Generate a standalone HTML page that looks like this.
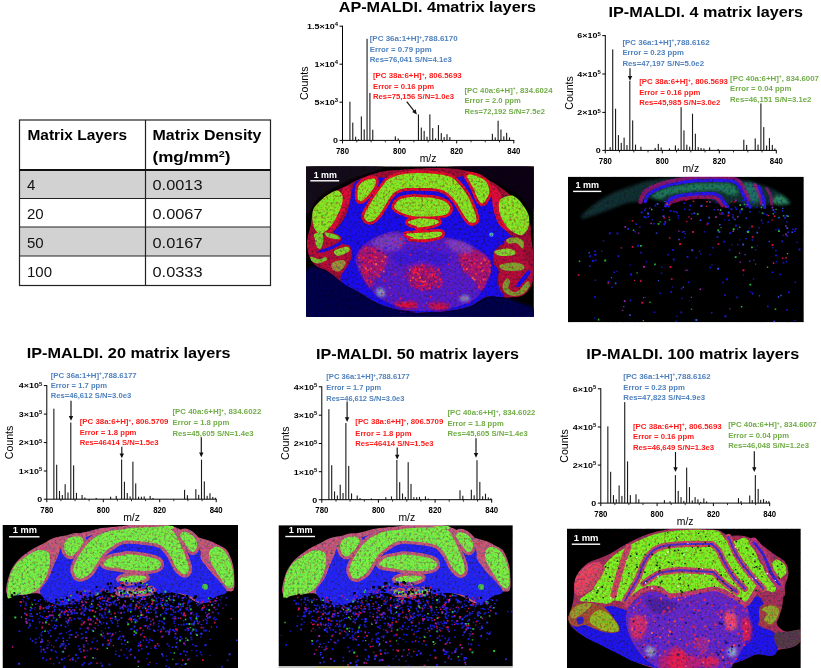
<!DOCTYPE html>
<html><head><meta charset="utf-8"><title>MALDI matrix layers</title>
<style>html,body{margin:0;padding:0;background:#fff}svg{display:block}</style></head>
<body>
<svg width="821" height="668" viewBox="0 0 821 668" font-family='"Liberation Sans", sans-serif'>
<defs>
<filter id="bl1" x="-5%" y="-5%" width="110%" height="110%"><feGaussianBlur stdDeviation="0.7"/></filter>
<filter id="bl2" x="-10%" y="-10%" width="120%" height="120%"><feGaussianBlur stdDeviation="1.6"/></filter>
<filter id="grain" x="0" y="0" width="100%" height="100%"><feTurbulence type="fractalNoise" baseFrequency="0.55" numOctaves="2" seed="3" result="n"/><feColorMatrix in="n" type="matrix" values="0 0 0 0 0  0 0 0 0 0  0 0 0 0 0  1.6 0 0 0 -0.55"/></filter>
<filter id="cn" x="0" y="0" width="100%" height="100%" color-interpolation-filters="sRGB"><feTurbulence type="fractalNoise" baseFrequency="0.42" numOctaves="2" seed="7" result="n"/><feColorMatrix in="n" type="matrix" values="1.3 0 0 0 0.3  0 1.3 0 0 0.3  0 0 1.3 0 0.3  0 0 0 0 1"/></filter>
</defs>
<rect width="821" height="668" fill="#fff"/>
<rect x="19.5" y="170" width="251.0" height="28.5" fill="#d2d2d2"/>
<rect x="19.5" y="227" width="251.0" height="29" fill="#d2d2d2"/>
<rect x="19.5" y="120" width="251.0" height="165.5" fill="none" stroke="#222" stroke-width="1.2"/>
<line x1="145.5" y1="120" x2="145.5" y2="285.5" stroke="#222" stroke-width="1.2"/>
<line x1="19.5" y1="170" x2="270.5" y2="170" stroke="#111" stroke-width="1.8"/>
<line x1="19.5" y1="198.5" x2="270.5" y2="198.5" stroke="#222" stroke-width="1.1"/>
<line x1="19.5" y1="227" x2="270.5" y2="227" stroke="#222" stroke-width="1.1"/>
<line x1="19.5" y1="256" x2="270.5" y2="256" stroke="#222" stroke-width="1.1"/>
<text x="27.5" y="140.2" font-size="14.6" font-weight="bold" fill="#000" text-anchor="start" textLength="99.5" lengthAdjust="spacingAndGlyphs" >Matrix Layers</text>
<text x="152.5" y="140.2" font-size="14.6" font-weight="bold" fill="#000" text-anchor="start" textLength="109.0" lengthAdjust="spacingAndGlyphs" >Matrix Density</text>
<text x="152.5" y="162.0" font-size="15" font-weight="bold" fill="#000" text-anchor="start" textLength="78.0" lengthAdjust="spacingAndGlyphs" >(mg/mm<tspan font-size="9.5" dy="-5">2</tspan><tspan dy="5">)</tspan></text>
<text x="27.0" y="190.0" font-size="15" font-weight="normal" fill="#111" text-anchor="start" >4</text>
<text x="152.5" y="190.0" font-size="15" font-weight="normal" fill="#111" text-anchor="start" textLength="50.0" lengthAdjust="spacingAndGlyphs" >0.0013</text>
<text x="27.0" y="218.5" font-size="15" font-weight="normal" fill="#111" text-anchor="start" >20</text>
<text x="152.5" y="218.5" font-size="15" font-weight="normal" fill="#111" text-anchor="start" textLength="50.0" lengthAdjust="spacingAndGlyphs" >0.0067</text>
<text x="27.0" y="247.5" font-size="15" font-weight="normal" fill="#111" text-anchor="start" >50</text>
<text x="152.5" y="247.5" font-size="15" font-weight="normal" fill="#111" text-anchor="start" textLength="50.0" lengthAdjust="spacingAndGlyphs" >0.0167</text>
<text x="27.0" y="276.5" font-size="15" font-weight="normal" fill="#111" text-anchor="start" >100</text>
<text x="152.5" y="276.5" font-size="15" font-weight="normal" fill="#111" text-anchor="start" textLength="50.0" lengthAdjust="spacingAndGlyphs" >0.0333</text>
<rect x="349.37" y="101.70" width="1.1" height="38.70" fill="#1a1a1a"/>
<rect x="352.23" y="122.60" width="1.1" height="17.80" fill="#1a1a1a"/>
<rect x="355.08" y="136.70" width="1.1" height="3.70" fill="#1a1a1a"/>
<rect x="357.94" y="139.20" width="1.1" height="1.20" fill="#1a1a1a"/>
<rect x="360.79" y="116.40" width="1.1" height="24.00" fill="#1a1a1a"/>
<rect x="363.65" y="129.40" width="1.1" height="11.00" fill="#1a1a1a"/>
<rect x="366.50" y="38.80" width="1.1" height="101.60" fill="#1a1a1a"/>
<rect x="369.36" y="92.90" width="1.1" height="47.50" fill="#1a1a1a"/>
<rect x="372.21" y="129.70" width="1.1" height="10.70" fill="#1a1a1a"/>
<rect x="394.77" y="136.40" width="1.1" height="4.00" fill="#1a1a1a"/>
<rect x="397.62" y="138.40" width="1.1" height="2.00" fill="#1a1a1a"/>
<rect x="417.89" y="114.40" width="1.1" height="26.00" fill="#1a1a1a"/>
<rect x="420.75" y="127.60" width="1.1" height="12.80" fill="#1a1a1a"/>
<rect x="423.60" y="130.90" width="1.1" height="9.50" fill="#1a1a1a"/>
<rect x="426.46" y="136.70" width="1.1" height="3.70" fill="#1a1a1a"/>
<rect x="429.31" y="114.40" width="1.1" height="26.00" fill="#1a1a1a"/>
<rect x="432.17" y="128.10" width="1.1" height="12.30" fill="#1a1a1a"/>
<rect x="435.02" y="138.40" width="1.1" height="2.00" fill="#1a1a1a"/>
<rect x="437.88" y="125.10" width="1.1" height="15.30" fill="#1a1a1a"/>
<rect x="440.73" y="133.10" width="1.1" height="7.30" fill="#1a1a1a"/>
<rect x="443.59" y="137.10" width="1.1" height="3.30" fill="#1a1a1a"/>
<rect x="446.44" y="134.20" width="1.1" height="6.20" fill="#1a1a1a"/>
<rect x="449.30" y="137.10" width="1.1" height="3.30" fill="#1a1a1a"/>
<rect x="491.84" y="133.80" width="1.1" height="6.60" fill="#1a1a1a"/>
<rect x="494.69" y="137.40" width="1.1" height="3.00" fill="#1a1a1a"/>
<rect x="497.55" y="120.70" width="1.1" height="19.70" fill="#1a1a1a"/>
<rect x="500.40" y="129.50" width="1.1" height="10.90" fill="#1a1a1a"/>
<rect x="503.26" y="136.40" width="1.1" height="4.00" fill="#1a1a1a"/>
<rect x="506.11" y="132.80" width="1.1" height="7.60" fill="#1a1a1a"/>
<rect x="508.97" y="137.40" width="1.1" height="3.00" fill="#1a1a1a"/>
<path d="M342.5 25.7V140.4H514.3" fill="none" stroke="#000" stroke-width="1"/>
<line x1="339.5" y1="26.2" x2="342.5" y2="26.2" stroke="#000" stroke-width="1"/>
<text x="338.0" y="29.0" font-size="7.6" font-weight="bold" fill="#000" text-anchor="end" textLength="31.0" lengthAdjust="spacingAndGlyphs" >1.5×10<tspan font-size="5" dy="-2.6">4</tspan></text>
<line x1="339.5" y1="64.2" x2="342.5" y2="64.2" stroke="#000" stroke-width="1"/>
<text x="338.0" y="67.0" font-size="7.6" font-weight="bold" fill="#000" text-anchor="end" textLength="23.5" lengthAdjust="spacingAndGlyphs" >1×10<tspan font-size="5" dy="-2.6">4</tspan></text>
<line x1="339.5" y1="102.2" x2="342.5" y2="102.2" stroke="#000" stroke-width="1"/>
<text x="338.0" y="105.0" font-size="7.6" font-weight="bold" fill="#000" text-anchor="end" textLength="23.5" lengthAdjust="spacingAndGlyphs" >5×10<tspan font-size="5" dy="-2.6">3</tspan></text>
<line x1="339.5" y1="140.4" x2="342.5" y2="140.4" stroke="#000" stroke-width="1"/>
<text x="338.0" y="143.2" font-size="7.6" font-weight="bold" fill="#000" text-anchor="end" textLength="5.0" lengthAdjust="spacingAndGlyphs" >0</text>
<line x1="342.5" y1="140.4" x2="342.5" y2="143.4" stroke="#000" stroke-width="1"/>
<text x="342.5" y="154.0" font-size="8.5" font-weight="bold" fill="#000" text-anchor="middle" textLength="13.0" lengthAdjust="spacingAndGlyphs" >780</text>
<line x1="399.6" y1="140.4" x2="399.6" y2="143.4" stroke="#000" stroke-width="1"/>
<text x="399.6" y="154.0" font-size="8.5" font-weight="bold" fill="#000" text-anchor="middle" textLength="13.0" lengthAdjust="spacingAndGlyphs" >800</text>
<line x1="456.7" y1="140.4" x2="456.7" y2="143.4" stroke="#000" stroke-width="1"/>
<text x="456.7" y="154.0" font-size="8.5" font-weight="bold" fill="#000" text-anchor="middle" textLength="13.0" lengthAdjust="spacingAndGlyphs" >820</text>
<line x1="513.8" y1="140.4" x2="513.8" y2="143.4" stroke="#000" stroke-width="1"/>
<text x="513.8" y="154.0" font-size="8.5" font-weight="bold" fill="#000" text-anchor="middle" textLength="13.0" lengthAdjust="spacingAndGlyphs" >840</text>
<line x1="356.8" y1="140.4" x2="356.8" y2="142.4" stroke="#000" stroke-width="0.8"/>
<line x1="371.1" y1="140.4" x2="371.1" y2="142.4" stroke="#000" stroke-width="0.8"/>
<line x1="385.3" y1="140.4" x2="385.3" y2="142.4" stroke="#000" stroke-width="0.8"/>
<line x1="413.9" y1="140.4" x2="413.9" y2="142.4" stroke="#000" stroke-width="0.8"/>
<line x1="428.1" y1="140.4" x2="428.1" y2="142.4" stroke="#000" stroke-width="0.8"/>
<line x1="442.4" y1="140.4" x2="442.4" y2="142.4" stroke="#000" stroke-width="0.8"/>
<line x1="471.0" y1="140.4" x2="471.0" y2="142.4" stroke="#000" stroke-width="0.8"/>
<line x1="485.2" y1="140.4" x2="485.2" y2="142.4" stroke="#000" stroke-width="0.8"/>
<line x1="499.5" y1="140.4" x2="499.5" y2="142.4" stroke="#000" stroke-width="0.8"/>
<text x="428.1" y="161.9" font-size="10.4" font-weight="normal" fill="#000" text-anchor="middle" >m/z</text>
<text transform="translate(307.5,83.3) rotate(-90)" font-size="10.6" text-anchor="middle" textLength="33.5" lengthAdjust="spacingAndGlyphs">Counts</text>
<text x="338.7" y="11.9" font-size="15.4" font-weight="bold" fill="#000" text-anchor="start" textLength="197.3" lengthAdjust="spacingAndGlyphs" >AP-MALDI. 4matrix layers</text>
<text x="369.7" y="41.3" font-size="7.4" font-weight="bold" fill="#4f81bd" text-anchor="start" textLength="88.0" lengthAdjust="spacingAndGlyphs" >[PC 36a:1+H]<tspan font-size="4.6" dy="-2.6">+</tspan><tspan dy="2.6">,788.6170</tspan></text>
<text x="369.7" y="51.7" font-size="7.4" font-weight="bold" fill="#4f81bd" text-anchor="start" textLength="62.1" lengthAdjust="spacingAndGlyphs" >Error = 0.79 ppm</text>
<text x="369.7" y="61.9" font-size="7.4" font-weight="bold" fill="#4f81bd" text-anchor="start" textLength="82.3" lengthAdjust="spacingAndGlyphs" >Res=76,041 S/N=4.1e3</text>
<text x="373.0" y="78.3" font-size="7.4" font-weight="bold" fill="#ff1a1a" text-anchor="start" textLength="88.7" lengthAdjust="spacingAndGlyphs" >[PC 38a:6+H]<tspan font-size="4.6" dy="-2.6">+</tspan><tspan dy="2.6">, 806.5693</tspan></text>
<text x="373.0" y="88.7" font-size="7.4" font-weight="bold" fill="#ff1a1a" text-anchor="start" textLength="61.1" lengthAdjust="spacingAndGlyphs" >Error = 0.16 ppm</text>
<text x="373.0" y="99.2" font-size="7.4" font-weight="bold" fill="#ff1a1a" text-anchor="start" textLength="81.0" lengthAdjust="spacingAndGlyphs" >Res=75,156 S/N=1.0e3</text>
<text x="464.5" y="92.5" font-size="7.4" font-weight="bold" fill="#70ad47" text-anchor="start" textLength="88.0" lengthAdjust="spacingAndGlyphs" >[PC 40a:6+H]<tspan font-size="4.6" dy="-2.6">+</tspan><tspan dy="2.6">, 834.6024</tspan></text>
<text x="464.5" y="103.0" font-size="7.4" font-weight="bold" fill="#70ad47" text-anchor="start" textLength="56.3" lengthAdjust="spacingAndGlyphs" >Error = 2.0 ppm</text>
<text x="464.5" y="113.5" font-size="7.4" font-weight="bold" fill="#70ad47" text-anchor="start" textLength="80.4" lengthAdjust="spacingAndGlyphs" >Res=72,192 S/N=7.5e2</text>
<line x1="406.7" y1="101.7" x2="415.6" y2="112.8" stroke="#111" stroke-width="1.15"/>
<path d="M416.9 114.4L412.2 112.0L415.6 109.3Z" fill="#111"/>
<rect x="609.60" y="147.10" width="1.1" height="3.30" fill="#1a1a1a"/>
<rect x="612.16" y="49.40" width="1.1" height="101.00" fill="#1a1a1a"/>
<rect x="615.01" y="108.70" width="1.1" height="41.70" fill="#1a1a1a"/>
<rect x="617.86" y="135.10" width="1.1" height="15.30" fill="#1a1a1a"/>
<rect x="620.71" y="142.90" width="1.1" height="7.50" fill="#1a1a1a"/>
<rect x="623.56" y="137.60" width="1.1" height="12.80" fill="#1a1a1a"/>
<rect x="626.41" y="145.10" width="1.1" height="5.30" fill="#1a1a1a"/>
<rect x="629.26" y="80.90" width="1.1" height="69.50" fill="#1a1a1a"/>
<rect x="632.11" y="120.40" width="1.1" height="30.00" fill="#1a1a1a"/>
<rect x="634.96" y="144.60" width="1.1" height="5.80" fill="#1a1a1a"/>
<rect x="640.38" y="146.70" width="1.1" height="3.70" fill="#1a1a1a"/>
<rect x="654.62" y="147.90" width="1.1" height="2.50" fill="#1a1a1a"/>
<rect x="657.76" y="143.90" width="1.1" height="6.50" fill="#1a1a1a"/>
<rect x="660.61" y="147.40" width="1.1" height="3.00" fill="#1a1a1a"/>
<rect x="668.88" y="148.40" width="1.1" height="2.00" fill="#1a1a1a"/>
<rect x="674.86" y="145.40" width="1.1" height="5.00" fill="#1a1a1a"/>
<rect x="677.71" y="148.40" width="1.1" height="2.00" fill="#1a1a1a"/>
<rect x="680.56" y="107.20" width="1.1" height="43.20" fill="#1a1a1a"/>
<rect x="683.41" y="130.40" width="1.1" height="20.00" fill="#1a1a1a"/>
<rect x="686.26" y="144.70" width="1.1" height="5.70" fill="#1a1a1a"/>
<rect x="689.11" y="146.70" width="1.1" height="3.70" fill="#1a1a1a"/>
<rect x="691.96" y="113.70" width="1.1" height="36.70" fill="#1a1a1a"/>
<rect x="694.81" y="133.70" width="1.1" height="16.70" fill="#1a1a1a"/>
<rect x="697.66" y="147.10" width="1.1" height="3.30" fill="#1a1a1a"/>
<rect x="700.51" y="147.90" width="1.1" height="2.50" fill="#1a1a1a"/>
<rect x="703.36" y="148.40" width="1.1" height="2.00" fill="#1a1a1a"/>
<rect x="709.06" y="147.40" width="1.1" height="3.00" fill="#1a1a1a"/>
<rect x="717.61" y="148.90" width="1.1" height="1.50" fill="#1a1a1a"/>
<rect x="743.26" y="139.70" width="1.1" height="10.70" fill="#1a1a1a"/>
<rect x="746.11" y="144.90" width="1.1" height="5.50" fill="#1a1a1a"/>
<rect x="754.66" y="138.40" width="1.1" height="12.00" fill="#1a1a1a"/>
<rect x="757.51" y="144.60" width="1.1" height="5.80" fill="#1a1a1a"/>
<rect x="760.36" y="103.40" width="1.1" height="47.00" fill="#1a1a1a"/>
<rect x="763.21" y="127.10" width="1.1" height="23.30" fill="#1a1a1a"/>
<rect x="766.06" y="145.50" width="1.1" height="4.90" fill="#1a1a1a"/>
<rect x="768.91" y="138.10" width="1.1" height="12.30" fill="#1a1a1a"/>
<rect x="771.76" y="144.90" width="1.1" height="5.50" fill="#1a1a1a"/>
<rect x="774.33" y="148.40" width="1.1" height="2.00" fill="#1a1a1a"/>
<path d="M605.3 35.1V150.4H776.8" fill="none" stroke="#000" stroke-width="1"/>
<line x1="602.3" y1="35.6" x2="605.3" y2="35.6" stroke="#000" stroke-width="1"/>
<text x="600.8" y="38.4" font-size="7.6" font-weight="bold" fill="#000" text-anchor="end" textLength="23.5" lengthAdjust="spacingAndGlyphs" >6×10<tspan font-size="5" dy="-2.6">5</tspan></text>
<line x1="602.3" y1="74.0" x2="605.3" y2="74.0" stroke="#000" stroke-width="1"/>
<text x="600.8" y="76.8" font-size="7.6" font-weight="bold" fill="#000" text-anchor="end" textLength="23.5" lengthAdjust="spacingAndGlyphs" >4×10<tspan font-size="5" dy="-2.6">5</tspan></text>
<line x1="602.3" y1="112.4" x2="605.3" y2="112.4" stroke="#000" stroke-width="1"/>
<text x="600.8" y="115.2" font-size="7.6" font-weight="bold" fill="#000" text-anchor="end" textLength="23.5" lengthAdjust="spacingAndGlyphs" >2×10<tspan font-size="5" dy="-2.6">5</tspan></text>
<line x1="602.3" y1="150.4" x2="605.3" y2="150.4" stroke="#000" stroke-width="1"/>
<text x="600.8" y="153.2" font-size="7.6" font-weight="bold" fill="#000" text-anchor="end" textLength="5.0" lengthAdjust="spacingAndGlyphs" >0</text>
<line x1="605.3" y1="150.4" x2="605.3" y2="153.4" stroke="#000" stroke-width="1"/>
<text x="605.3" y="164.0" font-size="8.5" font-weight="bold" fill="#000" text-anchor="middle" textLength="13.0" lengthAdjust="spacingAndGlyphs" >780</text>
<line x1="662.3" y1="150.4" x2="662.3" y2="153.4" stroke="#000" stroke-width="1"/>
<text x="662.3" y="164.0" font-size="8.5" font-weight="bold" fill="#000" text-anchor="middle" textLength="13.0" lengthAdjust="spacingAndGlyphs" >800</text>
<line x1="719.3" y1="150.4" x2="719.3" y2="153.4" stroke="#000" stroke-width="1"/>
<text x="719.3" y="164.0" font-size="8.5" font-weight="bold" fill="#000" text-anchor="middle" textLength="13.0" lengthAdjust="spacingAndGlyphs" >820</text>
<line x1="776.3" y1="150.4" x2="776.3" y2="153.4" stroke="#000" stroke-width="1"/>
<text x="776.3" y="164.0" font-size="8.5" font-weight="bold" fill="#000" text-anchor="middle" textLength="13.0" lengthAdjust="spacingAndGlyphs" >840</text>
<line x1="619.5" y1="150.4" x2="619.5" y2="152.4" stroke="#000" stroke-width="0.8"/>
<line x1="633.8" y1="150.4" x2="633.8" y2="152.4" stroke="#000" stroke-width="0.8"/>
<line x1="648.0" y1="150.4" x2="648.0" y2="152.4" stroke="#000" stroke-width="0.8"/>
<line x1="676.5" y1="150.4" x2="676.5" y2="152.4" stroke="#000" stroke-width="0.8"/>
<line x1="690.8" y1="150.4" x2="690.8" y2="152.4" stroke="#000" stroke-width="0.8"/>
<line x1="705.0" y1="150.4" x2="705.0" y2="152.4" stroke="#000" stroke-width="0.8"/>
<line x1="733.5" y1="150.4" x2="733.5" y2="152.4" stroke="#000" stroke-width="0.8"/>
<line x1="747.8" y1="150.4" x2="747.8" y2="152.4" stroke="#000" stroke-width="0.8"/>
<line x1="762.0" y1="150.4" x2="762.0" y2="152.4" stroke="#000" stroke-width="0.8"/>
<text x="690.8" y="171.9" font-size="10.4" font-weight="normal" fill="#000" text-anchor="middle" >m/z</text>
<text transform="translate(572.8,93.0) rotate(-90)" font-size="10.6" text-anchor="middle" textLength="33.5" lengthAdjust="spacingAndGlyphs">Counts</text>
<text x="608.5" y="17.1" font-size="15.4" font-weight="bold" fill="#000" text-anchor="start" textLength="194.5" lengthAdjust="spacingAndGlyphs" >IP-MALDI. 4 matrix layers</text>
<text x="622.4" y="44.7" font-size="7.4" font-weight="bold" fill="#4f81bd" text-anchor="start" textLength="87.2" lengthAdjust="spacingAndGlyphs" >[PC 36a:1+H]<tspan font-size="4.6" dy="-2.6">+</tspan><tspan dy="2.6">,788.6162</tspan></text>
<text x="622.4" y="55.1" font-size="7.4" font-weight="bold" fill="#4f81bd" text-anchor="start" textLength="61.5" lengthAdjust="spacingAndGlyphs" >Error = 0.23 ppm</text>
<text x="622.4" y="65.8" font-size="7.4" font-weight="bold" fill="#4f81bd" text-anchor="start" textLength="81.6" lengthAdjust="spacingAndGlyphs" >Res=47,197 S/N=5.0e2</text>
<text x="639.2" y="84.2" font-size="7.4" font-weight="bold" fill="#ff1a1a" text-anchor="start" textLength="88.8" lengthAdjust="spacingAndGlyphs" >[PC 38a:6+H]<tspan font-size="4.6" dy="-2.6">+</tspan><tspan dy="2.6">, 806.5693</tspan></text>
<text x="639.2" y="95.0" font-size="7.4" font-weight="bold" fill="#ff1a1a" text-anchor="start" textLength="61.1" lengthAdjust="spacingAndGlyphs" >Error = 0.16 ppm</text>
<text x="639.2" y="105.3" font-size="7.4" font-weight="bold" fill="#ff1a1a" text-anchor="start" textLength="81.1" lengthAdjust="spacingAndGlyphs" >Res=45,985 S/N=3.0e2</text>
<text x="730.0" y="81.0" font-size="7.4" font-weight="bold" fill="#70ad47" text-anchor="start" textLength="89.0" lengthAdjust="spacingAndGlyphs" >[PC 40a:6+H]<tspan font-size="4.6" dy="-2.6">+</tspan><tspan dy="2.6">, 834.6007</tspan></text>
<text x="730.0" y="91.4" font-size="7.4" font-weight="bold" fill="#70ad47" text-anchor="start" textLength="61.3" lengthAdjust="spacingAndGlyphs" >Error = 0.04 ppm</text>
<text x="730.0" y="101.7" font-size="7.4" font-weight="bold" fill="#70ad47" text-anchor="start" textLength="81.3" lengthAdjust="spacingAndGlyphs" >Res=46,151 S/N=3.1e2</text>
<line x1="630.0" y1="68.3" x2="630.0" y2="78.8" stroke="#111" stroke-width="1.15"/>
<path d="M630.0 80.8L627.8 76.0L632.2 76.0Z" fill="#111"/>
<rect x="53.31" y="408.70" width="1.1" height="90.50" fill="#1a1a1a"/>
<rect x="56.13" y="464.70" width="1.1" height="34.50" fill="#1a1a1a"/>
<rect x="58.95" y="490.90" width="1.1" height="8.30" fill="#1a1a1a"/>
<rect x="61.78" y="495.00" width="1.1" height="4.20" fill="#1a1a1a"/>
<rect x="64.60" y="484.20" width="1.1" height="15.00" fill="#1a1a1a"/>
<rect x="67.42" y="492.50" width="1.1" height="6.70" fill="#1a1a1a"/>
<rect x="70.25" y="422.50" width="1.1" height="76.70" fill="#1a1a1a"/>
<rect x="73.07" y="465.40" width="1.1" height="33.80" fill="#1a1a1a"/>
<rect x="75.89" y="492.90" width="1.1" height="6.30" fill="#1a1a1a"/>
<rect x="81.54" y="495.00" width="1.1" height="4.20" fill="#1a1a1a"/>
<rect x="84.36" y="497.50" width="1.1" height="1.70" fill="#1a1a1a"/>
<rect x="95.65" y="497.90" width="1.1" height="1.30" fill="#1a1a1a"/>
<rect x="110.05" y="496.70" width="1.1" height="2.50" fill="#1a1a1a"/>
<rect x="115.70" y="495.90" width="1.1" height="3.30" fill="#1a1a1a"/>
<rect x="121.06" y="459.50" width="1.1" height="39.70" fill="#1a1a1a"/>
<rect x="123.88" y="481.70" width="1.1" height="17.50" fill="#1a1a1a"/>
<rect x="126.71" y="493.00" width="1.1" height="6.20" fill="#1a1a1a"/>
<rect x="129.53" y="496.40" width="1.1" height="2.80" fill="#1a1a1a"/>
<rect x="132.35" y="461.70" width="1.1" height="37.50" fill="#1a1a1a"/>
<rect x="135.17" y="483.40" width="1.1" height="15.80" fill="#1a1a1a"/>
<rect x="138.00" y="496.70" width="1.1" height="2.50" fill="#1a1a1a"/>
<rect x="140.82" y="496.70" width="1.1" height="2.50" fill="#1a1a1a"/>
<rect x="143.64" y="496.40" width="1.1" height="2.80" fill="#1a1a1a"/>
<rect x="149.57" y="495.90" width="1.1" height="3.30" fill="#1a1a1a"/>
<rect x="152.39" y="498.00" width="1.1" height="1.20" fill="#1a1a1a"/>
<rect x="184.01" y="489.80" width="1.1" height="9.40" fill="#1a1a1a"/>
<rect x="186.84" y="495.20" width="1.1" height="4.00" fill="#1a1a1a"/>
<rect x="195.30" y="489.20" width="1.1" height="10.00" fill="#1a1a1a"/>
<rect x="198.13" y="494.80" width="1.1" height="4.40" fill="#1a1a1a"/>
<rect x="200.95" y="459.70" width="1.1" height="39.50" fill="#1a1a1a"/>
<rect x="203.77" y="481.40" width="1.1" height="17.80" fill="#1a1a1a"/>
<rect x="206.60" y="495.80" width="1.1" height="3.40" fill="#1a1a1a"/>
<rect x="209.42" y="493.20" width="1.1" height="6.00" fill="#1a1a1a"/>
<rect x="212.24" y="496.90" width="1.1" height="2.30" fill="#1a1a1a"/>
<rect x="214.78" y="497.70" width="1.1" height="1.50" fill="#1a1a1a"/>
<path d="M46.8 385.1V499.2H216.7" fill="none" stroke="#000" stroke-width="1"/>
<line x1="43.8" y1="385.6" x2="46.8" y2="385.6" stroke="#000" stroke-width="1"/>
<text x="42.3" y="388.4" font-size="7.6" font-weight="bold" fill="#000" text-anchor="end" textLength="23.5" lengthAdjust="spacingAndGlyphs" >4×10<tspan font-size="5" dy="-2.6">5</tspan></text>
<line x1="43.8" y1="414.1" x2="46.8" y2="414.1" stroke="#000" stroke-width="1"/>
<text x="42.3" y="416.9" font-size="7.6" font-weight="bold" fill="#000" text-anchor="end" textLength="23.5" lengthAdjust="spacingAndGlyphs" >3×10<tspan font-size="5" dy="-2.6">5</tspan></text>
<line x1="43.8" y1="442.6" x2="46.8" y2="442.6" stroke="#000" stroke-width="1"/>
<text x="42.3" y="445.4" font-size="7.6" font-weight="bold" fill="#000" text-anchor="end" textLength="23.5" lengthAdjust="spacingAndGlyphs" >2×10<tspan font-size="5" dy="-2.6">5</tspan></text>
<line x1="43.8" y1="471.0" x2="46.8" y2="471.0" stroke="#000" stroke-width="1"/>
<text x="42.3" y="473.8" font-size="7.6" font-weight="bold" fill="#000" text-anchor="end" textLength="23.5" lengthAdjust="spacingAndGlyphs" >1×10<tspan font-size="5" dy="-2.6">5</tspan></text>
<line x1="43.8" y1="499.2" x2="46.8" y2="499.2" stroke="#000" stroke-width="1"/>
<text x="42.3" y="502.0" font-size="7.6" font-weight="bold" fill="#000" text-anchor="end" textLength="5.0" lengthAdjust="spacingAndGlyphs" >0</text>
<line x1="46.8" y1="499.2" x2="46.8" y2="502.2" stroke="#000" stroke-width="1"/>
<text x="46.8" y="512.8" font-size="8.5" font-weight="bold" fill="#000" text-anchor="middle" textLength="13.0" lengthAdjust="spacingAndGlyphs" >780</text>
<line x1="103.3" y1="499.2" x2="103.3" y2="502.2" stroke="#000" stroke-width="1"/>
<text x="103.3" y="512.8" font-size="8.5" font-weight="bold" fill="#000" text-anchor="middle" textLength="13.0" lengthAdjust="spacingAndGlyphs" >800</text>
<line x1="159.7" y1="499.2" x2="159.7" y2="502.2" stroke="#000" stroke-width="1"/>
<text x="159.7" y="512.8" font-size="8.5" font-weight="bold" fill="#000" text-anchor="middle" textLength="13.0" lengthAdjust="spacingAndGlyphs" >820</text>
<line x1="216.2" y1="499.2" x2="216.2" y2="502.2" stroke="#000" stroke-width="1"/>
<text x="216.2" y="512.8" font-size="8.5" font-weight="bold" fill="#000" text-anchor="middle" textLength="13.0" lengthAdjust="spacingAndGlyphs" >840</text>
<line x1="60.9" y1="499.2" x2="60.9" y2="501.2" stroke="#000" stroke-width="0.8"/>
<line x1="75.0" y1="499.2" x2="75.0" y2="501.2" stroke="#000" stroke-width="0.8"/>
<line x1="89.1" y1="499.2" x2="89.1" y2="501.2" stroke="#000" stroke-width="0.8"/>
<line x1="117.4" y1="499.2" x2="117.4" y2="501.2" stroke="#000" stroke-width="0.8"/>
<line x1="131.5" y1="499.2" x2="131.5" y2="501.2" stroke="#000" stroke-width="0.8"/>
<line x1="145.6" y1="499.2" x2="145.6" y2="501.2" stroke="#000" stroke-width="0.8"/>
<line x1="173.8" y1="499.2" x2="173.8" y2="501.2" stroke="#000" stroke-width="0.8"/>
<line x1="187.9" y1="499.2" x2="187.9" y2="501.2" stroke="#000" stroke-width="0.8"/>
<line x1="202.1" y1="499.2" x2="202.1" y2="501.2" stroke="#000" stroke-width="0.8"/>
<text x="131.5" y="520.7" font-size="10.4" font-weight="normal" fill="#000" text-anchor="middle" >m/z</text>
<text transform="translate(13.4,442.4) rotate(-90)" font-size="10.6" text-anchor="middle" textLength="33.5" lengthAdjust="spacingAndGlyphs">Counts</text>
<text x="26.8" y="358.1" font-size="15.4" font-weight="bold" fill="#000" text-anchor="start" textLength="203.7" lengthAdjust="spacingAndGlyphs" >IP-MALDI. 20 matrix layers</text>
<text x="50.7" y="377.5" font-size="7.4" font-weight="bold" fill="#4f81bd" text-anchor="start" textLength="86.0" lengthAdjust="spacingAndGlyphs" >[PC 36a:1+H]<tspan font-size="4.6" dy="-2.6">+</tspan><tspan dy="2.6">,788.6177</tspan></text>
<text x="50.7" y="388.0" font-size="7.4" font-weight="bold" fill="#4f81bd" text-anchor="start" textLength="56.4" lengthAdjust="spacingAndGlyphs" >Error = 1.7 ppm</text>
<text x="50.7" y="398.3" font-size="7.4" font-weight="bold" fill="#4f81bd" text-anchor="start" textLength="80.5" lengthAdjust="spacingAndGlyphs" >Res=46,612 S/N=3.0e3</text>
<text x="79.7" y="424.2" font-size="7.4" font-weight="bold" fill="#ff1a1a" text-anchor="start" textLength="88.8" lengthAdjust="spacingAndGlyphs" >[PC 38a:6+H]<tspan font-size="4.6" dy="-2.6">+</tspan><tspan dy="2.6">, 806.5709</tspan></text>
<text x="79.7" y="434.7" font-size="7.4" font-weight="bold" fill="#ff1a1a" text-anchor="start" textLength="56.8" lengthAdjust="spacingAndGlyphs" >Error = 1.8 ppm</text>
<text x="79.7" y="445.0" font-size="7.4" font-weight="bold" fill="#ff1a1a" text-anchor="start" textLength="78.9" lengthAdjust="spacingAndGlyphs" >Res=46414 S/N=1.5e3</text>
<text x="172.5" y="414.4" font-size="7.4" font-weight="bold" fill="#70ad47" text-anchor="start" textLength="88.8" lengthAdjust="spacingAndGlyphs" >[PC 40a:6+H]<tspan font-size="4.6" dy="-2.6">+</tspan><tspan dy="2.6">, 834.6022</tspan></text>
<text x="172.5" y="424.8" font-size="7.4" font-weight="bold" fill="#70ad47" text-anchor="start" textLength="56.8" lengthAdjust="spacingAndGlyphs" >Error = 1.8 ppm</text>
<text x="172.5" y="435.5" font-size="7.4" font-weight="bold" fill="#70ad47" text-anchor="start" textLength="81.1" lengthAdjust="spacingAndGlyphs" >Res=45,605 S/N=1.4e3</text>
<line x1="71.0" y1="400.8" x2="71.0" y2="418.8" stroke="#111" stroke-width="1.15"/>
<path d="M71.0 420.8L68.8 416.0L73.2 416.0Z" fill="#111"/>
<line x1="121.8" y1="446.7" x2="121.8" y2="456.3" stroke="#111" stroke-width="1.15"/>
<path d="M121.8 458.3L119.6 453.5L124.0 453.5Z" fill="#111"/>
<line x1="201.3" y1="437.2" x2="201.3" y2="455.3" stroke="#111" stroke-width="1.15"/>
<path d="M201.3 457.3L199.1 452.5L203.5 452.5Z" fill="#111"/>
<rect x="328.33" y="409.20" width="1.1" height="90.50" fill="#1a1a1a"/>
<rect x="331.16" y="465.20" width="1.1" height="34.50" fill="#1a1a1a"/>
<rect x="333.99" y="491.40" width="1.1" height="8.30" fill="#1a1a1a"/>
<rect x="336.83" y="495.50" width="1.1" height="4.20" fill="#1a1a1a"/>
<rect x="339.66" y="484.70" width="1.1" height="15.00" fill="#1a1a1a"/>
<rect x="342.49" y="493.00" width="1.1" height="6.70" fill="#1a1a1a"/>
<rect x="345.32" y="423.00" width="1.1" height="76.70" fill="#1a1a1a"/>
<rect x="348.15" y="465.90" width="1.1" height="33.80" fill="#1a1a1a"/>
<rect x="350.99" y="493.40" width="1.1" height="6.30" fill="#1a1a1a"/>
<rect x="356.65" y="495.50" width="1.1" height="4.20" fill="#1a1a1a"/>
<rect x="359.48" y="498.00" width="1.1" height="1.70" fill="#1a1a1a"/>
<rect x="370.81" y="498.40" width="1.1" height="1.30" fill="#1a1a1a"/>
<rect x="385.25" y="497.20" width="1.1" height="2.50" fill="#1a1a1a"/>
<rect x="390.92" y="496.40" width="1.1" height="3.30" fill="#1a1a1a"/>
<rect x="396.30" y="460.00" width="1.1" height="39.70" fill="#1a1a1a"/>
<rect x="399.13" y="482.20" width="1.1" height="17.50" fill="#1a1a1a"/>
<rect x="401.96" y="493.50" width="1.1" height="6.20" fill="#1a1a1a"/>
<rect x="404.79" y="496.90" width="1.1" height="2.80" fill="#1a1a1a"/>
<rect x="407.63" y="462.20" width="1.1" height="37.50" fill="#1a1a1a"/>
<rect x="410.46" y="483.90" width="1.1" height="15.80" fill="#1a1a1a"/>
<rect x="413.29" y="497.20" width="1.1" height="2.50" fill="#1a1a1a"/>
<rect x="416.12" y="497.20" width="1.1" height="2.50" fill="#1a1a1a"/>
<rect x="418.95" y="496.90" width="1.1" height="2.80" fill="#1a1a1a"/>
<rect x="424.90" y="496.40" width="1.1" height="3.30" fill="#1a1a1a"/>
<rect x="427.73" y="498.50" width="1.1" height="1.20" fill="#1a1a1a"/>
<rect x="459.45" y="490.30" width="1.1" height="9.40" fill="#1a1a1a"/>
<rect x="462.28" y="495.70" width="1.1" height="4.00" fill="#1a1a1a"/>
<rect x="470.78" y="489.70" width="1.1" height="10.00" fill="#1a1a1a"/>
<rect x="473.61" y="495.30" width="1.1" height="4.40" fill="#1a1a1a"/>
<rect x="476.44" y="460.20" width="1.1" height="39.50" fill="#1a1a1a"/>
<rect x="479.28" y="481.90" width="1.1" height="17.80" fill="#1a1a1a"/>
<rect x="482.11" y="496.30" width="1.1" height="3.40" fill="#1a1a1a"/>
<rect x="484.94" y="493.70" width="1.1" height="6.00" fill="#1a1a1a"/>
<rect x="487.77" y="497.40" width="1.1" height="2.30" fill="#1a1a1a"/>
<rect x="490.32" y="498.20" width="1.1" height="1.50" fill="#1a1a1a"/>
<path d="M321.8 386.3V499.7H492.2" fill="none" stroke="#000" stroke-width="1"/>
<line x1="318.8" y1="386.8" x2="321.8" y2="386.8" stroke="#000" stroke-width="1"/>
<text x="317.3" y="389.6" font-size="7.6" font-weight="bold" fill="#000" text-anchor="end" textLength="23.5" lengthAdjust="spacingAndGlyphs" >4×10<tspan font-size="5" dy="-2.6">5</tspan></text>
<line x1="318.8" y1="415.2" x2="321.8" y2="415.2" stroke="#000" stroke-width="1"/>
<text x="317.3" y="418.0" font-size="7.6" font-weight="bold" fill="#000" text-anchor="end" textLength="23.5" lengthAdjust="spacingAndGlyphs" >3×10<tspan font-size="5" dy="-2.6">5</tspan></text>
<line x1="318.8" y1="443.5" x2="321.8" y2="443.5" stroke="#000" stroke-width="1"/>
<text x="317.3" y="446.3" font-size="7.6" font-weight="bold" fill="#000" text-anchor="end" textLength="23.5" lengthAdjust="spacingAndGlyphs" >2×10<tspan font-size="5" dy="-2.6">5</tspan></text>
<line x1="318.8" y1="471.7" x2="321.8" y2="471.7" stroke="#000" stroke-width="1"/>
<text x="317.3" y="474.5" font-size="7.6" font-weight="bold" fill="#000" text-anchor="end" textLength="23.5" lengthAdjust="spacingAndGlyphs" >1×10<tspan font-size="5" dy="-2.6">5</tspan></text>
<line x1="318.8" y1="499.7" x2="321.8" y2="499.7" stroke="#000" stroke-width="1"/>
<text x="317.3" y="502.5" font-size="7.6" font-weight="bold" fill="#000" text-anchor="end" textLength="5.0" lengthAdjust="spacingAndGlyphs" >0</text>
<line x1="321.8" y1="499.7" x2="321.8" y2="502.7" stroke="#000" stroke-width="1"/>
<text x="321.8" y="513.3" font-size="8.5" font-weight="bold" fill="#000" text-anchor="middle" textLength="13.0" lengthAdjust="spacingAndGlyphs" >780</text>
<line x1="378.4" y1="499.7" x2="378.4" y2="502.7" stroke="#000" stroke-width="1"/>
<text x="378.4" y="513.3" font-size="8.5" font-weight="bold" fill="#000" text-anchor="middle" textLength="13.0" lengthAdjust="spacingAndGlyphs" >800</text>
<line x1="435.1" y1="499.7" x2="435.1" y2="502.7" stroke="#000" stroke-width="1"/>
<text x="435.1" y="513.3" font-size="8.5" font-weight="bold" fill="#000" text-anchor="middle" textLength="13.0" lengthAdjust="spacingAndGlyphs" >820</text>
<line x1="491.7" y1="499.7" x2="491.7" y2="502.7" stroke="#000" stroke-width="1"/>
<text x="491.7" y="513.3" font-size="8.5" font-weight="bold" fill="#000" text-anchor="middle" textLength="13.0" lengthAdjust="spacingAndGlyphs" >840</text>
<line x1="336.0" y1="499.7" x2="336.0" y2="501.7" stroke="#000" stroke-width="0.8"/>
<line x1="350.1" y1="499.7" x2="350.1" y2="501.7" stroke="#000" stroke-width="0.8"/>
<line x1="364.3" y1="499.7" x2="364.3" y2="501.7" stroke="#000" stroke-width="0.8"/>
<line x1="392.6" y1="499.7" x2="392.6" y2="501.7" stroke="#000" stroke-width="0.8"/>
<line x1="406.8" y1="499.7" x2="406.8" y2="501.7" stroke="#000" stroke-width="0.8"/>
<line x1="420.9" y1="499.7" x2="420.9" y2="501.7" stroke="#000" stroke-width="0.8"/>
<line x1="449.2" y1="499.7" x2="449.2" y2="501.7" stroke="#000" stroke-width="0.8"/>
<line x1="463.4" y1="499.7" x2="463.4" y2="501.7" stroke="#000" stroke-width="0.8"/>
<line x1="477.6" y1="499.7" x2="477.6" y2="501.7" stroke="#000" stroke-width="0.8"/>
<text x="406.8" y="521.2" font-size="10.4" font-weight="normal" fill="#000" text-anchor="middle" >m/z</text>
<text transform="translate(289.4,443.2) rotate(-90)" font-size="10.6" text-anchor="middle" textLength="33.5" lengthAdjust="spacingAndGlyphs">Counts</text>
<text x="316.0" y="358.5" font-size="15.4" font-weight="bold" fill="#000" text-anchor="start" textLength="203.0" lengthAdjust="spacingAndGlyphs" >IP-MALDI. 50 matrix layers</text>
<text x="326.3" y="379.3" font-size="7.4" font-weight="bold" fill="#4f81bd" text-anchor="start" textLength="83.5" lengthAdjust="spacingAndGlyphs" >[PC 36a:1+H]<tspan font-size="4.6" dy="-2.6">+</tspan><tspan dy="2.6">,788.6177</tspan></text>
<text x="326.3" y="389.9" font-size="7.4" font-weight="bold" fill="#4f81bd" text-anchor="start" textLength="54.8" lengthAdjust="spacingAndGlyphs" >Error = 1.7 ppm</text>
<text x="326.3" y="400.5" font-size="7.4" font-weight="bold" fill="#4f81bd" text-anchor="start" textLength="78.1" lengthAdjust="spacingAndGlyphs" >Res=46,612 S/N=3.0e3</text>
<text x="355.3" y="424.4" font-size="7.4" font-weight="bold" fill="#ff1a1a" text-anchor="start" textLength="88.0" lengthAdjust="spacingAndGlyphs" >[PC 38a:6+H]<tspan font-size="4.6" dy="-2.6">+</tspan><tspan dy="2.6">, 806.5709</tspan></text>
<text x="355.3" y="435.6" font-size="7.4" font-weight="bold" fill="#ff1a1a" text-anchor="start" textLength="56.3" lengthAdjust="spacingAndGlyphs" >Error = 1.8 ppm</text>
<text x="355.3" y="446.2" font-size="7.4" font-weight="bold" fill="#ff1a1a" text-anchor="start" textLength="78.2" lengthAdjust="spacingAndGlyphs" >Res=46414 S/N=1.5e3</text>
<text x="447.4" y="415.2" font-size="7.4" font-weight="bold" fill="#70ad47" text-anchor="start" textLength="88.0" lengthAdjust="spacingAndGlyphs" >[PC 40a:6+H]<tspan font-size="4.6" dy="-2.6">+</tspan><tspan dy="2.6">, 834.6022</tspan></text>
<text x="447.4" y="425.7" font-size="7.4" font-weight="bold" fill="#70ad47" text-anchor="start" textLength="56.3" lengthAdjust="spacingAndGlyphs" >Error = 1.8 ppm</text>
<text x="447.4" y="436.3" font-size="7.4" font-weight="bold" fill="#70ad47" text-anchor="start" textLength="80.4" lengthAdjust="spacingAndGlyphs" >Res=45,605 S/N=1.4e3</text>
<line x1="347.1" y1="401.5" x2="347.1" y2="420.0" stroke="#111" stroke-width="1.15"/>
<path d="M347.1 422.0L344.9 417.2L349.3 417.2Z" fill="#111"/>
<line x1="397.2" y1="447.5" x2="397.2" y2="457.5" stroke="#111" stroke-width="1.15"/>
<path d="M397.2 459.5L395.0 454.7L399.4 454.7Z" fill="#111"/>
<line x1="476.0" y1="438.3" x2="476.0" y2="455.8" stroke="#111" stroke-width="1.15"/>
<path d="M476.0 457.8L473.8 453.0L478.2 453.0Z" fill="#111"/>
<rect x="607.29" y="426.40" width="1.1" height="76.70" fill="#1a1a1a"/>
<rect x="610.10" y="471.80" width="1.1" height="31.30" fill="#1a1a1a"/>
<rect x="612.92" y="495.10" width="1.1" height="8.00" fill="#1a1a1a"/>
<rect x="615.73" y="499.30" width="1.1" height="3.80" fill="#1a1a1a"/>
<rect x="618.55" y="485.40" width="1.1" height="17.70" fill="#1a1a1a"/>
<rect x="621.36" y="495.90" width="1.1" height="7.20" fill="#1a1a1a"/>
<rect x="624.18" y="402.10" width="1.1" height="101.00" fill="#1a1a1a"/>
<rect x="626.99" y="461.40" width="1.1" height="41.70" fill="#1a1a1a"/>
<rect x="629.81" y="495.10" width="1.1" height="8.00" fill="#1a1a1a"/>
<rect x="635.44" y="494.30" width="1.1" height="8.80" fill="#1a1a1a"/>
<rect x="638.25" y="499.30" width="1.1" height="3.80" fill="#1a1a1a"/>
<rect x="663.87" y="500.10" width="1.1" height="3.00" fill="#1a1a1a"/>
<rect x="669.50" y="501.30" width="1.1" height="1.80" fill="#1a1a1a"/>
<rect x="674.85" y="475.10" width="1.1" height="28.00" fill="#1a1a1a"/>
<rect x="677.66" y="490.90" width="1.1" height="12.20" fill="#1a1a1a"/>
<rect x="680.48" y="497.10" width="1.1" height="6.00" fill="#1a1a1a"/>
<rect x="683.29" y="500.90" width="1.1" height="2.20" fill="#1a1a1a"/>
<rect x="686.11" y="467.60" width="1.1" height="35.50" fill="#1a1a1a"/>
<rect x="688.92" y="487.10" width="1.1" height="16.00" fill="#1a1a1a"/>
<rect x="691.74" y="500.40" width="1.1" height="2.70" fill="#1a1a1a"/>
<rect x="694.55" y="497.10" width="1.1" height="6.00" fill="#1a1a1a"/>
<rect x="697.37" y="499.30" width="1.1" height="3.80" fill="#1a1a1a"/>
<rect x="700.18" y="501.80" width="1.1" height="1.30" fill="#1a1a1a"/>
<rect x="703.28" y="498.40" width="1.1" height="4.70" fill="#1a1a1a"/>
<rect x="706.09" y="501.40" width="1.1" height="1.70" fill="#1a1a1a"/>
<rect x="737.90" y="498.10" width="1.1" height="5.00" fill="#1a1a1a"/>
<rect x="740.44" y="501.10" width="1.1" height="2.00" fill="#1a1a1a"/>
<rect x="749.16" y="495.50" width="1.1" height="7.60" fill="#1a1a1a"/>
<rect x="751.70" y="500.10" width="1.1" height="3.00" fill="#1a1a1a"/>
<rect x="754.79" y="475.10" width="1.1" height="28.00" fill="#1a1a1a"/>
<rect x="757.61" y="488.90" width="1.1" height="14.20" fill="#1a1a1a"/>
<rect x="760.14" y="499.80" width="1.1" height="3.30" fill="#1a1a1a"/>
<rect x="762.96" y="499.10" width="1.1" height="4.00" fill="#1a1a1a"/>
<rect x="765.77" y="500.80" width="1.1" height="2.30" fill="#1a1a1a"/>
<rect x="768.31" y="501.10" width="1.1" height="2.00" fill="#1a1a1a"/>
<path d="M600.8 388.3V503.1H770.2" fill="none" stroke="#000" stroke-width="1"/>
<line x1="597.8" y1="388.8" x2="600.8" y2="388.8" stroke="#000" stroke-width="1"/>
<text x="596.3" y="391.6" font-size="7.6" font-weight="bold" fill="#000" text-anchor="end" textLength="23.5" lengthAdjust="spacingAndGlyphs" >6×10<tspan font-size="5" dy="-2.6">5</tspan></text>
<line x1="597.8" y1="427.0" x2="600.8" y2="427.0" stroke="#000" stroke-width="1"/>
<text x="596.3" y="429.8" font-size="7.6" font-weight="bold" fill="#000" text-anchor="end" textLength="23.5" lengthAdjust="spacingAndGlyphs" >4×10<tspan font-size="5" dy="-2.6">5</tspan></text>
<line x1="597.8" y1="465.1" x2="600.8" y2="465.1" stroke="#000" stroke-width="1"/>
<text x="596.3" y="467.9" font-size="7.6" font-weight="bold" fill="#000" text-anchor="end" textLength="23.5" lengthAdjust="spacingAndGlyphs" >2×10<tspan font-size="5" dy="-2.6">5</tspan></text>
<line x1="597.8" y1="503.1" x2="600.8" y2="503.1" stroke="#000" stroke-width="1"/>
<text x="596.3" y="505.9" font-size="7.6" font-weight="bold" fill="#000" text-anchor="end" textLength="5.0" lengthAdjust="spacingAndGlyphs" >0</text>
<line x1="600.8" y1="503.1" x2="600.8" y2="506.1" stroke="#000" stroke-width="1"/>
<text x="600.8" y="516.7" font-size="8.5" font-weight="bold" fill="#000" text-anchor="middle" textLength="13.0" lengthAdjust="spacingAndGlyphs" >780</text>
<line x1="657.1" y1="503.1" x2="657.1" y2="506.1" stroke="#000" stroke-width="1"/>
<text x="657.1" y="516.7" font-size="8.5" font-weight="bold" fill="#000" text-anchor="middle" textLength="13.0" lengthAdjust="spacingAndGlyphs" >800</text>
<line x1="713.4" y1="503.1" x2="713.4" y2="506.1" stroke="#000" stroke-width="1"/>
<text x="713.4" y="516.7" font-size="8.5" font-weight="bold" fill="#000" text-anchor="middle" textLength="13.0" lengthAdjust="spacingAndGlyphs" >820</text>
<line x1="769.7" y1="503.1" x2="769.7" y2="506.1" stroke="#000" stroke-width="1"/>
<text x="769.7" y="516.7" font-size="8.5" font-weight="bold" fill="#000" text-anchor="middle" textLength="13.0" lengthAdjust="spacingAndGlyphs" >840</text>
<line x1="614.9" y1="503.1" x2="614.9" y2="505.1" stroke="#000" stroke-width="0.8"/>
<line x1="628.9" y1="503.1" x2="628.9" y2="505.1" stroke="#000" stroke-width="0.8"/>
<line x1="643.0" y1="503.1" x2="643.0" y2="505.1" stroke="#000" stroke-width="0.8"/>
<line x1="671.2" y1="503.1" x2="671.2" y2="505.1" stroke="#000" stroke-width="0.8"/>
<line x1="685.2" y1="503.1" x2="685.2" y2="505.1" stroke="#000" stroke-width="0.8"/>
<line x1="699.3" y1="503.1" x2="699.3" y2="505.1" stroke="#000" stroke-width="0.8"/>
<line x1="727.5" y1="503.1" x2="727.5" y2="505.1" stroke="#000" stroke-width="0.8"/>
<line x1="741.5" y1="503.1" x2="741.5" y2="505.1" stroke="#000" stroke-width="0.8"/>
<line x1="755.6" y1="503.1" x2="755.6" y2="505.1" stroke="#000" stroke-width="0.8"/>
<text x="685.2" y="524.6" font-size="10.4" font-weight="normal" fill="#000" text-anchor="middle" >m/z</text>
<text transform="translate(567.5,446.0) rotate(-90)" font-size="10.6" text-anchor="middle" textLength="33.5" lengthAdjust="spacingAndGlyphs">Counts</text>
<text x="586.3" y="359.1" font-size="15.4" font-weight="bold" fill="#000" text-anchor="start" textLength="212.9" lengthAdjust="spacingAndGlyphs" >IP-MALDI. 100 matrix layers</text>
<text x="623.3" y="378.9" font-size="7.4" font-weight="bold" fill="#4f81bd" text-anchor="start" textLength="87.4" lengthAdjust="spacingAndGlyphs" >[PC 36a:1+H]<tspan font-size="4.6" dy="-2.6">+</tspan><tspan dy="2.6">,788.6162</tspan></text>
<text x="623.3" y="389.5" font-size="7.4" font-weight="bold" fill="#4f81bd" text-anchor="start" textLength="61.6" lengthAdjust="spacingAndGlyphs" >Error = 0.23 ppm</text>
<text x="623.3" y="399.7" font-size="7.4" font-weight="bold" fill="#4f81bd" text-anchor="start" textLength="81.8" lengthAdjust="spacingAndGlyphs" >Res=47,823 S/N=4.9e3</text>
<text x="633.0" y="428.7" font-size="7.4" font-weight="bold" fill="#ff1a1a" text-anchor="start" textLength="88.7" lengthAdjust="spacingAndGlyphs" >[PC 38a:6+H]<tspan font-size="4.6" dy="-2.6">+</tspan><tspan dy="2.6">, 806.5693</tspan></text>
<text x="633.0" y="439.2" font-size="7.4" font-weight="bold" fill="#ff1a1a" text-anchor="start" textLength="61.1" lengthAdjust="spacingAndGlyphs" >Error = 0.16 ppm</text>
<text x="633.0" y="449.7" font-size="7.4" font-weight="bold" fill="#ff1a1a" text-anchor="start" textLength="81.0" lengthAdjust="spacingAndGlyphs" >Res=46,649 S/N=1.3e3</text>
<text x="728.2" y="427.4" font-size="7.4" font-weight="bold" fill="#70ad47" text-anchor="start" textLength="88.5" lengthAdjust="spacingAndGlyphs" >[PC 40a:6+H]<tspan font-size="4.6" dy="-2.6">+</tspan><tspan dy="2.6">, 834.6007</tspan></text>
<text x="728.2" y="437.6" font-size="7.4" font-weight="bold" fill="#70ad47" text-anchor="start" textLength="60.9" lengthAdjust="spacingAndGlyphs" >Error = 0.04 ppm</text>
<text x="728.2" y="448.2" font-size="7.4" font-weight="bold" fill="#70ad47" text-anchor="start" textLength="80.8" lengthAdjust="spacingAndGlyphs" >Res=46,048 S/N=1.2e3</text>
<line x1="675.5" y1="452.0" x2="675.5" y2="470.0" stroke="#111" stroke-width="1.15"/>
<path d="M675.5 472.0L673.3 467.2L677.7 467.2Z" fill="#111"/>
<line x1="754.3" y1="451.2" x2="754.3" y2="470.0" stroke="#111" stroke-width="1.15"/>
<path d="M754.3 472.0L752.1 467.2L756.5 467.2Z" fill="#111"/>
<clipPath id="cp1"><rect x="306" y="166.5" width="227.8" height="149.8"/></clipPath>
<g clip-path="url(#cp1)">
<rect x="306" y="166.5" width="227.8" height="149.8" fill="#000"/>
<g filter="url(#bl2)">
<path d="M306.7 270.1C310.3 262.1 321.1 268.4 328.4 270.9C335.6 273.4 342.3 279.9 350.1 285.1C357.8 290.2 364.0 297.2 375.1 301.8C386.2 306.4 408.5 310.8 416.8 312.6C425.1 314.4 416.2 313.7 425.0 312.6C433.9 311.5 459.8 308.6 470.1 305.9C480.4 303.3 481.2 298.3 486.8 296.8C492.3 295.2 498.5 295.9 503.5 296.8C508.5 297.6 511.8 299.8 516.8 301.8C521.8 303.7 530.7 305.7 533.5 308.4C536.3 311.2 555.8 316.8 533.5 318.5C511.3 320.1 437.8 318.5 400.0 318.5C362.2 318.5 322.2 326.5 306.7 318.5C291.1 310.4 303.1 278.0 306.7 270.1Z" fill="#06004e" />
<path d="M306.7 166.7C319.5 158.6 376.2 164.4 383.4 166.7C390.7 168.9 360.6 175.0 350.1 180.0C339.5 185.0 327.3 190.9 320.0 196.7C312.8 202.6 308.9 220.1 306.7 215.1C304.4 210.1 293.9 174.7 306.7 166.7Z" fill="#1a0a1e" opacity="0.8" />
<path d="M450.1 166.7C458.4 165.0 519.6 159.4 533.5 166.7C547.4 173.9 536.3 205.6 533.5 210.1C530.7 214.5 525.2 198.9 516.8 193.4C508.5 187.8 494.6 181.1 483.4 176.7C472.3 172.2 441.7 168.3 450.1 166.7Z" fill="#140818" opacity="0.8" />
</g>
<g filter="url(#bl1)">
<path d="M307.5 238.4C307.8 234.0 309.6 230.6 310.3 226.7C311.1 222.9 311.4 218.3 312.0 215.1C312.7 211.9 312.8 210.0 314.2 207.6C315.6 205.1 317.9 202.8 320.4 200.5C322.8 198.3 325.8 195.6 328.7 193.9C331.6 192.1 334.3 191.6 337.5 190.0C340.8 188.5 344.6 186.6 348.4 184.7C352.1 182.8 354.8 180.8 360.1 178.7C365.4 176.6 373.4 173.5 380.1 172.0C386.8 170.5 391.2 170.3 400.1 169.7C409.0 169.0 423.7 168.1 433.4 168.0C443.1 167.9 451.5 168.3 458.4 169.2C465.4 170.1 469.5 171.3 475.1 173.3C480.7 175.4 486.2 178.4 491.8 181.7C497.3 185.0 503.2 188.9 508.5 193.4C513.8 197.8 519.9 203.4 523.5 208.4C527.1 213.4 528.9 218.7 530.2 223.4C531.4 228.1 530.4 231.1 531.0 236.7C531.6 242.2 533.2 249.2 533.5 256.7C533.8 264.2 534.3 275.4 532.7 281.7C531.0 288.1 527.5 292.5 523.5 295.1C519.5 297.7 512.4 297.3 508.5 297.6C504.6 297.9 503.7 296.9 500.1 296.8C496.5 296.6 491.8 295.2 486.8 296.8C481.8 298.3 476.2 303.7 470.1 305.9C464.0 308.2 457.6 309.4 450.1 310.4C442.6 311.5 433.4 311.9 425.0 312.3C416.7 312.7 401.4 313.0 400.0 313.0C398.6 312.9 417.9 312.9 416.8 312.1C415.7 311.4 400.4 310.2 393.4 308.4C386.5 306.7 380.9 304.6 375.1 301.8C369.3 299.0 364.0 295.1 358.4 291.8C352.8 288.4 346.7 285.1 341.7 281.7C336.7 278.4 332.8 274.5 328.4 271.7C323.9 269.0 318.4 268.1 315.0 265.1C311.7 262.0 309.6 257.8 308.3 253.4C307.1 248.9 307.2 242.9 307.5 238.4Z" fill="#a00c34" />
<path d="M333.4 232.1C333.1 230.3 337.1 228.8 339.2 225.9C341.3 223.1 344.1 219.1 345.9 215.1C347.7 211.0 349.0 205.9 350.1 201.7C351.1 197.5 351.1 193.4 352.1 190.0C353.0 186.6 353.5 183.3 355.9 181.4C358.3 179.4 362.2 179.0 366.7 178.4C371.3 177.7 377.9 177.8 383.4 177.5C389.0 177.2 391.8 176.8 400.1 176.7C408.4 176.5 424.2 176.5 433.4 176.7C442.5 176.8 449.5 177.7 455.1 177.5C460.6 177.4 462.6 175.4 466.8 175.9C470.9 176.3 476.1 177.9 480.1 180.0C484.1 182.1 488.7 185.3 490.9 188.4C493.2 191.4 492.9 194.8 493.5 198.4C494.0 202.0 493.2 205.9 494.3 210.1C495.4 214.2 497.8 219.5 500.1 223.4C502.5 227.3 505.6 230.8 508.5 233.4C511.4 236.1 516.5 238.2 517.6 239.3C518.8 240.4 517.0 239.5 515.1 240.0C513.3 240.6 509.6 241.4 506.8 242.5C504.0 243.6 500.7 244.6 498.5 246.7C496.2 248.8 494.3 252.3 493.5 255.0C492.6 257.8 492.6 260.9 493.5 263.4C494.3 265.9 497.8 267.0 498.5 270.1C499.2 273.1 497.3 278.4 497.6 281.7C497.9 285.1 499.2 287.6 500.1 290.1C501.1 292.6 505.7 295.7 503.5 296.8C501.2 297.9 492.3 295.2 486.8 296.8C481.2 298.3 476.2 303.7 470.1 305.9C464.0 308.2 457.6 309.4 450.1 310.4C442.6 311.5 433.4 311.9 425.0 312.3C416.7 312.7 401.4 313.0 400.0 313.0C398.6 312.9 417.9 312.9 416.8 312.1C415.7 311.4 400.4 310.2 393.4 308.4C386.5 306.7 380.9 304.6 375.1 301.8C369.3 299.0 364.0 295.1 358.4 291.8C352.8 288.4 344.4 284.9 341.7 281.7C339.1 278.5 341.3 275.6 342.6 272.6C343.8 269.5 347.7 267.0 349.2 263.4C350.8 259.8 353.0 254.4 351.7 250.9C350.5 247.4 343.5 244.9 341.7 242.5C339.9 240.2 342.3 238.4 340.9 236.7C339.5 235.0 333.7 233.9 333.4 232.1Z" fill="#1a10f0" />
<path d="M356.7 255.0C358.0 252.0 360.1 248.1 363.4 245.0C366.7 242.0 371.8 239.1 376.8 236.7C381.8 234.3 388.4 231.4 393.4 230.9C398.5 230.3 402.9 232.1 406.8 233.4C410.7 234.6 410.9 237.8 416.7 238.4C422.5 238.9 433.4 235.9 441.7 236.7C450.1 237.5 459.8 240.6 466.8 243.4C473.7 246.1 479.4 250.0 483.4 253.4C487.5 256.7 490.1 259.2 490.9 263.4C491.8 267.6 490.3 273.4 488.4 278.4C486.6 283.4 483.2 289.5 480.1 293.4C477.0 297.3 475.1 299.3 470.1 301.8C465.1 304.3 457.6 306.9 450.1 308.4C442.6 310.0 433.4 310.8 425.0 311.0C416.7 311.1 401.4 309.7 400.0 309.3C398.6 308.9 417.3 309.0 416.8 308.4C416.3 307.9 402.9 307.6 396.8 305.9C390.7 304.3 384.5 301.4 380.1 298.4C375.6 295.5 373.4 292.6 370.1 288.4C366.7 284.3 362.4 277.6 360.1 273.4C357.7 269.2 356.5 266.5 355.9 263.4C355.3 260.3 355.5 258.1 356.7 255.0Z" fill="#5a1ad0" />
</g>
<g filter="url(#bl2)">
<path d="M357.6 255.0C358.1 250.6 361.6 247.8 365.1 246.7C368.6 245.6 374.8 246.7 378.4 248.4C382.0 250.0 385.9 253.1 386.8 256.7C387.6 260.3 385.4 266.5 383.4 270.1C381.5 273.7 377.3 275.4 375.1 278.4C372.9 281.5 372.3 289.3 370.1 288.4C367.9 287.6 363.8 279.0 361.7 273.4C359.7 267.8 357.0 259.5 357.6 255.0Z" fill="#e01040" opacity="0.6" />
<path d="M458.4 255.0C460.4 251.7 470.1 249.5 475.1 250.0C480.1 250.6 485.8 255.3 488.4 258.4C491.1 261.4 491.2 264.5 490.9 268.4C490.7 272.3 488.6 278.1 486.8 281.7C485.0 285.4 482.3 290.6 480.1 290.1C477.9 289.5 476.2 281.7 473.4 278.4C470.6 275.1 465.9 274.0 463.4 270.1C460.9 266.2 456.5 258.4 458.4 255.0Z" fill="#e01040" opacity="0.6" />
<path d="M408.5 270.1C409.9 266.7 416.0 265.3 420.1 265.1C424.3 264.8 430.7 265.1 433.5 268.4C436.3 271.7 438.5 281.5 436.8 285.1C435.2 288.7 427.7 290.1 423.5 290.1C419.3 290.1 414.3 288.4 411.8 285.1C409.3 281.7 407.1 273.4 408.5 270.1Z" fill="#c0105a" opacity="0.45" />
<path d="M406.7 268.4C408.3 264.8 414.7 263.4 420.0 263.4C425.3 263.4 434.8 264.8 438.4 268.4C442.0 272.0 443.7 281.5 441.7 285.1C439.8 288.7 432.0 290.1 426.7 290.1C421.4 290.1 413.4 288.7 410.0 285.1C406.7 281.5 405.0 272.0 406.7 268.4Z" fill="#c0105a" opacity="0.45" />
<path d="M395.1 302.6C396.9 301.8 403.2 300.8 406.8 300.9C410.4 301.1 415.4 302.3 416.8 303.4C418.2 304.6 417.4 306.8 415.1 307.6C412.9 308.4 406.7 308.4 403.5 308.1C400.3 307.8 397.3 306.9 396.0 305.9C394.6 305.0 393.3 303.4 395.1 302.6Z" fill="#e01040" opacity="0.9" />
<path d="M400.0 302.6C402.0 301.6 408.6 301.4 411.7 301.8C414.7 302.2 418.6 304.0 418.4 305.1C418.1 306.2 413.1 308.0 410.0 308.4C407.0 308.9 401.7 308.6 400.0 307.6C398.3 306.6 398.1 303.6 400.0 302.6Z" fill="#e01040" opacity="0.9" />
<path d="M428.4 303.4C429.8 302.5 436.4 302.2 440.1 302.6C443.7 303.0 449.5 304.7 450.1 305.9C450.6 307.2 446.5 309.7 443.4 310.1C440.3 310.5 434.2 309.6 431.7 308.4C429.2 307.3 427.0 304.4 428.4 303.4Z" fill="#e01040" opacity="0.9" />
<path d="M371.8 241.7C372.3 239.2 381.5 235.9 386.8 235.0C392.1 234.2 401.2 234.5 403.5 236.7C405.7 238.9 403.5 246.1 400.1 248.4C396.8 250.6 388.2 251.2 383.4 250.0C378.7 248.9 371.2 244.2 371.8 241.7Z" fill="#9a50c0" opacity="0.6" />
<path d="M446.7 240.0C448.7 238.6 459.0 240.3 463.4 241.7C467.9 243.1 472.9 246.4 473.4 248.4C474.0 250.3 470.4 253.1 466.8 253.4C463.1 253.7 455.1 252.3 451.7 250.0C448.4 247.8 444.8 241.4 446.7 240.0Z" fill="#a050c0" opacity="0.6" />
<path d="M377.6 288.4C378.7 287.7 382.2 288.1 383.4 289.3C384.7 290.4 385.7 293.8 385.1 295.1C384.5 296.3 381.5 297.0 380.1 296.8C378.7 296.5 377.2 294.8 376.8 293.4C376.3 292.0 376.5 289.1 377.6 288.4Z" fill="#9ac0c0" opacity="0.8" />
<path d="M460.1 296.8C461.2 295.9 465.1 294.7 466.8 295.1C468.4 295.5 470.4 298.2 470.1 299.3C469.8 300.4 466.8 301.6 465.1 301.8C463.4 301.9 460.9 300.9 460.1 300.1C459.2 299.3 459.0 297.6 460.1 296.8Z" fill="#9aa0c0" opacity="0.8" />
<path d="M393.4 253.4C396.2 250.6 411.5 249.2 416.8 248.4C422.1 247.5 419.5 247.3 425.0 248.4C430.6 249.5 447.3 252.3 450.1 255.0C452.8 257.8 445.9 263.9 441.7 265.1C437.6 266.2 429.2 262.0 425.0 261.7C420.9 261.4 421.0 262.8 416.8 263.4C412.7 263.9 404.0 266.7 400.1 265.1C396.2 263.4 390.7 256.2 393.4 253.4Z" fill="#2a14e8" opacity="0.5" />
</g>
<path fill="#ff5a50" d="M365.0 267.4h2.0v2.0h-2.0zM370.4 267.9h1.6v1.6h-1.6zM374.9 263.1h2.2v2.2h-2.2zM383.0 270.5h1.7v1.7h-1.7zM368.0 261.1h1.8v1.8h-1.8zM380.9 268.3h1.6v1.6h-1.6zM370.2 254.8h1.5v1.5h-1.5zM384.2 255.6h2.0v2.0h-2.0zM377.7 274.3h1.5v1.5h-1.5zM367.3 269.4h1.4v1.4h-1.4zM358.2 256.9h1.3v1.3h-1.3zM381.6 260.0h2.1v2.1h-2.1zM375.5 256.4h1.7v1.7h-1.7z"/>
<path fill="#ff2040" d="M370.2 278.5h1.9v1.9h-1.9zM385.0 262.6h1.2v1.2h-1.2zM364.0 265.0h1.4v1.4h-1.4zM364.0 265.9h2.0v2.0h-2.0zM369.9 281.3h1.8v1.8h-1.8zM380.1 269.2h1.7v1.7h-1.7zM365.4 269.6h2.0v2.0h-2.0zM381.2 268.3h1.3v1.3h-1.3zM370.9 247.9h1.8v1.8h-1.8zM364.9 251.3h1.3v1.3h-1.3zM362.2 268.7h1.9v1.9h-1.9zM370.8 260.1h1.6v1.6h-1.6zM363.7 272.0h1.2v1.2h-1.2zM378.1 275.0h2.2v2.2h-2.2zM374.4 260.1h1.5v1.5h-1.5zM364.9 247.1h2.0v2.0h-2.0zM372.4 262.5h1.9v1.9h-1.9zM386.3 256.5h1.4v1.4h-1.4zM373.7 251.1h2.1v2.1h-2.1zM374.2 256.0h2.1v2.1h-2.1zM365.7 279.5h1.9v1.9h-1.9zM358.7 256.7h1.3v1.3h-1.3zM362.5 256.8h2.1v2.1h-2.1zM366.2 257.3h1.9v1.9h-1.9zM366.2 271.6h1.3v1.3h-1.3zM376.6 273.5h1.5v1.5h-1.5zM380.7 267.3h1.7v1.7h-1.7zM369.1 260.8h1.8v1.8h-1.8zM369.7 270.5h1.3v1.3h-1.3zM361.2 257.5h1.6v1.6h-1.6z"/>
<path fill="#d01060" d="M373.8 273.5h2.1v2.1h-2.1zM361.1 260.6h2.1v2.1h-2.1zM374.8 248.1h1.6v1.6h-1.6zM362.6 269.6h1.6v1.6h-1.6zM371.9 247.9h2.2v2.2h-2.2zM381.4 257.4h1.3v1.3h-1.3zM369.9 254.5h1.7v1.7h-1.7zM382.6 259.7h1.6v1.6h-1.6zM372.2 260.3h1.2v1.2h-1.2zM363.4 260.4h1.5v1.5h-1.5zM363.8 274.8h1.5v1.5h-1.5zM368.3 260.9h1.8v1.8h-1.8zM360.8 255.7h1.7v1.7h-1.7zM364.8 250.1h1.6v1.6h-1.6zM367.1 259.9h1.5v1.5h-1.5zM362.8 264.8h1.9v1.9h-1.9zM364.9 249.4h1.7v1.7h-1.7z"/>
<path fill="#ff5a50" d="M480.2 262.4h1.8v1.8h-1.8zM482.9 278.7h1.7v1.7h-1.7zM481.4 270.2h1.8v1.8h-1.8zM466.0 267.9h1.8v1.8h-1.8zM472.3 277.2h2.0v2.0h-2.0zM463.1 267.7h2.1v2.1h-2.1zM471.5 276.8h1.2v1.2h-1.2zM473.5 278.5h2.0v2.0h-2.0zM483.4 258.0h1.4v1.4h-1.4zM484.3 259.4h1.6v1.6h-1.6z"/>
<path fill="#d01060" d="M463.6 267.3h2.2v2.2h-2.2zM482.3 286.4h1.6v1.6h-1.6zM487.7 268.5h1.9v1.9h-1.9zM474.2 258.9h1.4v1.4h-1.4zM468.6 258.4h1.8v1.8h-1.8zM482.5 286.2h1.9v1.9h-1.9zM488.4 274.5h1.6v1.6h-1.6zM486.1 275.7h1.2v1.2h-1.2zM475.5 269.2h2.1v2.1h-2.1zM468.1 259.3h1.6v1.6h-1.6zM475.5 254.5h2.0v2.0h-2.0zM481.3 266.2h1.8v1.8h-1.8zM474.8 251.1h1.4v1.4h-1.4zM482.8 281.5h2.0v2.0h-2.0zM471.1 271.3h1.8v1.8h-1.8zM463.8 267.7h2.1v2.1h-2.1zM485.2 263.7h1.7v1.7h-1.7zM480.9 288.0h2.1v2.1h-2.1z"/>
<path fill="#ff2040" d="M489.3 271.8h1.2v1.2h-1.2zM476.6 259.5h1.3v1.3h-1.3zM488.5 270.1h2.1v2.1h-2.1zM488.0 260.8h2.2v2.2h-2.2zM463.5 257.4h1.2v1.2h-1.2zM469.6 274.7h1.5v1.5h-1.5zM473.8 259.1h1.3v1.3h-1.3zM477.4 265.8h2.2v2.2h-2.2zM484.4 278.5h1.7v1.7h-1.7zM461.7 257.3h1.7v1.7h-1.7zM473.5 262.4h2.1v2.1h-2.1zM475.1 273.3h1.7v1.7h-1.7zM464.3 253.8h1.7v1.7h-1.7zM474.2 258.4h1.5v1.5h-1.5zM483.0 257.7h1.7v1.7h-1.7zM482.9 265.9h1.3v1.3h-1.3zM479.9 281.2h1.6v1.6h-1.6zM485.6 261.9h1.5v1.5h-1.5zM461.5 264.3h1.6v1.6h-1.6zM464.3 270.5h1.9v1.9h-1.9zM479.8 280.5h1.8v1.8h-1.8zM478.1 286.3h2.0v2.0h-2.0zM472.5 260.2h1.4v1.4h-1.4zM483.0 269.5h1.5v1.5h-1.5zM470.8 268.7h1.8v1.8h-1.8zM489.9 264.7h1.6v1.6h-1.6zM486.7 262.4h1.7v1.7h-1.7zM479.7 265.8h1.8v1.8h-1.8zM468.4 259.4h1.5v1.5h-1.5zM470.7 264.6h1.7v1.7h-1.7zM472.8 275.7h1.3v1.3h-1.3zM466.1 257.6h1.6v1.6h-1.6z"/>
<path fill="#ff5a50" d="M415.2 278.7h1.8v1.8h-1.8zM422.0 281.1h2.1v2.1h-2.1zM419.2 276.6h1.8v1.8h-1.8zM424.3 280.6h1.6v1.6h-1.6zM413.3 272.6h1.6v1.6h-1.6zM417.4 272.9h1.8v1.8h-1.8z"/>
<path fill="#ff2040" d="M415.8 270.9h2.0v2.0h-2.0zM423.3 283.6h2.0v2.0h-2.0zM412.3 270.5h1.8v1.8h-1.8zM417.0 277.8h1.8v1.8h-1.8zM431.2 275.3h2.0v2.0h-2.0zM420.0 280.3h2.1v2.1h-2.1zM425.3 273.1h1.6v1.6h-1.6zM424.6 283.5h2.0v2.0h-2.0zM417.6 273.4h2.1v2.1h-2.1zM414.8 268.1h2.0v2.0h-2.0zM431.3 273.7h2.0v2.0h-2.0zM416.2 273.7h1.6v1.6h-1.6zM420.8 288.8h1.9v1.9h-1.9zM432.2 281.7h1.5v1.5h-1.5zM435.1 280.4h2.1v2.1h-2.1zM422.0 284.6h1.7v1.7h-1.7zM416.1 278.3h2.0v2.0h-2.0zM418.7 269.8h1.8v1.8h-1.8zM428.8 274.6h1.6v1.6h-1.6z"/>
<path fill="#d01060" d="M425.2 272.6h1.7v1.7h-1.7zM428.9 287.1h1.6v1.6h-1.6zM431.2 276.2h1.3v1.3h-1.3zM425.0 287.7h2.1v2.1h-2.1zM424.6 282.9h1.8v1.8h-1.8zM416.5 266.6h1.3v1.3h-1.3zM428.9 271.0h1.7v1.7h-1.7zM421.7 282.1h1.9v1.9h-1.9zM425.4 272.6h1.2v1.2h-1.2zM415.2 269.8h1.3v1.3h-1.3zM413.3 273.5h1.7v1.7h-1.7zM432.3 269.7h1.8v1.8h-1.8zM416.6 285.3h1.9v1.9h-1.9zM431.6 269.3h2.0v2.0h-2.0zM425.6 284.7h1.8v1.8h-1.8z"/>
<path fill="#ff2040" d="M415.0 266.1h1.3v1.3h-1.3zM425.5 270.8h1.4v1.4h-1.4zM437.6 286.0h1.8v1.8h-1.8zM421.1 268.8h1.6v1.6h-1.6zM418.3 268.1h1.9v1.9h-1.9zM435.3 271.2h1.3v1.3h-1.3zM434.1 273.1h2.2v2.2h-2.2zM421.5 268.9h1.4v1.4h-1.4zM430.4 267.4h1.4v1.4h-1.4zM433.8 274.3h1.4v1.4h-1.4zM421.1 264.4h2.1v2.1h-2.1zM435.8 276.7h1.4v1.4h-1.4zM414.0 269.6h1.3v1.3h-1.3zM439.2 278.5h2.1v2.1h-2.1zM429.6 284.5h1.3v1.3h-1.3zM440.6 281.2h1.8v1.8h-1.8zM426.6 283.3h1.2v1.2h-1.2zM437.5 268.8h2.1v2.1h-2.1zM433.8 276.0h1.2v1.2h-1.2zM419.4 283.9h2.0v2.0h-2.0zM420.0 284.4h1.7v1.7h-1.7zM428.4 287.0h2.1v2.1h-2.1zM413.5 271.5h2.0v2.0h-2.0zM425.8 276.4h1.3v1.3h-1.3z"/>
<path fill="#d01060" d="M420.8 287.9h1.4v1.4h-1.4zM439.2 285.5h1.4v1.4h-1.4zM417.5 280.1h2.1v2.1h-2.1zM423.3 265.8h1.7v1.7h-1.7zM421.8 267.7h1.2v1.2h-1.2zM425.4 276.0h1.4v1.4h-1.4zM432.9 272.0h1.3v1.3h-1.3zM440.5 284.1h1.8v1.8h-1.8zM439.1 272.4h1.8v1.8h-1.8zM435.2 277.5h1.5v1.5h-1.5zM410.7 285.0h1.8v1.8h-1.8zM415.3 286.0h2.2v2.2h-2.2z"/>
<path fill="#ff5a50" d="M409.7 279.6h1.4v1.4h-1.4zM408.8 269.5h1.4v1.4h-1.4zM427.5 276.4h1.3v1.3h-1.3zM411.9 276.6h2.1v2.1h-2.1z"/>
<path fill="#9040d0" d="M418.4 260.8h1.2v1.2h-1.2zM391.9 247.7h1.4v1.4h-1.4zM469.8 251.6h1.3v1.3h-1.3zM378.7 288.2h1.6v1.6h-1.6zM428.2 306.2h1.9v1.9h-1.9zM429.4 272.8h1.3v1.3h-1.3zM402.9 279.0h1.2v1.2h-1.2zM409.7 268.0h1.6v1.6h-1.6zM403.8 302.0h1.3v1.3h-1.3zM426.2 251.2h1.5v1.5h-1.5zM384.2 234.6h1.8v1.8h-1.8zM470.2 260.0h1.5v1.5h-1.5zM425.5 302.4h1.5v1.5h-1.5zM358.5 265.7h2.0v2.0h-2.0zM445.4 242.4h1.4v1.4h-1.4zM449.9 256.4h1.5v1.5h-1.5zM390.4 294.5h1.3v1.3h-1.3zM455.0 243.6h1.3v1.3h-1.3zM389.0 286.6h1.8v1.8h-1.8zM374.0 270.9h1.5v1.5h-1.5z"/>
<path fill="#2a20f0" d="M423.8 302.8h1.7v1.7h-1.7zM361.4 261.2h1.8v1.8h-1.8zM377.1 249.9h1.9v1.9h-1.9zM435.6 292.9h1.3v1.3h-1.3zM395.2 284.9h1.3v1.3h-1.3zM407.1 270.2h1.9v1.9h-1.9zM371.0 278.7h1.9v1.9h-1.9zM368.5 277.3h2.0v2.0h-2.0zM451.2 307.0h1.2v1.2h-1.2zM405.3 284.8h1.3v1.3h-1.3zM402.8 300.1h1.5v1.5h-1.5zM423.1 287.7h1.5v1.5h-1.5zM406.3 299.7h1.3v1.3h-1.3zM431.0 286.6h1.8v1.8h-1.8zM379.3 281.3h1.4v1.4h-1.4zM431.4 262.0h2.0v2.0h-2.0zM442.7 274.3h1.8v1.8h-1.8zM369.8 286.9h1.7v1.7h-1.7zM380.4 236.0h1.6v1.6h-1.6zM406.2 290.2h1.5v1.5h-1.5zM441.6 249.8h1.4v1.4h-1.4zM398.8 250.7h1.5v1.5h-1.5zM399.2 261.7h1.9v1.9h-1.9zM385.2 247.1h1.9v1.9h-1.9zM427.6 305.6h2.0v2.0h-2.0zM433.5 246.8h1.7v1.7h-1.7zM451.6 306.3h1.6v1.6h-1.6zM417.7 253.9h1.8v1.8h-1.8zM447.8 248.7h1.3v1.3h-1.3zM380.6 282.8h1.5v1.5h-1.5zM419.7 283.2h1.7v1.7h-1.7zM398.3 285.4h1.7v1.7h-1.7zM441.6 269.0h1.8v1.8h-1.8zM435.3 273.5h1.8v1.8h-1.8zM424.9 266.3h1.5v1.5h-1.5zM422.5 273.9h1.4v1.4h-1.4z"/>
<path fill="#e01050" d="M423.0 304.6h1.7v1.7h-1.7zM363.2 275.3h1.4v1.4h-1.4zM463.9 257.2h1.6v1.6h-1.6zM399.8 238.0h1.8v1.8h-1.8zM403.8 242.1h1.3v1.3h-1.3zM447.5 263.4h1.7v1.7h-1.7zM387.1 293.3h1.3v1.3h-1.3zM415.2 306.5h1.8v1.8h-1.8zM437.6 248.5h1.4v1.4h-1.4zM469.0 262.8h1.6v1.6h-1.6zM438.3 276.4h1.5v1.5h-1.5zM399.8 244.5h1.8v1.8h-1.8zM444.9 241.9h1.6v1.6h-1.6zM455.0 247.8h1.2v1.2h-1.2zM399.6 297.6h1.8v1.8h-1.8zM394.3 273.6h1.9v1.9h-1.9zM424.3 241.7h1.4v1.4h-1.4zM447.3 303.6h1.3v1.3h-1.3zM416.9 285.3h1.8v1.8h-1.8zM381.1 293.2h1.3v1.3h-1.3zM394.2 241.2h1.5v1.5h-1.5zM409.5 253.7h1.9v1.9h-1.9zM372.6 255.7h1.7v1.7h-1.7zM482.3 260.5h1.9v1.9h-1.9zM404.3 275.5h1.8v1.8h-1.8zM359.9 254.2h1.7v1.7h-1.7zM383.0 279.8h2.0v2.0h-2.0zM428.2 306.1h1.4v1.4h-1.4zM450.3 292.1h1.9v1.9h-1.9zM468.2 301.6h1.8v1.8h-1.8zM472.9 253.9h1.2v1.2h-1.2zM458.5 296.1h1.4v1.4h-1.4zM429.6 296.1h1.8v1.8h-1.8zM404.3 305.4h1.5v1.5h-1.5z"/>
<g filter="url(#bl1)">
<path d="M307.5 240.0C308.5 237.5 310.4 234.7 313.3 233.4C316.3 232.0 320.9 231.4 325.0 231.7C329.2 232.0 335.7 233.6 338.4 235.0C341.0 236.4 341.7 238.5 340.9 240.0C340.0 241.6 332.1 243.4 333.4 244.2C334.6 245.0 345.5 243.9 348.4 245.0C351.3 246.1 350.9 248.1 350.9 250.9C350.9 253.7 349.6 258.2 348.4 261.7C347.1 265.2 345.3 269.9 343.4 271.7C341.4 273.5 339.5 273.1 336.7 272.6C333.9 272.0 330.0 269.9 326.7 268.4C323.4 266.9 319.5 265.3 316.7 263.4C313.9 261.4 311.5 259.2 310.0 256.7C308.5 254.2 307.9 251.2 307.5 248.4C307.1 245.6 306.5 242.5 307.5 240.0Z" fill="#b80e3c" />
<path d="M318.4 250.9C319.7 249.9 326.4 248.2 330.0 246.7C333.7 245.2 337.5 242.8 340.0 241.7C342.6 240.6 344.8 239.6 345.1 240.0C345.3 240.4 343.9 242.7 341.7 244.2C339.5 245.7 335.0 247.8 331.7 249.2C328.4 250.6 323.9 252.3 321.7 252.5C319.5 252.8 317.0 251.9 318.4 250.9Z" fill="#1a10f0" />
<path d="M314.2 234.2C315.3 232.9 320.2 231.5 321.7 232.5C323.2 233.5 323.5 237.4 323.4 240.0C323.2 242.7 322.0 247.3 320.9 248.4C319.7 249.5 317.7 248.1 316.7 246.7C315.7 245.3 315.4 242.1 315.0 240.0C314.6 237.9 313.1 235.4 314.2 234.2Z" fill="#7ed030" />
<path d="M325.0 232.5C326.6 232.2 335.2 234.2 337.5 235.4C339.9 236.5 340.7 238.8 339.2 239.2C337.7 239.6 330.7 238.6 328.4 237.5C326.0 236.4 323.5 232.9 325.0 232.5Z" fill="#7ed030" />
<path d="M334.2 250.9C335.6 249.3 344.2 246.7 346.7 246.7C349.2 246.7 350.6 249.3 349.2 250.9C347.8 252.4 340.9 255.9 338.4 255.9C335.9 255.9 332.8 252.4 334.2 250.9Z" fill="#8ad030" />
<path d="M310.8 256.7C312.2 256.4 317.7 259.2 320.0 259.2C322.4 259.2 323.9 256.6 325.0 256.7C326.1 256.9 327.8 258.9 326.7 260.1C325.6 261.2 320.9 263.3 318.4 263.4C315.9 263.5 312.9 262.0 311.7 260.9C310.4 259.8 309.5 257.0 310.8 256.7Z" fill="#7ec030" />
<path d="M331.7 263.4C333.1 261.7 339.4 260.1 341.7 260.1C344.1 260.1 346.2 261.6 345.9 263.4C345.6 265.2 342.1 269.8 340.0 270.9C338.0 272.0 334.8 271.3 333.4 270.1C332.0 268.8 330.3 265.1 331.7 263.4Z" fill="#a09040" />
<path d="M505.1 240.0C506.8 238.4 510.4 236.7 513.5 236.7C516.5 236.7 521.6 237.8 523.5 240.0C525.4 242.3 524.8 247.3 524.8 250.0C524.8 252.8 522.6 254.2 523.5 256.7C524.4 259.2 528.8 261.4 530.2 265.1C531.6 268.7 532.4 274.2 531.8 278.4C531.3 282.6 529.3 287.0 526.8 290.1C524.3 293.2 520.2 295.9 516.8 296.8C513.5 297.6 509.6 296.5 506.8 295.1C504.0 293.7 501.5 291.2 500.1 288.4C498.7 285.6 498.5 281.7 498.5 278.4C498.5 275.1 500.7 270.9 500.1 268.4C499.6 265.9 496.2 265.9 495.1 263.4C494.0 260.9 493.2 255.9 493.5 253.4C493.7 250.9 495.1 249.5 496.8 248.4C498.5 247.3 502.1 248.1 503.5 246.7C504.9 245.3 503.5 241.7 505.1 240.0Z" fill="#b80e3c" />
<path d="M506.8 239.2C508.2 238.2 514.0 237.1 516.8 237.5C519.6 237.9 522.5 239.9 523.5 241.7C524.5 243.5 523.8 248.1 522.7 248.4C521.5 248.7 519.2 244.2 516.8 243.4C514.4 242.5 510.1 244.1 508.5 243.4C506.8 242.7 505.4 240.2 506.8 239.2Z" fill="#8aa830" />
<path d="M495.1 250.9C496.9 249.9 503.5 248.4 506.8 248.4C510.1 248.4 514.0 249.8 515.1 250.9C516.3 252.0 515.7 254.2 513.5 255.0C511.3 255.9 504.7 256.0 501.8 255.9C498.9 255.7 497.1 255.0 496.0 254.2C494.8 253.4 493.3 251.9 495.1 250.9Z" fill="#8ad030" />
<path d="M500.1 265.1C502.1 263.9 509.6 262.6 513.5 262.6C517.4 262.6 522.0 263.8 523.5 265.1C525.0 266.3 524.9 269.1 522.7 270.1C520.4 271.0 513.6 271.0 510.1 270.9C506.7 270.8 503.5 270.2 501.8 269.2C500.1 268.3 498.2 266.2 500.1 265.1Z" fill="#8aa030" />
<path d="M502.6 285.1C502.9 282.7 505.6 279.0 506.8 278.4C508.1 277.9 509.9 280.1 510.1 281.7C510.4 283.4 507.4 286.8 508.5 288.4C509.6 290.1 513.8 292.9 516.8 291.8C519.9 290.6 524.6 282.9 526.8 281.7C529.1 280.6 530.7 283.1 530.2 285.1C529.6 287.0 526.3 291.6 523.5 293.4C520.7 295.2 516.5 296.1 513.5 295.9C510.4 295.8 506.9 294.4 505.1 292.6C503.3 290.8 502.4 287.4 502.6 285.1Z" fill="#8a9a30" />
<path d="M516.8 284.3C518.2 281.6 525.4 272.7 527.7 270.9C529.9 269.1 531.6 270.8 530.2 273.4C528.8 276.0 521.5 284.9 519.3 286.8C517.1 288.6 515.4 286.9 516.8 284.3Z" fill="#1a10f0" />
<path d="M342.6 189.2C343.9 186.3 348.9 185.4 350.1 187.5C351.2 189.6 350.5 197.1 349.2 201.7C348.0 206.3 344.8 210.9 342.6 215.1C340.3 219.2 337.7 224.0 335.9 226.7C334.1 229.5 333.0 231.2 331.7 231.8C330.5 232.3 327.4 232.9 328.4 230.1C329.3 227.3 335.3 219.2 337.5 215.1C339.8 210.9 340.9 209.4 341.7 205.1C342.6 200.7 341.2 192.1 342.6 189.2Z" fill="#e0103a" />
<path d="M312.3 215.9C312.4 212.8 312.7 210.6 314.0 208.1C315.3 205.6 317.7 203.2 320.2 200.9C322.6 198.6 325.8 195.9 328.7 194.2C331.6 192.5 335.2 190.3 337.5 190.5C339.9 190.8 341.9 193.5 342.6 195.9C343.2 198.3 342.6 201.9 341.7 205.1C340.9 208.3 339.2 211.7 337.5 215.1C335.9 218.4 333.8 222.3 331.7 225.1C329.6 227.9 327.1 230.4 325.0 231.8C322.9 233.1 321.1 234.3 319.2 233.4C317.3 232.6 314.8 229.7 313.7 226.7C312.5 223.8 312.3 219.0 312.3 215.9Z" fill="#8fe628" />
<path d="M488.4 185.0C489.3 183.6 494.7 186.4 496.8 188.4C498.9 190.3 500.7 193.1 501.0 196.7C501.2 200.3 498.0 205.9 498.5 210.1C498.9 214.2 501.5 218.4 503.5 221.7C505.4 225.1 509.6 228.6 510.1 230.1C510.7 231.6 508.7 232.0 506.8 230.9C504.9 229.8 500.7 226.9 498.5 223.4C496.2 219.9 494.6 214.5 493.5 210.1C492.3 205.6 492.6 200.9 491.8 196.7C490.9 192.5 487.6 186.4 488.4 185.0Z" fill="#e0103a" />
<path d="M499.3 201.7C500.0 199.4 501.1 198.5 503.5 197.5C505.8 196.6 510.4 194.9 513.5 195.9C516.5 196.9 519.3 200.2 521.8 203.4C524.3 206.6 527.4 211.2 528.5 215.1C529.6 219.0 529.2 223.7 528.5 226.7C527.8 229.8 525.9 232.0 524.3 233.4C522.8 234.8 521.7 235.6 519.3 235.1C517.0 234.5 512.8 232.3 510.1 230.1C507.5 227.9 505.3 224.8 503.5 221.7C501.7 218.7 500.0 215.1 499.3 211.7C498.6 208.4 498.6 204.1 499.3 201.7Z" fill="#8fe628" />
<path d="M357.6 195.9C357.6 193.7 357.3 189.2 358.4 186.7C359.5 184.2 361.7 182.2 364.2 180.9C366.7 179.5 371.5 178.2 373.4 178.4C375.4 178.5 375.9 180.0 375.9 181.7C375.9 183.4 374.8 186.0 373.4 188.4C372.0 190.7 369.5 193.8 367.6 195.9C365.6 198.0 363.3 200.2 361.7 200.9C360.2 201.6 359.1 200.9 358.4 200.0C357.7 199.2 357.6 198.1 357.6 195.9Z" fill="#e8102e" stroke="#e8102e" stroke-width="5.6" stroke-linejoin="round" stroke-linecap="round" />
<path d="M366.7 220.9C365.5 220.0 364.0 218.3 364.2 215.9C364.5 213.5 366.6 210.1 368.4 206.7C370.2 203.4 372.9 199.2 375.1 195.9C377.3 192.5 379.5 189.5 381.8 186.7C384.0 183.9 385.4 181.2 388.4 179.2C391.5 177.2 395.4 175.7 400.1 174.7C404.8 173.7 411.3 173.2 416.8 173.0C422.4 172.8 427.8 173.1 433.4 173.7C438.9 174.3 445.9 175.1 450.1 176.7C454.2 178.3 455.6 180.4 458.4 183.4C461.2 186.3 464.2 190.0 466.8 194.2C469.3 198.4 471.8 204.4 473.4 208.4C475.0 212.4 476.3 216.0 476.4 218.4C476.6 220.8 475.5 222.0 474.3 222.6C473.1 223.2 471.1 223.5 469.3 222.1C467.4 220.7 465.8 217.8 463.4 214.2C461.1 210.7 457.9 204.5 455.1 200.9C452.3 197.3 449.8 194.6 446.7 192.5C443.7 190.5 441.7 189.5 436.7 188.7C431.7 188.0 422.2 188.1 416.7 188.0C411.1 188.0 407.2 187.6 403.5 188.4C399.7 189.1 396.8 190.6 394.3 192.5C391.8 194.5 390.2 197.4 388.4 200.0C386.6 202.7 385.2 205.6 383.4 208.4C381.6 211.2 379.5 214.6 377.6 216.7C375.6 218.9 373.6 220.7 371.8 221.4C369.9 222.1 368.0 221.8 366.7 220.9Z" fill="#e8102e" stroke="#e8102e" stroke-width="5.6" stroke-linejoin="round" stroke-linecap="round" />
<path d="M394.3 205.9C394.8 204.1 396.9 200.7 400.1 199.2C403.3 197.7 410.7 197.1 413.5 196.7C416.2 196.3 413.4 196.8 416.7 197.0C420.0 197.3 428.7 197.3 433.4 198.0C438.1 198.8 442.3 200.1 445.1 201.7C447.8 203.3 449.6 205.6 450.1 207.6C450.5 209.5 449.5 212.0 447.6 213.4C445.6 214.8 443.5 215.4 438.4 215.9C433.2 216.4 422.5 216.8 416.7 216.4C410.9 216.0 406.8 214.5 403.5 213.4C400.1 212.3 398.3 211.3 396.8 210.1C395.3 208.8 393.7 207.7 394.3 205.9Z" fill="#e8102e" stroke="#e8102e" stroke-width="5.6" stroke-linejoin="round" stroke-linecap="round" />
<path d="M408.1 221.7C409.2 220.8 414.0 219.3 416.8 218.7C419.6 218.2 421.9 218.2 425.0 218.4C428.2 218.6 433.6 219.0 435.9 219.7C438.2 220.4 439.4 221.6 438.7 222.6C438.0 223.5 435.1 224.7 431.7 225.6C428.3 226.4 420.8 227.5 418.4 227.6C415.9 227.7 418.1 226.8 416.8 226.2C415.5 225.7 411.9 225.0 410.5 224.2C409.0 223.5 407.1 222.7 408.1 221.7Z" fill="#e8102e" stroke="#e8102e" stroke-width="5.6" stroke-linejoin="round" stroke-linecap="round" />
<path d="M406.8 233.8C408.3 233.4 413.8 233.3 416.8 233.1C419.8 232.9 421.3 232.8 425.0 232.6C428.8 232.4 436.4 231.5 439.2 231.8C442.1 232.0 442.3 233.4 442.1 234.3C441.8 235.1 440.4 236.3 437.6 237.1C434.7 237.9 429.6 239.0 425.0 239.3C420.4 239.5 411.9 238.7 410.0 238.4C408.1 238.2 413.9 238.1 413.5 237.6C413.1 237.1 408.7 236.1 407.6 235.4C406.5 234.8 405.3 234.1 406.8 233.8Z" fill="#e8102e" stroke="#e8102e" stroke-width="5.6" stroke-linejoin="round" stroke-linecap="round" />
<path d="M466.8 175.9C467.2 174.8 469.5 174.4 471.8 174.7C474.0 175.0 477.6 176.2 480.1 177.5C482.6 178.8 485.2 180.2 486.8 182.5C488.3 184.9 489.4 188.8 489.3 191.7C489.1 194.6 487.2 198.1 485.9 200.0C484.7 202.0 483.2 203.7 481.8 203.4C480.4 203.1 479.0 200.9 477.6 198.4C476.2 195.9 474.8 191.3 473.4 188.4C472.0 185.4 470.4 182.9 469.3 180.9C468.1 178.8 466.3 176.9 466.8 175.9Z" fill="#e8102e" stroke="#e8102e" stroke-width="5.6" stroke-linejoin="round" stroke-linecap="round" />
<path d="M357.6 195.9C357.6 193.7 357.3 189.2 358.4 186.7C359.5 184.2 361.7 182.2 364.2 180.9C366.7 179.5 371.5 178.2 373.4 178.4C375.4 178.5 375.9 180.0 375.9 181.7C375.9 183.4 374.8 186.0 373.4 188.4C372.0 190.7 369.5 193.8 367.6 195.9C365.6 198.0 363.3 200.2 361.7 200.9C360.2 201.6 359.1 200.9 358.4 200.0C357.7 199.2 357.6 198.1 357.6 195.9Z" fill="#8fe628" />
<path d="M366.7 220.9C365.5 220.0 364.0 218.3 364.2 215.9C364.5 213.5 366.6 210.1 368.4 206.7C370.2 203.4 372.9 199.2 375.1 195.9C377.3 192.5 379.5 189.5 381.8 186.7C384.0 183.9 385.4 181.2 388.4 179.2C391.5 177.2 395.4 175.7 400.1 174.7C404.8 173.7 411.3 173.2 416.8 173.0C422.4 172.8 427.8 173.1 433.4 173.7C438.9 174.3 445.9 175.1 450.1 176.7C454.2 178.3 455.6 180.4 458.4 183.4C461.2 186.3 464.2 190.0 466.8 194.2C469.3 198.4 471.8 204.4 473.4 208.4C475.0 212.4 476.3 216.0 476.4 218.4C476.6 220.8 475.5 222.0 474.3 222.6C473.1 223.2 471.1 223.5 469.3 222.1C467.4 220.7 465.8 217.8 463.4 214.2C461.1 210.7 457.9 204.5 455.1 200.9C452.3 197.3 449.8 194.6 446.7 192.5C443.7 190.5 441.7 189.5 436.7 188.7C431.7 188.0 422.2 188.1 416.7 188.0C411.1 188.0 407.2 187.6 403.5 188.4C399.7 189.1 396.8 190.6 394.3 192.5C391.8 194.5 390.2 197.4 388.4 200.0C386.6 202.7 385.2 205.6 383.4 208.4C381.6 211.2 379.5 214.6 377.6 216.7C375.6 218.9 373.6 220.7 371.8 221.4C369.9 222.1 368.0 221.8 366.7 220.9Z" fill="#8fe628" />
<path d="M394.3 205.9C394.8 204.1 396.9 200.7 400.1 199.2C403.3 197.7 410.7 197.1 413.5 196.7C416.2 196.3 413.4 196.8 416.7 197.0C420.0 197.3 428.7 197.3 433.4 198.0C438.1 198.8 442.3 200.1 445.1 201.7C447.8 203.3 449.6 205.6 450.1 207.6C450.5 209.5 449.5 212.0 447.6 213.4C445.6 214.8 443.5 215.4 438.4 215.9C433.2 216.4 422.5 216.8 416.7 216.4C410.9 216.0 406.8 214.5 403.5 213.4C400.1 212.3 398.3 211.3 396.8 210.1C395.3 208.8 393.7 207.7 394.3 205.9Z" fill="#8fe628" />
<path d="M408.1 221.7C409.2 220.8 414.0 219.3 416.8 218.7C419.6 218.2 421.9 218.2 425.0 218.4C428.2 218.6 433.6 219.0 435.9 219.7C438.2 220.4 439.4 221.6 438.7 222.6C438.0 223.5 435.1 224.7 431.7 225.6C428.3 226.4 420.8 227.5 418.4 227.6C415.9 227.7 418.1 226.8 416.8 226.2C415.5 225.7 411.9 225.0 410.5 224.2C409.0 223.5 407.1 222.7 408.1 221.7Z" fill="#8fe628" />
<path d="M406.8 233.8C408.3 233.4 413.8 233.3 416.8 233.1C419.8 232.9 421.3 232.8 425.0 232.6C428.8 232.4 436.4 231.5 439.2 231.8C442.1 232.0 442.3 233.4 442.1 234.3C441.8 235.1 440.4 236.3 437.6 237.1C434.7 237.9 429.6 239.0 425.0 239.3C420.4 239.5 411.9 238.7 410.0 238.4C408.1 238.2 413.9 238.1 413.5 237.6C413.1 237.1 408.7 236.1 407.6 235.4C406.5 234.8 405.3 234.1 406.8 233.8Z" fill="#8fe628" />
<path d="M466.8 175.9C467.2 174.8 469.5 174.4 471.8 174.7C474.0 175.0 477.6 176.2 480.1 177.5C482.6 178.8 485.2 180.2 486.8 182.5C488.3 184.9 489.4 188.8 489.3 191.7C489.1 194.6 487.2 198.1 485.9 200.0C484.7 202.0 483.2 203.7 481.8 203.4C480.4 203.1 479.0 200.9 477.6 198.4C476.2 195.9 474.8 191.3 473.4 188.4C472.0 185.4 470.4 182.9 469.3 180.9C468.1 178.8 466.3 176.9 466.8 175.9Z" fill="#8fe628" />
</g>
<circle cx="491.4" cy="234.6" r="2.2" fill="#60b0d0" filter="url(#bl1)"/>
<rect x="306" y="166.5" width="227.8" height="149.8" filter="url(#cn)" style="mix-blend-mode:multiply"/>
</g>
<text x="313.7" y="177.5" font-size="8.4" font-weight="bold" fill="#fff" text-anchor="start" textLength="23.3" lengthAdjust="spacingAndGlyphs" >1 mm</text>
<rect x="310.3" y="180.1" width="28.9" height="1.4" fill="#fff"/>
<clipPath id="cp2"><rect x="568" y="176.7" width="235.8" height="145.6"/></clipPath>
<g clip-path="url(#cp2)">
<rect x="568" y="176.7" width="235.8" height="145.6" fill="#000"/>
<g filter="url(#bl2)">
<path d="M582.0 215.1C584.0 212.6 590.4 207.0 595.4 203.4C600.4 199.8 605.9 196.3 612.1 193.4C618.2 190.4 626.0 187.9 632.1 185.9C638.2 183.8 642.4 182.2 648.8 180.8C655.2 179.5 662.5 178.7 670.5 178.0C678.4 177.3 689.5 176.8 696.7 176.7C703.8 176.5 707.0 176.6 713.4 177.0C719.8 177.4 728.9 178.4 735.1 179.2C741.2 180.0 744.8 180.4 750.1 181.7C755.4 182.9 761.8 184.7 766.8 186.7C771.8 188.6 776.2 190.9 780.1 193.4C784.0 195.9 788.6 199.9 790.1 201.7C791.7 203.5 791.0 203.9 789.3 204.2C787.6 204.5 783.3 203.4 780.1 203.4C776.9 203.4 772.9 203.8 770.1 204.2C767.3 204.6 766.5 205.3 763.4 205.9C760.4 206.4 754.5 207.5 751.7 207.5C749.0 207.5 749.5 206.9 746.7 205.9C744.0 204.9 738.4 201.7 735.1 201.7C731.7 201.7 729.2 205.6 726.7 205.9C724.2 206.2 724.5 204.8 720.0 203.4C715.6 202.0 706.9 198.5 700.0 197.5C693.1 196.6 684.6 196.8 678.8 197.5C673.0 198.2 670.2 201.6 665.5 201.7C660.7 201.8 654.6 198.5 650.4 198.4C646.3 198.2 644.6 200.0 640.4 200.9C636.3 201.7 631.5 201.6 625.4 203.4C619.3 205.2 610.7 209.2 603.7 211.7C596.8 214.2 587.3 217.8 583.7 218.4C580.1 218.9 580.1 217.6 582.0 215.1Z" fill="#1e5a5e" opacity="0.55" />
<path d="M652.1 195.0C653.2 193.2 660.5 190.0 665.5 188.4C670.5 186.7 676.9 185.9 682.1 185.0C687.3 184.2 690.1 183.7 696.7 183.3C703.3 183.0 715.6 182.7 721.7 183.0C727.8 183.3 730.6 183.3 733.4 185.0C736.2 186.7 739.0 191.7 738.4 193.4C737.8 195.0 733.1 195.4 730.1 195.0C727.0 194.6 725.0 191.6 720.0 190.9C715.0 190.2 706.3 190.6 700.0 190.9C693.7 191.1 687.3 191.8 682.1 192.5C676.9 193.2 672.7 193.9 668.8 195.0C664.9 196.1 661.6 199.2 658.8 199.2C656.0 199.2 651.0 196.8 652.1 195.0Z" fill="#2a9a70" opacity="0.7" />
<path d="M743.4 183.3C744.0 181.0 749.2 181.7 751.7 182.5C754.3 183.3 757.0 185.7 758.4 188.4C759.8 191.0 760.9 195.9 760.1 198.4C759.3 200.9 755.4 203.7 753.4 203.4C751.5 203.1 750.1 200.0 748.4 196.7C746.7 193.4 742.8 185.7 743.4 183.3Z" fill="#2a9080" opacity="0.7" />
<path d="M772.6 199.2C773.4 197.7 777.5 194.8 780.1 195.0C782.8 195.3 787.3 199.3 788.5 200.9C789.6 202.4 789.0 203.7 786.8 204.2C784.6 204.8 777.5 205.0 775.1 204.2C772.7 203.4 771.8 200.7 772.6 199.2Z" fill="#30a070" opacity="0.8" />
</g>
<g filter="url(#bl1)">
<path d="M640.4 201.7C641.3 200.0 642.1 194.6 645.4 191.7C648.8 188.8 654.9 186.1 660.5 184.2C666.0 182.2 672.8 181.1 678.8 180.0C684.8 179.0 690.9 178.2 696.7 177.8C702.4 177.5 707.5 177.7 713.4 177.8C719.2 178.0 727.4 178.0 731.7 178.7C736.0 179.3 737.1 179.8 739.2 181.7C741.3 183.6 742.7 187.1 744.2 190.0C745.8 192.9 747.7 197.7 748.4 199.2" fill="none" stroke="#b0108a" stroke-width="4.4" stroke-linecap="round" stroke-linejoin="round" opacity="0.75" />
<path d="M668.8 204.2C669.4 203.8 669.9 202.6 672.1 201.7C674.4 200.8 678.1 199.5 682.1 198.7C686.2 197.9 691.5 197.3 696.7 197.0C701.9 196.8 709.8 196.6 713.4 197.0C717.0 197.5 716.8 198.3 718.4 199.7C719.9 201.1 721.9 204.4 722.5 205.4" fill="none" stroke="#c0107a" stroke-width="4" stroke-linecap="round" stroke-linejoin="round" opacity="0.75" />
<path d="M755.1 185.0C755.8 186.4 758.1 190.3 759.3 193.4C760.4 196.4 761.3 201.7 761.8 203.4" fill="none" stroke="#b0108a" stroke-width="4" stroke-linecap="round" stroke-linejoin="round" opacity="0.7" />
<path d="M766.8 188.4C767.5 189.7 770.1 194.1 770.9 196.7C771.8 199.3 771.6 203.0 771.8 204.2" fill="none" stroke="#b0108a" stroke-width="3" stroke-linecap="round" stroke-linejoin="round" opacity="0.6" />
<path d="M645.4 201.7C646.0 200.5 646.0 196.6 648.8 194.2C651.6 191.8 657.1 189.1 662.1 187.2C667.1 185.3 673.0 184.1 678.8 183.0C684.6 181.9 690.9 181.1 696.7 180.7C702.4 180.2 707.8 180.3 713.4 180.3C718.9 180.4 726.2 180.3 730.1 180.8C733.9 181.3 734.8 181.7 736.7 183.3C738.6 185.0 739.9 188.1 741.4 190.9C742.9 193.6 744.5 197.3 745.9 200.0C747.4 202.7 749.4 205.9 750.1 207.0" fill="none" stroke="#2a18f0" stroke-width="3.2" stroke-linecap="round" stroke-linejoin="round" opacity="1" />
<path d="M665.5 205.9C666.3 204.7 667.7 200.5 670.5 198.7C673.2 196.9 677.8 196.2 682.1 195.4C686.5 194.6 691.5 194.1 696.7 193.9C701.9 193.6 709.5 193.2 713.4 193.7C717.3 194.2 718.2 195.1 720.0 196.7C721.9 198.3 723.5 201.8 724.7 203.4C726.0 205.0 727.1 205.9 727.6 206.4" fill="none" stroke="#2a18f0" stroke-width="3.4" stroke-linecap="round" stroke-linejoin="round" opacity="1" />
<path d="M758.8 186.7C759.4 188.1 761.6 191.6 762.6 195.0C763.6 198.5 764.3 205.5 764.6 207.5" fill="none" stroke="#2a18f0" stroke-width="3.2" stroke-linecap="round" stroke-linejoin="round" opacity="1" />
</g>
<path fill="#3a50ff" d="M683.3 231.0h1.3v1.3h-1.3zM742.3 243.6h1.8v1.8h-1.8zM708.4 216.8h1.6v1.6h-1.6zM749.1 260.5h1.3v1.3h-1.3zM773.3 320.7h1.9v1.9h-1.9zM717.2 267.8h2.0v2.0h-2.0zM785.9 214.9h1.6v1.6h-1.6zM693.6 212.6h1.7v1.7h-1.7zM745.6 217.6h1.3v1.3h-1.3zM614.8 282.5h1.7v1.7h-1.7zM780.2 294.7h1.5v1.5h-1.5zM695.4 319.1h2.0v2.0h-2.0zM700.6 204.8h1.9v1.9h-1.9zM762.0 204.1h1.7v1.7h-1.7zM647.1 212.4h2.0v2.0h-2.0zM786.3 227.2h1.8v1.8h-1.8zM588.5 252.0h1.4v1.4h-1.4zM746.6 230.8h1.5v1.5h-1.5zM610.8 276.9h1.3v1.3h-1.3zM664.3 200.9h1.2v1.2h-1.2zM682.6 286.6h1.4v1.4h-1.4zM623.2 306.1h1.2v1.2h-1.2zM734.2 218.8h1.5v1.5h-1.5zM744.5 254.0h1.3v1.3h-1.3zM662.4 215.6h1.2v1.2h-1.2zM657.9 280.0h1.2v1.2h-1.2zM699.7 219.5h1.6v1.6h-1.6zM728.1 212.2h1.6v1.6h-1.6zM629.1 314.3h1.7v1.7h-1.7zM690.8 296.7h1.2v1.2h-1.2zM772.5 209.2h1.7v1.7h-1.7zM678.2 238.7h1.6v1.6h-1.6zM718.5 231.1h1.8v1.8h-1.8zM758.9 295.2h1.3v1.3h-1.3zM656.7 203.1h1.7v1.7h-1.7zM732.3 216.4h1.3v1.3h-1.3zM663.2 215.6h1.5v1.5h-1.5zM756.4 231.8h1.8v1.8h-1.8zM655.8 232.4h1.4v1.4h-1.4zM791.5 231.5h1.4v1.4h-1.4zM777.7 296.2h1.5v1.5h-1.5zM768.6 240.8h1.4v1.4h-1.4zM691.3 249.2h2.0v2.0h-2.0zM627.6 227.9h1.4v1.4h-1.4zM727.8 211.6h1.9v1.9h-1.9zM782.1 207.8h1.3v1.3h-1.3zM719.0 223.9h1.6v1.6h-1.6z"/>
<path fill="#1818e8" d="M681.4 297.7h1.4v1.4h-1.4zM666.5 201.4h1.9v1.9h-1.9zM767.4 221.2h1.8v1.8h-1.8zM771.7 271.5h1.5v1.5h-1.5zM684.0 208.5h1.5v1.5h-1.5zM749.8 291.0h1.3v1.3h-1.3zM747.4 202.0h1.8v1.8h-1.8zM662.3 209.3h1.4v1.4h-1.4zM675.1 210.9h1.7v1.7h-1.7zM794.3 319.7h1.4v1.4h-1.4zM608.9 232.3h2.0v2.0h-2.0zM647.4 215.7h1.7v1.7h-1.7zM715.5 201.9h1.3v1.3h-1.3zM788.0 291.5h1.7v1.7h-1.7zM775.3 229.1h1.3v1.3h-1.3zM720.8 213.3h1.6v1.6h-1.6zM767.0 305.5h1.7v1.7h-1.7zM728.2 219.5h1.6v1.6h-1.6zM735.4 208.2h1.7v1.7h-1.7zM654.5 204.6h1.8v1.8h-1.8zM645.1 207.8h1.3v1.3h-1.3zM594.2 254.0h1.8v1.8h-1.8zM659.4 292.6h1.3v1.3h-1.3zM723.4 240.7h1.9v1.9h-1.9zM667.9 205.7h1.9v1.9h-1.9zM723.9 219.3h1.3v1.3h-1.3zM594.1 250.5h1.8v1.8h-1.8zM786.0 221.3h1.5v1.5h-1.5zM739.2 212.0h1.5v1.5h-1.5zM664.5 222.0h1.6v1.6h-1.6zM595.3 253.8h1.4v1.4h-1.4zM725.8 206.3h1.3v1.3h-1.3zM691.1 212.9h1.5v1.5h-1.5zM683.8 236.9h1.4v1.4h-1.4zM607.5 280.7h1.8v1.8h-1.8zM661.3 266.6h1.3v1.3h-1.3zM758.4 227.0h1.5v1.5h-1.5zM725.8 278.2h2.0v2.0h-2.0zM762.7 212.4h2.0v2.0h-2.0zM731.1 244.2h1.3v1.3h-1.3zM677.7 217.8h1.2v1.2h-1.2zM745.2 206.1h1.5v1.5h-1.5zM749.1 211.1h1.7v1.7h-1.7zM675.4 320.7h1.4v1.4h-1.4zM589.0 265.3h1.6v1.6h-1.6zM688.9 299.9h1.2v1.2h-1.2zM756.6 245.2h1.2v1.2h-1.2zM754.9 249.1h1.4v1.4h-1.4zM716.6 236.0h1.7v1.7h-1.7zM707.0 222.4h1.9v1.9h-1.9zM617.6 255.3h1.7v1.7h-1.7zM796.2 241.7h1.3v1.3h-1.3zM684.5 233.1h1.4v1.4h-1.4zM695.5 256.9h1.4v1.4h-1.4zM724.3 315.2h2.0v2.0h-2.0zM639.1 226.6h1.5v1.5h-1.5zM729.1 232.2h1.9v1.9h-1.9zM779.4 273.7h1.6v1.6h-1.6zM644.0 209.2h1.7v1.7h-1.7zM739.1 239.2h1.2v1.2h-1.2zM637.0 244.8h2.0v2.0h-2.0zM635.1 223.2h1.9v1.9h-1.9zM680.8 287.8h1.5v1.5h-1.5zM782.6 261.9h1.7v1.7h-1.7zM735.0 224.5h1.9v1.9h-1.9zM634.3 231.0h1.6v1.6h-1.6zM762.1 222.4h1.3v1.3h-1.3zM755.9 206.6h1.6v1.6h-1.6zM766.3 213.9h1.6v1.6h-1.6zM732.7 217.6h1.4v1.4h-1.4zM644.7 296.8h1.2v1.2h-1.2zM645.0 216.8h1.6v1.6h-1.6zM732.3 214.1h1.4v1.4h-1.4zM669.7 210.0h1.8v1.8h-1.8zM672.1 248.9h1.9v1.9h-1.9zM681.7 231.5h1.5v1.5h-1.5zM736.3 296.6h1.6v1.6h-1.6zM758.7 211.3h1.2v1.2h-1.2zM728.8 249.1h1.6v1.6h-1.6zM775.1 254.5h1.8v1.8h-1.8zM602.8 240.2h1.4v1.4h-1.4zM730.4 208.3h2.0v2.0h-2.0zM781.7 209.9h1.5v1.5h-1.5zM616.5 232.5h1.9v1.9h-1.9zM594.7 279.5h1.4v1.4h-1.4zM752.8 278.2h1.3v1.3h-1.3zM629.5 299.5h1.8v1.8h-1.8zM672.9 210.8h1.7v1.7h-1.7zM782.7 234.7h1.3v1.3h-1.3zM616.4 270.8h1.3v1.3h-1.3zM734.6 206.5h1.7v1.7h-1.7zM760.7 219.6h1.6v1.6h-1.6zM651.5 219.0h1.3v1.3h-1.3zM709.4 253.9h1.3v1.3h-1.3zM689.3 204.6h1.8v1.8h-1.8zM601.0 250.4h1.3v1.3h-1.3zM751.6 239.3h1.5v1.5h-1.5zM722.0 281.7h1.6v1.6h-1.6zM721.2 212.0h1.7v1.7h-1.7zM711.0 312.1h1.5v1.5h-1.5zM704.0 231.3h1.3v1.3h-1.3zM594.1 317.4h1.3v1.3h-1.3zM676.4 315.8h1.3v1.3h-1.3zM745.2 237.9h1.7v1.7h-1.7zM613.4 271.5h1.5v1.5h-1.5zM794.6 281.6h1.5v1.5h-1.5zM672.7 258.6h1.9v1.9h-1.9zM686.4 269.3h1.8v1.8h-1.8zM677.6 215.0h1.6v1.6h-1.6zM798.6 248.6h1.8v1.8h-1.8zM594.0 296.3h1.7v1.7h-1.7zM643.5 216.1h2.0v2.0h-2.0zM741.7 199.7h1.5v1.5h-1.5zM688.6 209.1h1.7v1.7h-1.7zM640.7 211.5h1.9v1.9h-1.9zM709.5 266.8h1.6v1.6h-1.6zM663.3 223.3h1.9v1.9h-1.9zM671.9 286.2h1.3v1.3h-1.3zM773.8 211.0h1.8v1.8h-1.8zM611.3 286.6h1.4v1.4h-1.4zM722.0 212.8h1.9v1.9h-1.9zM645.8 261.3h1.3v1.3h-1.3zM629.8 264.4h1.2v1.2h-1.2zM792.2 228.5h1.6v1.6h-1.6zM670.3 291.0h1.7v1.7h-1.7zM737.0 244.0h1.4v1.4h-1.4zM686.6 255.9h1.9v1.9h-1.9zM775.8 261.3h1.3v1.3h-1.3zM591.9 259.9h2.0v2.0h-2.0zM630.1 273.5h2.0v2.0h-2.0zM752.0 201.4h1.7v1.7h-1.7zM671.1 199.6h1.7v1.7h-1.7zM713.5 209.1h1.4v1.4h-1.4zM739.2 209.7h1.8v1.8h-1.8zM687.9 281.4h1.5v1.5h-1.5zM676.5 212.1h1.3v1.3h-1.3zM775.1 249.7h1.5v1.5h-1.5zM777.6 228.5h1.8v1.8h-1.8zM640.2 251.7h1.8v1.8h-1.8zM763.8 204.7h1.7v1.7h-1.7zM753.0 259.5h1.6v1.6h-1.6zM667.3 254.0h1.6v1.6h-1.6zM784.3 216.6h1.6v1.6h-1.6zM751.6 292.6h1.8v1.8h-1.8zM793.9 230.2h1.8v1.8h-1.8zM737.0 228.7h1.3v1.3h-1.3zM698.8 250.6h1.4v1.4h-1.4zM749.3 227.4h1.2v1.2h-1.2zM627.1 228.2h1.8v1.8h-1.8zM653.7 311.4h1.5v1.5h-1.5zM784.3 217.2h1.8v1.8h-1.8zM728.4 207.4h1.2v1.2h-1.2zM787.2 231.4h1.9v1.9h-1.9zM594.6 259.4h1.9v1.9h-1.9zM712.2 246.9h1.5v1.5h-1.5zM680.4 311.5h1.8v1.8h-1.8zM700.2 253.2h1.2v1.2h-1.2zM786.3 234.9h1.9v1.9h-1.9zM786.0 309.1h1.7v1.7h-1.7zM712.4 199.0h1.2v1.2h-1.2zM747.6 230.2h1.7v1.7h-1.7zM589.1 255.2h2.0v2.0h-2.0zM794.8 228.0h1.7v1.7h-1.7zM653.1 223.0h1.6v1.6h-1.6zM742.9 274.3h1.3v1.3h-1.3zM683.5 202.4h1.7v1.7h-1.7zM781.4 240.6h1.6v1.6h-1.6zM777.7 217.1h1.6v1.6h-1.6zM667.9 202.5h1.7v1.7h-1.7zM742.8 203.6h1.8v1.8h-1.8zM724.2 294.3h1.6v1.6h-1.6zM772.2 247.0h1.4v1.4h-1.4zM785.7 261.1h1.3v1.3h-1.3zM660.8 272.6h1.5v1.5h-1.5zM711.2 264.4h1.3v1.3h-1.3z"/>
<path fill="#20c040" d="M734.7 256.2h1.9v1.9h-1.9zM778.0 230.2h1.9v1.9h-1.9zM717.3 229.6h1.7v1.7h-1.7zM766.9 266.6h1.3v1.3h-1.3zM774.7 308.5h1.6v1.6h-1.6zM744.0 203.7h1.4v1.4h-1.4zM738.9 226.5h1.5v1.5h-1.5zM778.4 216.7h1.2v1.2h-1.2zM597.8 318.8h1.6v1.6h-1.6zM651.0 208.7h1.5v1.5h-1.5zM732.7 228.3h1.9v1.9h-1.9zM740.9 208.3h2.0v2.0h-2.0zM786.8 252.9h1.4v1.4h-1.4zM632.8 229.6h1.5v1.5h-1.5zM578.8 260.5h1.5v1.5h-1.5zM787.2 215.4h1.7v1.7h-1.7zM666.3 203.2h1.6v1.6h-1.6zM654.1 263.5h1.7v1.7h-1.7zM760.6 206.6h1.6v1.6h-1.6zM642.8 320.0h1.2v1.2h-1.2zM740.8 305.9h1.6v1.6h-1.6zM751.1 246.5h1.7v1.7h-1.7zM657.6 222.9h1.9v1.9h-1.9zM782.8 214.9h1.6v1.6h-1.6zM772.5 213.0h1.4v1.4h-1.4zM747.1 231.0h2.0v2.0h-2.0zM761.7 212.2h1.5v1.5h-1.5zM640.0 244.9h1.8v1.8h-1.8zM775.4 208.7h1.3v1.3h-1.3zM719.8 209.3h1.6v1.6h-1.6zM668.7 219.0h1.6v1.6h-1.6zM739.4 204.2h1.7v1.7h-1.7zM659.6 221.2h1.2v1.2h-1.2zM604.2 259.5h2.0v2.0h-2.0zM649.3 301.6h1.3v1.3h-1.3zM720.5 226.9h1.2v1.2h-1.2zM696.8 213.2h1.8v1.8h-1.8zM749.4 283.7h1.9v1.9h-1.9zM636.5 272.3h1.2v1.2h-1.2zM690.8 308.4h1.4v1.4h-1.4z"/>
<path fill="#b020c0" d="M746.3 203.9h1.7v1.7h-1.7zM738.9 252.6h1.4v1.4h-1.4zM715.0 216.2h1.7v1.7h-1.7zM649.2 207.5h1.3v1.3h-1.3zM624.4 226.1h1.7v1.7h-1.7zM709.1 201.1h1.6v1.6h-1.6zM638.1 232.5h1.3v1.3h-1.3zM621.9 309.7h1.4v1.4h-1.4zM735.0 199.6h1.7v1.7h-1.7zM643.0 297.1h1.2v1.2h-1.2zM732.5 230.4h1.6v1.6h-1.6zM729.3 308.3h1.2v1.2h-1.2zM717.4 209.1h1.4v1.4h-1.4zM785.0 233.5h1.8v1.8h-1.8zM737.0 216.0h1.5v1.5h-1.5zM739.5 261.4h1.4v1.4h-1.4zM699.5 288.4h1.6v1.6h-1.6zM664.6 220.9h1.2v1.2h-1.2zM771.6 206.8h1.7v1.7h-1.7zM700.4 205.6h1.5v1.5h-1.5zM785.1 225.3h1.5v1.5h-1.5zM650.3 222.7h1.6v1.6h-1.6zM678.2 230.4h1.4v1.4h-1.4zM642.9 265.7h2.0v2.0h-2.0zM623.8 300.3h1.8v1.8h-1.8z"/>
<path fill="#e0104a" d="M692.6 200.4h1.7v1.7h-1.7zM692.1 231.0h1.9v1.9h-1.9zM607.5 282.3h1.7v1.7h-1.7zM640.0 280.7h1.3v1.3h-1.3zM773.8 215.3h1.7v1.7h-1.7zM755.0 263.5h1.2v1.2h-1.2zM717.6 243.1h1.8v1.8h-1.8zM670.8 278.2h1.7v1.7h-1.7zM733.9 201.2h1.4v1.4h-1.4zM727.5 214.5h1.9v1.9h-1.9zM781.9 257.5h1.4v1.4h-1.4zM724.5 205.8h1.9v1.9h-1.9zM679.0 243.1h1.9v1.9h-1.9zM772.7 262.3h1.6v1.6h-1.6zM577.8 274.1h1.8v1.8h-1.8zM705.6 205.6h1.3v1.3h-1.3zM668.9 237.2h1.5v1.5h-1.5zM771.6 244.1h1.8v1.8h-1.8zM785.2 257.0h1.6v1.6h-1.6zM690.6 218.0h1.5v1.5h-1.5zM751.2 225.6h1.8v1.8h-1.8zM767.7 214.9h1.4v1.4h-1.4zM669.5 266.1h1.9v1.9h-1.9zM751.8 236.1h1.7v1.7h-1.7zM685.3 269.7h1.3v1.3h-1.3zM640.2 279.8h1.3v1.3h-1.3zM706.4 223.5h1.8v1.8h-1.8zM719.1 212.7h1.5v1.5h-1.5zM685.5 199.4h1.4v1.4h-1.4zM663.3 216.7h1.8v1.8h-1.8zM742.4 269.3h2.0v2.0h-2.0zM688.3 216.3h1.3v1.3h-1.3zM668.4 216.6h1.4v1.4h-1.4zM634.0 279.7h1.2v1.2h-1.2zM666.0 202.5h1.4v1.4h-1.4zM771.5 219.4h1.3v1.3h-1.3zM641.4 301.8h2.0v2.0h-2.0zM686.0 220.8h1.4v1.4h-1.4zM631.6 219.9h1.7v1.7h-1.7zM730.9 200.8h1.4v1.4h-1.4zM631.7 246.0h1.8v1.8h-1.8zM706.2 200.9h1.6v1.6h-1.6zM620.6 247.2h1.3v1.3h-1.3z"/>
<rect x="568" y="176.7" width="235.8" height="145.6" filter="url(#cn)" style="mix-blend-mode:multiply"/>
</g>
<text x="575.4" y="187.8" font-size="8.4" font-weight="bold" fill="#fff" text-anchor="start" textLength="23.6" lengthAdjust="spacingAndGlyphs" >1 mm</text>
<rect x="573.1" y="190.7" width="28.2" height="1.4" fill="#fff"/>
<clipPath id="cp3"><rect x="2.5" y="525" width="235.5" height="143.5"/></clipPath>
<g clip-path="url(#cp3)">
<rect x="2.5" y="525" width="235.5" height="143.5" fill="#000"/>
<g filter="url(#bl1)">
<path d="M6.7 593.4C4.9 590.1 7.5 580.4 9.2 575.1C10.8 569.8 13.5 565.6 16.7 561.7C19.9 557.8 23.9 554.8 28.4 551.7C32.8 548.6 38.9 545.7 43.4 543.4C47.8 541.0 50.6 538.9 55.1 537.5C59.5 536.1 64.8 536.0 70.1 535.0C75.4 534.0 81.8 532.8 86.8 531.7C91.8 530.6 95.1 529.2 100.1 528.3C105.1 527.5 111.0 527.1 116.8 526.7C122.6 526.3 127.8 526.1 135.0 525.8C142.2 525.6 153.7 524.9 160.1 525.0C166.5 525.1 169.5 525.7 173.4 526.7C177.3 527.6 179.5 529.2 183.4 530.8C187.3 532.5 192.3 535.0 196.8 536.7C201.2 538.4 206.5 539.5 210.1 540.9C213.7 542.2 215.7 543.5 218.5 545.0C221.2 546.6 224.4 547.0 226.8 550.0C229.2 553.1 231.4 558.9 232.6 563.4C233.9 567.8 234.2 572.3 234.3 576.7C234.5 581.2 235.0 587.6 233.5 590.1C232.0 592.6 229.0 590.4 225.1 591.8C221.2 593.1 214.3 596.5 210.1 598.4C206.0 600.4 204.6 604.0 200.1 603.4C195.7 602.9 189.3 597.0 183.4 595.1C177.6 593.1 170.4 592.0 165.1 591.8C159.8 591.5 156.7 592.9 151.7 593.4C146.7 594.0 140.6 595.1 135.0 595.1C129.5 595.1 123.0 594.0 118.3 593.4C113.6 592.9 110.9 591.5 106.8 591.8C102.6 592.0 99.6 593.1 93.4 595.1C87.3 597.0 77.3 602.3 70.1 603.4C62.9 604.5 55.3 603.4 50.1 601.8C44.8 600.1 43.4 594.5 38.4 593.4C33.4 592.3 25.3 595.1 20.0 595.1C14.7 595.1 8.5 596.8 6.7 593.4Z" fill="#c85c80" />
<path d="M40.0 591.8C39.8 587.7 45.9 583.4 48.4 578.4C50.9 573.4 53.0 566.7 55.1 561.7C57.2 556.7 59.0 552.0 60.9 548.4C62.9 544.8 62.4 542.0 66.7 540.0C71.1 538.1 81.2 537.8 86.8 536.7C92.3 535.6 93.5 533.9 100.1 533.3C106.8 532.8 116.7 533.6 126.7 533.3C136.7 533.1 151.7 531.8 160.1 531.7C168.4 531.5 172.0 531.4 176.7 532.5C181.5 533.6 184.5 536.3 188.4 538.4C192.3 540.4 198.0 541.7 200.1 545.0C202.2 548.4 199.8 554.8 200.9 558.4C202.1 562.0 204.1 563.4 206.8 566.7C209.4 570.1 213.5 574.3 216.8 578.4C220.1 582.5 226.8 588.4 226.8 591.4C226.8 594.4 220.7 594.5 216.8 596.4C212.9 598.4 208.5 603.4 203.4 603.1C198.4 602.8 193.2 596.5 186.8 594.8C180.4 593.0 170.9 592.8 165.1 592.8C159.2 592.8 156.7 594.1 151.7 594.8C146.7 595.4 140.6 596.5 135.0 596.4C129.5 596.4 123.0 595.0 118.3 594.4C113.6 593.8 111.5 592.4 106.8 592.8C102.1 593.1 96.8 594.4 90.1 596.4C83.4 598.4 73.4 603.8 66.7 604.8C60.1 605.8 54.5 604.6 50.1 602.4C45.6 600.3 40.3 595.8 40.0 591.8Z" fill="#2626fa" />
<path d="M45.1 545.0C46.5 543.2 54.5 539.5 56.7 540.9C59.0 542.2 59.4 549.1 58.7 553.4C58.0 557.7 54.3 562.7 52.6 566.7C50.8 570.8 49.8 576.0 48.4 577.6C47.0 579.1 44.3 578.5 44.2 575.9C44.2 573.3 47.4 565.8 48.1 561.7C48.7 557.7 48.6 554.5 48.1 551.7C47.6 548.9 43.6 546.8 45.1 545.0Z" fill="#c85c80" />
<path d="M7.5 590.1C7.8 586.2 8.5 579.5 10.0 575.1C11.5 570.6 13.9 566.6 16.7 563.4C19.5 560.2 23.1 558.1 26.7 555.9C30.3 553.7 34.8 550.6 38.4 550.0C42.0 549.5 46.4 550.6 48.4 552.5C50.3 554.5 50.3 558.0 50.1 561.7C49.8 565.5 48.4 570.9 46.7 575.1C45.1 579.2 42.8 583.7 40.0 586.7C37.3 589.8 33.9 592.0 30.0 593.4C26.1 594.8 20.3 594.3 16.7 595.1C13.1 595.9 9.9 599.3 8.3 598.4C6.8 597.6 7.2 594.0 7.5 590.1Z" fill="#80ee4c" />
<path d="M198.4 540.0C200.1 538.6 207.5 540.4 210.1 541.7C212.8 542.9 214.4 545.4 214.3 547.5C214.2 549.6 209.7 551.3 209.3 554.2C208.9 557.1 210.3 561.3 211.8 565.1C213.3 568.8 218.2 575.1 218.5 576.7C218.7 578.4 215.8 577.4 213.5 575.1C211.1 572.7 206.5 566.7 204.3 562.6C202.1 558.4 201.1 553.8 200.1 550.0C199.1 546.3 196.8 541.4 198.4 540.0Z" fill="#c85c80" />
<path d="M210.1 550.0C211.4 548.1 214.3 546.4 216.8 546.7C219.3 547.0 222.8 548.9 225.1 551.7C227.5 554.5 229.6 559.2 231.0 563.4C232.4 567.6 233.2 572.8 233.5 576.7C233.8 580.6 233.8 585.1 232.6 586.7C231.5 588.4 229.2 588.7 226.8 586.7C224.4 584.8 220.7 578.4 218.5 575.1C216.2 571.7 215.0 569.5 213.5 566.7C211.9 563.9 209.8 561.2 209.3 558.4C208.7 555.6 208.9 552.0 210.1 550.0Z" fill="#80ee4c" />
<path d="M65.1 541.7C66.1 539.9 67.6 538.4 70.1 537.5C72.6 536.7 77.9 536.0 80.1 536.7C82.3 537.4 83.7 539.5 83.4 541.7C83.2 543.9 80.4 547.7 78.4 550.0C76.5 552.4 73.7 555.2 71.8 555.9C69.8 556.6 68.0 555.5 66.7 554.2C65.5 553.0 64.5 550.5 64.2 548.4C64.0 546.3 64.1 543.5 65.1 541.7Z" fill="#c85c80" stroke="#c85c80" stroke-width="6.4" stroke-linejoin="round" stroke-linecap="round" />
<path d="M75.1 575.1C74.5 573.5 72.9 571.5 73.4 568.4C74.0 565.3 76.5 560.3 78.4 556.7C80.4 553.1 82.6 549.8 85.1 546.7C87.6 543.6 89.8 540.9 93.4 538.4C97.1 535.9 101.8 533.2 106.8 531.7C111.8 530.2 118.8 529.8 123.5 529.2C128.2 528.5 128.9 528.1 135.0 527.8C141.1 527.6 153.9 527.1 160.1 527.5C166.2 527.9 168.7 527.9 171.7 530.0C174.8 532.1 176.3 536.1 178.4 540.0C180.5 543.9 182.5 548.9 184.3 553.4C186.0 557.8 188.2 563.4 188.8 566.7C189.3 570.0 188.5 571.8 187.6 573.1C186.7 574.3 185.2 575.0 183.4 574.2C181.6 573.5 179.1 571.7 176.7 568.4C174.4 565.1 172.0 558.1 169.2 554.2C166.5 550.3 164.4 547.1 160.1 545.0C155.8 542.9 149.5 542.4 143.4 541.7C137.3 541.0 128.6 540.0 123.4 540.9C118.1 541.7 115.1 544.6 111.8 546.7C108.5 548.8 106.0 550.6 103.5 553.4C101.0 556.2 99.0 560.0 96.8 563.4C94.6 566.7 92.6 570.9 90.1 573.4C87.6 575.9 84.0 577.7 81.8 578.4C79.5 579.1 77.9 578.1 76.8 577.6C75.6 577.0 75.6 576.6 75.1 575.1Z" fill="#c85c80" stroke="#c85c80" stroke-width="6.4" stroke-linejoin="round" stroke-linecap="round" />
<path d="M103.5 563.4C104.3 562.0 106.8 558.9 110.1 557.5C113.5 556.2 120.7 555.6 123.5 555.0C126.2 554.5 123.4 554.1 126.7 554.2C130.0 554.3 138.4 555.0 143.4 555.9C148.4 556.7 153.8 557.8 156.7 559.2C159.6 560.6 160.9 562.6 160.9 564.2C160.9 565.9 159.6 568.1 156.7 569.2C153.8 570.3 148.4 570.8 143.4 570.9C138.4 571.0 130.0 570.3 126.7 570.1C123.4 569.8 126.0 569.6 123.5 569.2C121.0 568.8 114.9 568.1 111.8 567.6C108.7 567.0 106.5 566.6 105.1 565.9C103.7 565.2 102.6 564.8 103.5 563.4Z" fill="#c85c80" stroke="#c85c80" stroke-width="6.4" stroke-linejoin="round" stroke-linecap="round" />
<path d="M120.0 578.4C121.3 577.6 124.5 576.3 128.4 575.9C132.2 575.5 140.5 575.5 143.4 575.9C146.3 576.3 147.0 577.4 145.9 578.4C144.8 579.4 139.9 581.0 136.7 581.7C133.5 582.4 129.3 582.7 126.7 582.6C124.0 582.4 122.0 581.6 120.8 580.9C119.7 580.2 118.8 579.2 120.0 578.4Z" fill="#c85c80" stroke="#c85c80" stroke-width="6.4" stroke-linejoin="round" stroke-linecap="round" />
<path d="M118.3 590.1C119.5 589.7 122.5 590.9 126.7 590.9C130.9 590.9 139.5 590.5 143.4 590.1C147.3 589.7 148.7 588.1 150.0 588.4C151.4 588.7 154.2 590.8 151.7 591.8C149.2 592.7 140.3 594.0 135.0 594.3C129.7 594.5 122.8 594.1 120.0 593.4C117.2 592.7 117.2 590.5 118.3 590.1Z" fill="#c85c80" stroke="#c85c80" stroke-width="6.4" stroke-linejoin="round" stroke-linecap="round" />
<path d="M180.1 535.0C180.5 533.8 182.3 531.7 184.3 531.7C186.2 531.7 189.7 533.3 191.8 535.0C193.9 536.7 196.1 539.3 196.8 541.7C197.5 544.1 196.8 547.5 195.9 549.2C195.1 550.9 193.4 552.4 191.8 551.7C190.1 551.0 187.6 547.1 185.9 545.0C184.3 542.9 182.7 540.9 181.8 539.2C180.8 537.5 179.7 536.3 180.1 535.0Z" fill="#c85c80" stroke="#c85c80" stroke-width="6.4" stroke-linejoin="round" stroke-linecap="round" />
<path d="M65.1 541.7C66.1 539.9 67.6 538.4 70.1 537.5C72.6 536.7 77.9 536.0 80.1 536.7C82.3 537.4 83.7 539.5 83.4 541.7C83.2 543.9 80.4 547.7 78.4 550.0C76.5 552.4 73.7 555.2 71.8 555.9C69.8 556.6 68.0 555.5 66.7 554.2C65.5 553.0 64.5 550.5 64.2 548.4C64.0 546.3 64.1 543.5 65.1 541.7Z" fill="#80ee4c" />
<path d="M75.1 575.1C74.5 573.5 72.9 571.5 73.4 568.4C74.0 565.3 76.5 560.3 78.4 556.7C80.4 553.1 82.6 549.8 85.1 546.7C87.6 543.6 89.8 540.9 93.4 538.4C97.1 535.9 101.8 533.2 106.8 531.7C111.8 530.2 118.8 529.8 123.5 529.2C128.2 528.5 128.9 528.1 135.0 527.8C141.1 527.6 153.9 527.1 160.1 527.5C166.2 527.9 168.7 527.9 171.7 530.0C174.8 532.1 176.3 536.1 178.4 540.0C180.5 543.9 182.5 548.9 184.3 553.4C186.0 557.8 188.2 563.4 188.8 566.7C189.3 570.0 188.5 571.8 187.6 573.1C186.7 574.3 185.2 575.0 183.4 574.2C181.6 573.5 179.1 571.7 176.7 568.4C174.4 565.1 172.0 558.1 169.2 554.2C166.5 550.3 164.4 547.1 160.1 545.0C155.8 542.9 149.5 542.4 143.4 541.7C137.3 541.0 128.6 540.0 123.4 540.9C118.1 541.7 115.1 544.6 111.8 546.7C108.5 548.8 106.0 550.6 103.5 553.4C101.0 556.2 99.0 560.0 96.8 563.4C94.6 566.7 92.6 570.9 90.1 573.4C87.6 575.9 84.0 577.7 81.8 578.4C79.5 579.1 77.9 578.1 76.8 577.6C75.6 577.0 75.6 576.6 75.1 575.1Z" fill="#80ee4c" />
<path d="M103.5 563.4C104.3 562.0 106.8 558.9 110.1 557.5C113.5 556.2 120.7 555.6 123.5 555.0C126.2 554.5 123.4 554.1 126.7 554.2C130.0 554.3 138.4 555.0 143.4 555.9C148.4 556.7 153.8 557.8 156.7 559.2C159.6 560.6 160.9 562.6 160.9 564.2C160.9 565.9 159.6 568.1 156.7 569.2C153.8 570.3 148.4 570.8 143.4 570.9C138.4 571.0 130.0 570.3 126.7 570.1C123.4 569.8 126.0 569.6 123.5 569.2C121.0 568.8 114.9 568.1 111.8 567.6C108.7 567.0 106.5 566.6 105.1 565.9C103.7 565.2 102.6 564.8 103.5 563.4Z" fill="#80ee4c" />
<path d="M120.0 578.4C121.3 577.6 124.5 576.3 128.4 575.9C132.2 575.5 140.5 575.5 143.4 575.9C146.3 576.3 147.0 577.4 145.9 578.4C144.8 579.4 139.9 581.0 136.7 581.7C133.5 582.4 129.3 582.7 126.7 582.6C124.0 582.4 122.0 581.6 120.8 580.9C119.7 580.2 118.8 579.2 120.0 578.4Z" fill="#80ee4c" />
<path d="M118.3 590.1C119.5 589.7 122.5 590.9 126.7 590.9C130.9 590.9 139.5 590.5 143.4 590.1C147.3 589.7 148.7 588.1 150.0 588.4C151.4 588.7 154.2 590.8 151.7 591.8C149.2 592.7 140.3 594.0 135.0 594.3C129.7 594.5 122.8 594.1 120.0 593.4C117.2 592.7 117.2 590.5 118.3 590.1Z" fill="#80ee4c" />
<path d="M180.1 535.0C180.5 533.8 182.3 531.7 184.3 531.7C186.2 531.7 189.7 533.3 191.8 535.0C193.9 536.7 196.1 539.3 196.8 541.7C197.5 544.1 196.8 547.5 195.9 549.2C195.1 550.9 193.4 552.4 191.8 551.7C190.1 551.0 187.6 547.1 185.9 545.0C184.3 542.9 182.7 540.9 181.8 539.2C180.8 537.5 179.7 536.3 180.1 535.0Z" fill="#80ee4c" />
<path d="M158.4 526.3C160.3 525.8 169.3 525.5 171.7 525.8C174.2 526.2 175.0 528.1 173.1 528.7C171.1 529.2 162.5 529.6 160.1 529.2C157.6 528.8 156.4 526.9 158.4 526.3Z" fill="#80ee4c" />
</g>
<circle cx="205.1" cy="586.7" r="3" fill="#50c850" filter="url(#bl1)"/>
<path fill="#1a1ae8" d="M151.6 606.4h1.2v1.2h-1.2zM31.4 608.1h1.2v1.2h-1.2zM125.5 606.6h1.3v1.3h-1.3zM133.7 590.8h1.5v1.5h-1.5zM186.6 607.0h1.5v1.5h-1.5zM173.6 620.5h1.4v1.4h-1.4zM188.1 600.0h1.8v1.8h-1.8zM179.5 653.1h1.9v1.9h-1.9zM147.6 608.6h1.5v1.5h-1.5zM118.7 619.4h1.4v1.4h-1.4zM110.4 635.9h1.3v1.3h-1.3zM81.6 611.6h1.9v1.9h-1.9zM68.6 643.4h1.3v1.3h-1.3zM80.2 650.9h1.8v1.8h-1.8zM190.4 618.8h1.8v1.8h-1.8zM39.6 599.1h1.5v1.5h-1.5zM121.3 607.2h1.4v1.4h-1.4zM84.7 590.4h1.6v1.6h-1.6zM154.9 610.7h1.8v1.8h-1.8zM86.0 602.3h1.2v1.2h-1.2zM63.3 666.5h1.5v1.5h-1.5zM89.9 606.4h1.7v1.7h-1.7zM75.6 631.8h1.7v1.7h-1.7zM163.8 611.5h1.2v1.2h-1.2zM146.6 588.5h1.4v1.4h-1.4zM29.2 609.3h1.9v1.9h-1.9zM130.9 582.3h1.6v1.6h-1.6zM186.0 623.1h1.8v1.8h-1.8zM30.6 606.9h1.3v1.3h-1.3zM55.0 639.9h1.3v1.3h-1.3zM192.0 643.7h1.6v1.6h-1.6zM165.4 609.5h1.5v1.5h-1.5zM197.9 615.4h1.5v1.5h-1.5zM75.3 606.4h1.8v1.8h-1.8zM57.3 637.2h1.6v1.6h-1.6zM64.8 608.8h1.3v1.3h-1.3zM73.8 602.7h1.9v1.9h-1.9zM146.2 589.5h1.3v1.3h-1.3zM53.9 627.7h1.7v1.7h-1.7zM168.3 666.7h1.8v1.8h-1.8zM68.1 643.2h1.9v1.9h-1.9zM188.8 607.1h1.6v1.6h-1.6zM219.5 599.0h1.5v1.5h-1.5zM83.2 614.4h1.7v1.7h-1.7zM164.8 599.6h1.3v1.3h-1.3zM156.2 590.8h1.2v1.2h-1.2zM11.9 645.4h1.2v1.2h-1.2zM148.3 612.3h1.5v1.5h-1.5zM205.9 622.3h1.9v1.9h-1.9zM142.5 616.7h1.4v1.4h-1.4zM139.3 610.0h1.8v1.8h-1.8zM74.4 594.5h1.9v1.9h-1.9zM61.3 610.1h1.8v1.8h-1.8zM164.1 612.2h1.4v1.4h-1.4zM104.2 597.0h1.7v1.7h-1.7zM85.0 598.6h1.5v1.5h-1.5zM119.3 606.2h1.4v1.4h-1.4zM91.6 605.2h2.0v2.0h-2.0zM29.3 613.1h1.3v1.3h-1.3zM144.7 600.8h1.5v1.5h-1.5zM108.5 663.6h1.8v1.8h-1.8zM31.6 639.9h2.0v2.0h-2.0zM92.6 600.8h1.4v1.4h-1.4zM170.2 605.8h1.6v1.6h-1.6zM64.4 601.3h1.6v1.6h-1.6zM38.7 637.0h1.4v1.4h-1.4zM85.2 590.4h1.8v1.8h-1.8zM66.9 598.3h1.7v1.7h-1.7zM155.5 647.7h1.4v1.4h-1.4zM107.4 612.0h1.5v1.5h-1.5zM91.5 629.3h1.7v1.7h-1.7zM110.4 619.8h1.9v1.9h-1.9zM150.2 623.8h1.6v1.6h-1.6zM53.0 663.2h1.4v1.4h-1.4zM115.4 603.6h1.9v1.9h-1.9zM201.1 608.0h1.7v1.7h-1.7zM123.7 654.2h1.4v1.4h-1.4zM101.7 600.7h1.4v1.4h-1.4zM156.7 605.9h1.2v1.2h-1.2zM67.1 611.0h1.8v1.8h-1.8zM200.8 609.2h1.8v1.8h-1.8zM63.8 611.0h1.4v1.4h-1.4zM83.3 661.9h1.8v1.8h-1.8zM38.7 605.9h1.4v1.4h-1.4zM174.4 611.1h1.9v1.9h-1.9zM164.9 612.0h1.8v1.8h-1.8zM122.0 581.6h1.6v1.6h-1.6zM158.5 619.9h2.0v2.0h-2.0zM90.8 609.5h1.7v1.7h-1.7zM73.1 601.4h1.4v1.4h-1.4zM160.8 605.0h1.9v1.9h-1.9zM71.4 603.3h1.4v1.4h-1.4zM38.7 621.9h1.5v1.5h-1.5zM110.5 603.5h1.7v1.7h-1.7zM40.5 606.3h1.3v1.3h-1.3zM100.5 608.5h1.6v1.6h-1.6zM115.2 650.8h1.3v1.3h-1.3zM44.8 621.1h1.2v1.2h-1.2zM56.2 656.7h1.7v1.7h-1.7zM159.7 614.6h1.8v1.8h-1.8zM124.1 593.4h1.7v1.7h-1.7zM81.6 594.6h1.3v1.3h-1.3zM62.7 642.7h2.0v2.0h-2.0zM44.9 600.3h1.4v1.4h-1.4zM165.2 608.0h1.9v1.9h-1.9zM128.3 586.1h1.3v1.3h-1.3zM53.4 610.1h1.9v1.9h-1.9zM83.2 595.5h1.9v1.9h-1.9zM92.9 637.7h1.6v1.6h-1.6zM171.9 617.5h1.4v1.4h-1.4zM200.2 636.3h1.3v1.3h-1.3zM134.5 615.2h1.4v1.4h-1.4zM182.1 605.2h1.7v1.7h-1.7zM184.9 654.3h1.6v1.6h-1.6zM136.9 582.5h1.9v1.9h-1.9zM90.0 590.4h2.0v2.0h-2.0zM117.1 591.1h1.5v1.5h-1.5zM77.7 645.4h1.7v1.7h-1.7zM104.9 607.1h1.8v1.8h-1.8zM171.7 598.7h1.8v1.8h-1.8zM201.0 597.1h1.9v1.9h-1.9zM134.2 582.5h1.4v1.4h-1.4zM29.1 607.6h1.9v1.9h-1.9zM128.7 650.2h1.9v1.9h-1.9zM48.0 632.2h1.6v1.6h-1.6zM147.6 663.7h1.5v1.5h-1.5zM43.4 610.3h1.9v1.9h-1.9zM79.7 617.8h1.5v1.5h-1.5zM112.8 601.0h1.2v1.2h-1.2zM71.3 612.1h1.6v1.6h-1.6zM73.3 610.0h1.8v1.8h-1.8zM122.4 608.1h1.6v1.6h-1.6zM95.2 611.0h1.4v1.4h-1.4zM108.6 588.6h1.7v1.7h-1.7zM193.2 622.5h1.8v1.8h-1.8zM145.9 604.1h1.5v1.5h-1.5zM96.3 640.2h1.8v1.8h-1.8zM53.8 608.9h1.6v1.6h-1.6zM188.7 600.5h1.8v1.8h-1.8zM136.3 630.3h1.4v1.4h-1.4zM98.9 613.1h1.7v1.7h-1.7zM196.8 598.4h1.8v1.8h-1.8zM138.2 583.3h1.8v1.8h-1.8zM41.9 622.3h1.3v1.3h-1.3zM86.5 626.9h2.0v2.0h-2.0zM137.9 649.6h1.9v1.9h-1.9zM59.9 614.6h1.3v1.3h-1.3zM53.6 606.4h1.3v1.3h-1.3zM70.9 658.0h1.3v1.3h-1.3zM87.9 616.6h1.6v1.6h-1.6zM110.1 591.7h1.2v1.2h-1.2zM124.3 587.4h1.8v1.8h-1.8zM199.0 600.6h1.6v1.6h-1.6zM189.9 613.3h1.6v1.6h-1.6zM133.5 587.7h1.3v1.3h-1.3zM100.8 623.3h1.5v1.5h-1.5zM103.3 635.2h1.4v1.4h-1.4zM152.0 589.2h2.0v2.0h-2.0zM88.6 608.8h1.9v1.9h-1.9zM189.1 616.7h1.9v1.9h-1.9zM127.1 605.2h1.5v1.5h-1.5zM122.3 605.2h1.8v1.8h-1.8zM67.6 606.9h1.4v1.4h-1.4zM129.3 606.0h1.3v1.3h-1.3zM78.7 618.1h1.7v1.7h-1.7zM147.6 625.6h1.9v1.9h-1.9zM111.2 634.6h1.6v1.6h-1.6zM179.0 667.4h1.9v1.9h-1.9zM173.6 618.1h1.7v1.7h-1.7zM118.3 655.1h1.9v1.9h-1.9zM146.4 657.9h1.3v1.3h-1.3zM184.3 644.0h1.5v1.5h-1.5zM122.0 635.6h1.5v1.5h-1.5zM81.5 601.3h1.6v1.6h-1.6zM120.6 639.0h1.4v1.4h-1.4zM176.8 662.8h1.7v1.7h-1.7zM130.3 628.0h1.9v1.9h-1.9zM198.6 603.6h1.9v1.9h-1.9zM145.4 604.1h1.3v1.3h-1.3zM126.1 593.4h1.7v1.7h-1.7zM78.6 648.4h2.0v2.0h-2.0zM168.7 590.8h1.3v1.3h-1.3zM46.6 617.0h2.0v2.0h-2.0zM51.0 619.7h1.8v1.8h-1.8zM104.4 613.6h1.7v1.7h-1.7zM195.1 633.2h1.7v1.7h-1.7zM148.5 596.7h1.6v1.6h-1.6zM130.8 628.2h1.9v1.9h-1.9zM117.5 638.2h1.9v1.9h-1.9zM150.6 611.7h1.5v1.5h-1.5zM141.8 586.6h1.9v1.9h-1.9zM162.8 597.0h1.3v1.3h-1.3zM82.8 603.5h1.8v1.8h-1.8zM166.1 659.6h1.5v1.5h-1.5zM196.3 645.6h1.5v1.5h-1.5zM215.0 608.9h1.4v1.4h-1.4zM138.3 586.1h1.5v1.5h-1.5zM73.9 594.8h1.3v1.3h-1.3zM41.8 631.0h1.5v1.5h-1.5zM68.2 630.7h1.4v1.4h-1.4zM179.6 635.9h1.9v1.9h-1.9zM191.0 600.3h1.4v1.4h-1.4zM195.8 612.9h1.8v1.8h-1.8zM158.3 623.1h1.2v1.2h-1.2zM151.2 593.2h1.5v1.5h-1.5zM181.0 664.4h1.5v1.5h-1.5zM113.0 592.5h1.4v1.4h-1.4zM165.6 613.0h1.6v1.6h-1.6zM194.7 628.6h2.0v2.0h-2.0zM140.9 648.1h1.7v1.7h-1.7zM173.4 622.6h1.5v1.5h-1.5zM154.8 612.4h1.7v1.7h-1.7zM63.7 614.1h1.5v1.5h-1.5zM126.6 621.5h1.6v1.6h-1.6zM124.0 604.9h1.8v1.8h-1.8zM96.4 589.6h1.9v1.9h-1.9zM134.6 607.3h1.7v1.7h-1.7zM167.5 631.0h1.4v1.4h-1.4zM155.8 589.4h1.7v1.7h-1.7zM128.8 590.7h1.8v1.8h-1.8zM47.0 615.7h1.8v1.8h-1.8zM211.4 603.6h1.7v1.7h-1.7zM120.8 649.8h1.3v1.3h-1.3zM193.1 614.0h1.4v1.4h-1.4zM168.5 594.8h2.0v2.0h-2.0zM21.9 598.7h1.2v1.2h-1.2zM47.1 644.2h1.6v1.6h-1.6zM70.3 598.0h1.6v1.6h-1.6zM179.2 639.1h1.8v1.8h-1.8zM143.3 583.0h1.7v1.7h-1.7zM140.4 603.6h1.4v1.4h-1.4zM178.0 602.6h1.5v1.5h-1.5zM144.0 591.2h1.5v1.5h-1.5zM216.0 618.6h1.3v1.3h-1.3zM188.1 657.9h1.7v1.7h-1.7zM196.9 620.9h1.5v1.5h-1.5zM58.4 608.7h1.7v1.7h-1.7zM95.0 592.2h1.8v1.8h-1.8zM154.0 608.5h1.7v1.7h-1.7zM31.0 602.0h1.2v1.2h-1.2zM71.6 604.1h1.7v1.7h-1.7zM177.8 610.3h1.7v1.7h-1.7zM212.9 617.9h1.7v1.7h-1.7zM100.9 630.2h1.3v1.3h-1.3zM126.2 656.8h1.9v1.9h-1.9zM102.7 616.8h1.7v1.7h-1.7zM50.9 600.2h1.8v1.8h-1.8zM74.9 660.5h1.5v1.5h-1.5zM68.8 634.1h1.7v1.7h-1.7zM121.7 587.1h1.2v1.2h-1.2zM125.8 648.3h1.3v1.3h-1.3zM111.4 585.4h1.5v1.5h-1.5zM108.1 598.1h1.7v1.7h-1.7zM198.5 606.2h1.5v1.5h-1.5zM87.2 643.2h1.3v1.3h-1.3zM130.6 603.0h1.6v1.6h-1.6zM40.7 648.8h1.7v1.7h-1.7zM212.6 600.9h1.6v1.6h-1.6zM75.0 653.9h2.0v2.0h-2.0zM143.3 598.3h1.7v1.7h-1.7zM94.7 657.4h1.5v1.5h-1.5zM102.4 603.2h1.2v1.2h-1.2zM86.2 592.6h1.4v1.4h-1.4zM37.7 600.3h1.7v1.7h-1.7zM40.1 603.8h1.4v1.4h-1.4zM217.4 612.3h2.0v2.0h-2.0zM81.5 607.2h1.7v1.7h-1.7zM164.8 590.2h1.2v1.2h-1.2zM94.1 647.4h1.7v1.7h-1.7zM176.6 630.1h1.4v1.4h-1.4zM149.3 605.0h1.6v1.6h-1.6zM118.5 582.8h1.6v1.6h-1.6zM107.5 585.8h1.4v1.4h-1.4zM67.6 624.6h1.2v1.2h-1.2zM112.9 587.3h1.8v1.8h-1.8zM100.4 662.4h1.4v1.4h-1.4zM152.8 609.2h1.3v1.3h-1.3zM89.6 617.9h1.8v1.8h-1.8zM157.1 603.0h1.7v1.7h-1.7zM39.8 615.2h1.5v1.5h-1.5zM175.4 638.9h1.3v1.3h-1.3zM122.2 605.8h1.5v1.5h-1.5zM143.2 596.1h1.9v1.9h-1.9zM100.4 585.8h1.8v1.8h-1.8zM53.2 617.1h1.5v1.5h-1.5zM91.1 606.0h1.7v1.7h-1.7zM74.4 612.0h1.6v1.6h-1.6zM44.2 617.5h1.6v1.6h-1.6zM171.2 599.0h1.5v1.5h-1.5zM215.0 600.1h1.3v1.3h-1.3zM63.2 642.6h1.2v1.2h-1.2zM81.6 663.7h2.0v2.0h-2.0zM53.0 601.9h1.5v1.5h-1.5zM215.5 600.1h1.8v1.8h-1.8zM25.9 605.2h1.3v1.3h-1.3zM108.1 601.6h1.7v1.7h-1.7zM140.2 643.9h1.3v1.3h-1.3zM101.4 615.7h1.7v1.7h-1.7zM82.8 644.0h1.7v1.7h-1.7zM157.8 625.5h1.9v1.9h-1.9zM138.0 642.8h1.7v1.7h-1.7zM200.4 632.6h1.8v1.8h-1.8zM80.6 605.4h1.7v1.7h-1.7zM106.6 643.6h1.9v1.9h-1.9zM146.3 602.6h1.9v1.9h-1.9zM145.3 637.5h1.3v1.3h-1.3zM136.7 621.0h1.3v1.3h-1.3zM61.7 599.8h1.8v1.8h-1.8zM92.1 594.1h1.7v1.7h-1.7zM155.3 603.7h1.5v1.5h-1.5zM30.6 608.5h1.3v1.3h-1.3zM204.9 600.5h1.5v1.5h-1.5zM150.5 647.7h1.2v1.2h-1.2zM209.6 638.7h1.2v1.2h-1.2zM89.1 604.8h1.6v1.6h-1.6zM80.8 633.1h1.9v1.9h-1.9zM47.1 630.6h1.5v1.5h-1.5zM162.6 593.4h1.7v1.7h-1.7zM198.7 601.7h1.9v1.9h-1.9zM54.4 601.5h1.2v1.2h-1.2zM127.0 609.9h1.9v1.9h-1.9zM50.5 649.0h1.9v1.9h-1.9zM98.5 601.5h1.6v1.6h-1.6zM153.9 646.8h1.8v1.8h-1.8zM186.5 627.2h2.0v2.0h-2.0zM127.2 608.2h1.8v1.8h-1.8zM100.7 593.3h1.5v1.5h-1.5zM141.7 632.7h1.3v1.3h-1.3zM58.9 633.1h2.0v2.0h-2.0zM64.4 594.9h1.8v1.8h-1.8zM145.9 639.2h1.7v1.7h-1.7zM52.0 614.3h1.4v1.4h-1.4zM136.6 600.8h1.6v1.6h-1.6zM216.0 626.1h1.6v1.6h-1.6zM114.7 653.6h1.7v1.7h-1.7zM70.5 619.3h1.8v1.8h-1.8zM225.2 604.4h1.9v1.9h-1.9zM146.4 617.4h1.9v1.9h-1.9zM36.7 603.2h1.3v1.3h-1.3zM195.1 600.2h1.4v1.4h-1.4zM130.4 604.7h1.5v1.5h-1.5zM114.8 632.1h1.5v1.5h-1.5zM187.5 595.9h1.3v1.3h-1.3zM58.3 604.7h1.4v1.4h-1.4zM165.4 665.1h1.7v1.7h-1.7zM174.6 628.2h1.9v1.9h-1.9zM142.6 639.6h1.4v1.4h-1.4zM161.2 594.5h1.4v1.4h-1.4zM187.7 658.5h1.3v1.3h-1.3zM108.4 583.9h1.3v1.3h-1.3zM116.9 625.2h1.8v1.8h-1.8zM154.4 592.2h1.5v1.5h-1.5zM87.5 591.0h1.8v1.8h-1.8zM208.3 616.6h1.9v1.9h-1.9zM45.8 659.2h1.5v1.5h-1.5zM204.7 618.5h1.7v1.7h-1.7zM108.4 608.8h1.8v1.8h-1.8zM108.4 584.5h1.4v1.4h-1.4zM187.6 628.0h1.9v1.9h-1.9zM27.8 626.8h1.7v1.7h-1.7zM55.4 639.6h1.9v1.9h-1.9zM63.8 605.3h1.9v1.9h-1.9zM143.1 587.3h1.8v1.8h-1.8zM202.4 626.7h1.9v1.9h-1.9zM139.0 627.6h1.6v1.6h-1.6zM163.6 619.0h1.2v1.2h-1.2zM151.1 600.3h1.2v1.2h-1.2zM142.6 604.2h1.5v1.5h-1.5zM130.4 608.5h2.0v2.0h-2.0zM134.8 583.7h1.4v1.4h-1.4zM143.2 596.3h1.8v1.8h-1.8zM143.7 582.9h1.5v1.5h-1.5zM123.4 594.8h2.0v2.0h-2.0zM97.2 590.7h1.4v1.4h-1.4zM149.6 623.5h1.8v1.8h-1.8zM123.3 611.5h1.7v1.7h-1.7zM63.9 665.8h1.8v1.8h-1.8zM19.9 605.0h1.6v1.6h-1.6zM117.5 582.5h1.7v1.7h-1.7zM186.2 595.2h1.4v1.4h-1.4zM182.9 623.5h1.9v1.9h-1.9zM162.6 592.5h1.7v1.7h-1.7zM135.8 593.4h1.8v1.8h-1.8zM120.6 584.5h1.9v1.9h-1.9zM188.9 600.5h1.9v1.9h-1.9zM142.0 585.6h1.4v1.4h-1.4zM148.8 628.2h1.7v1.7h-1.7zM166.5 590.2h1.9v1.9h-1.9zM148.6 587.8h1.9v1.9h-1.9zM97.0 598.7h1.4v1.4h-1.4zM205.2 597.5h1.3v1.3h-1.3zM172.6 602.0h1.3v1.3h-1.3zM99.3 601.7h1.4v1.4h-1.4zM90.2 661.8h1.9v1.9h-1.9zM86.4 655.5h1.2v1.2h-1.2zM110.1 638.6h1.4v1.4h-1.4zM127.1 593.8h1.8v1.8h-1.8zM158.2 596.8h1.3v1.3h-1.3zM89.6 610.4h1.2v1.2h-1.2zM73.6 617.9h1.9v1.9h-1.9zM73.7 612.5h1.5v1.5h-1.5zM114.6 618.2h2.0v2.0h-2.0zM90.3 623.5h1.8v1.8h-1.8zM153.0 624.3h1.4v1.4h-1.4zM101.8 599.9h1.7v1.7h-1.7zM188.8 598.1h1.6v1.6h-1.6zM187.1 601.8h1.9v1.9h-1.9zM20.1 604.7h1.5v1.5h-1.5zM161.7 613.3h1.2v1.2h-1.2zM157.8 625.7h1.5v1.5h-1.5zM146.0 619.5h1.8v1.8h-1.8zM34.7 642.0h1.8v1.8h-1.8zM165.7 655.6h1.2v1.2h-1.2zM155.9 662.9h1.4v1.4h-1.4zM100.1 602.9h1.3v1.3h-1.3zM192.8 596.7h1.8v1.8h-1.8zM64.6 625.7h1.8v1.8h-1.8zM184.1 663.6h1.5v1.5h-1.5zM148.4 594.9h1.4v1.4h-1.4zM18.5 630.2h1.9v1.9h-1.9zM86.0 593.8h1.6v1.6h-1.6zM49.6 629.8h1.4v1.4h-1.4zM98.3 585.8h2.0v2.0h-2.0zM118.0 637.3h1.9v1.9h-1.9zM184.8 639.9h1.6v1.6h-1.6zM167.8 590.1h1.4v1.4h-1.4zM80.7 637.7h1.7v1.7h-1.7zM129.4 616.7h2.0v2.0h-2.0zM184.6 629.1h1.7v1.7h-1.7zM200.7 654.0h1.6v1.6h-1.6zM62.2 637.2h1.9v1.9h-1.9zM55.5 620.7h1.3v1.3h-1.3zM95.4 588.0h1.7v1.7h-1.7zM209.3 655.0h1.3v1.3h-1.3zM177.7 596.9h1.3v1.3h-1.3zM114.3 591.3h1.8v1.8h-1.8zM197.2 622.5h1.4v1.4h-1.4zM133.7 593.8h1.6v1.6h-1.6zM214.6 619.1h1.4v1.4h-1.4zM59.8 605.3h1.2v1.2h-1.2zM31.8 619.4h1.2v1.2h-1.2zM108.7 609.4h1.5v1.5h-1.5zM156.4 600.6h1.4v1.4h-1.4zM149.6 605.7h1.8v1.8h-1.8zM86.5 649.8h1.8v1.8h-1.8zM183.1 650.3h1.9v1.9h-1.9zM107.1 632.7h1.8v1.8h-1.8zM101.0 617.1h1.3v1.3h-1.3zM111.0 588.9h1.3v1.3h-1.3zM141.3 598.3h1.7v1.7h-1.7zM166.6 629.9h1.9v1.9h-1.9zM160.2 603.2h1.8v1.8h-1.8zM34.5 606.7h1.3v1.3h-1.3zM155.2 600.3h1.8v1.8h-1.8zM59.5 633.7h1.2v1.2h-1.2zM177.0 648.5h1.2v1.2h-1.2zM186.0 608.3h1.9v1.9h-1.9zM85.4 607.8h1.7v1.7h-1.7zM134.3 609.0h1.2v1.2h-1.2zM213.7 616.7h1.4v1.4h-1.4zM182.0 597.7h1.6v1.6h-1.6zM136.4 606.0h1.3v1.3h-1.3zM156.2 616.1h1.5v1.5h-1.5zM112.2 601.5h1.6v1.6h-1.6zM200.5 623.9h1.4v1.4h-1.4zM95.9 587.0h1.3v1.3h-1.3zM69.8 601.8h1.5v1.5h-1.5zM76.9 657.5h1.6v1.6h-1.6zM65.7 620.8h1.7v1.7h-1.7zM106.3 590.4h1.9v1.9h-1.9zM82.1 603.4h1.9v1.9h-1.9zM87.6 628.8h1.5v1.5h-1.5zM204.9 629.4h2.0v2.0h-2.0zM147.1 591.7h1.3v1.3h-1.3zM160.1 588.1h2.0v2.0h-2.0zM39.1 621.1h1.3v1.3h-1.3zM204.2 644.3h1.9v1.9h-1.9zM26.0 600.9h1.8v1.8h-1.8zM165.9 600.3h1.4v1.4h-1.4zM115.7 585.5h1.4v1.4h-1.4zM85.6 607.9h1.9v1.9h-1.9zM108.8 642.8h1.2v1.2h-1.2zM170.2 613.8h1.6v1.6h-1.6zM171.7 646.2h1.8v1.8h-1.8zM131.0 585.2h1.7v1.7h-1.7zM198.1 596.8h1.9v1.9h-1.9zM187.2 629.5h1.8v1.8h-1.8zM69.1 609.7h1.4v1.4h-1.4zM85.0 596.5h1.7v1.7h-1.7zM120.2 593.9h1.9v1.9h-1.9zM104.7 627.8h1.3v1.3h-1.3zM96.4 589.5h1.9v1.9h-1.9zM63.3 612.0h2.0v2.0h-2.0zM78.1 600.2h1.9v1.9h-1.9zM205.0 611.7h1.7v1.7h-1.7zM157.1 595.3h1.2v1.2h-1.2zM104.5 587.4h1.8v1.8h-1.8zM102.8 621.9h1.6v1.6h-1.6zM60.6 644.5h1.8v1.8h-1.8zM106.0 590.2h1.9v1.9h-1.9zM81.1 593.3h1.3v1.3h-1.3zM77.3 595.1h1.7v1.7h-1.7zM119.3 635.6h1.6v1.6h-1.6zM64.9 601.8h1.8v1.8h-1.8zM174.8 625.5h1.2v1.2h-1.2zM64.4 610.5h1.4v1.4h-1.4zM51.0 650.1h1.5v1.5h-1.5zM46.4 647.0h1.9v1.9h-1.9zM151.0 586.7h1.9v1.9h-1.9zM170.8 598.8h1.9v1.9h-1.9zM146.8 586.4h1.2v1.2h-1.2zM187.0 604.6h1.4v1.4h-1.4zM57.8 596.0h1.7v1.7h-1.7zM25.1 602.3h1.8v1.8h-1.8zM119.4 589.6h1.9v1.9h-1.9zM195.4 630.0h1.7v1.7h-1.7zM39.9 606.5h1.5v1.5h-1.5zM195.4 617.4h1.9v1.9h-1.9zM195.9 654.7h1.8v1.8h-1.8zM69.2 594.7h1.5v1.5h-1.5zM40.1 645.8h1.6v1.6h-1.6zM104.4 600.7h1.2v1.2h-1.2zM145.9 611.6h1.7v1.7h-1.7zM45.8 618.0h1.2v1.2h-1.2zM67.3 605.8h1.4v1.4h-1.4zM162.7 590.1h1.7v1.7h-1.7zM78.0 602.6h1.7v1.7h-1.7zM197.1 599.8h1.5v1.5h-1.5zM48.0 615.9h1.3v1.3h-1.3zM180.7 612.2h1.6v1.6h-1.6zM154.0 585.6h1.8v1.8h-1.8zM108.9 597.5h1.9v1.9h-1.9zM141.9 607.0h1.8v1.8h-1.8zM21.4 594.9h1.3v1.3h-1.3zM85.0 631.5h1.4v1.4h-1.4zM40.6 632.4h1.3v1.3h-1.3zM144.2 616.7h1.9v1.9h-1.9zM110.2 640.3h1.7v1.7h-1.7zM59.0 602.4h1.4v1.4h-1.4zM203.0 629.8h1.7v1.7h-1.7zM130.9 598.0h1.2v1.2h-1.2zM42.1 657.1h2.0v2.0h-2.0zM220.7 596.2h1.6v1.6h-1.6zM54.6 650.6h1.5v1.5h-1.5zM109.0 632.8h1.8v1.8h-1.8zM147.8 641.4h1.8v1.8h-1.8zM70.7 613.1h1.9v1.9h-1.9zM91.6 589.8h1.2v1.2h-1.2zM125.9 593.9h1.3v1.3h-1.3zM141.7 586.9h1.3v1.3h-1.3zM161.9 601.6h1.2v1.2h-1.2zM83.7 610.1h1.9v1.9h-1.9zM161.1 588.2h1.5v1.5h-1.5zM77.8 600.2h1.8v1.8h-1.8zM143.5 605.6h1.8v1.8h-1.8zM190.6 638.5h1.7v1.7h-1.7zM33.8 599.3h1.8v1.8h-1.8zM88.9 591.5h1.5v1.5h-1.5zM104.1 611.7h1.6v1.6h-1.6zM122.7 585.1h1.6v1.6h-1.6zM170.1 651.9h1.4v1.4h-1.4zM134.2 620.1h1.6v1.6h-1.6zM135.8 597.6h1.4v1.4h-1.4zM163.5 591.7h2.0v2.0h-2.0zM73.9 602.7h2.0v2.0h-2.0zM117.3 596.5h1.7v1.7h-1.7zM64.8 644.9h1.8v1.8h-1.8zM216.7 608.8h1.3v1.3h-1.3zM226.9 659.6h1.5v1.5h-1.5zM174.8 616.0h1.4v1.4h-1.4zM58.5 662.1h1.6v1.6h-1.6zM61.2 650.9h1.6v1.6h-1.6zM106.8 597.1h1.5v1.5h-1.5zM168.2 603.8h1.3v1.3h-1.3zM183.7 596.6h1.6v1.6h-1.6zM201.0 608.3h2.0v2.0h-2.0zM70.1 600.8h1.2v1.2h-1.2zM80.7 612.0h1.8v1.8h-1.8zM107.1 585.9h1.9v1.9h-1.9zM129.2 604.1h1.7v1.7h-1.7zM70.3 606.1h1.9v1.9h-1.9zM144.8 585.1h1.5v1.5h-1.5zM52.3 626.6h1.5v1.5h-1.5zM130.2 606.2h1.3v1.3h-1.3zM180.6 623.9h1.7v1.7h-1.7zM47.5 616.3h1.5v1.5h-1.5zM114.6 617.5h1.9v1.9h-1.9zM116.5 589.1h2.0v2.0h-2.0zM147.2 652.8h1.9v1.9h-1.9zM168.3 645.6h1.4v1.4h-1.4zM84.0 600.4h1.4v1.4h-1.4zM103.8 637.3h1.4v1.4h-1.4zM107.6 584.9h1.6v1.6h-1.6zM85.2 631.3h1.9v1.9h-1.9zM22.9 600.6h1.7v1.7h-1.7zM102.4 592.2h2.0v2.0h-2.0zM180.6 612.8h1.2v1.2h-1.2zM113.0 602.9h1.8v1.8h-1.8zM65.8 632.2h1.3v1.3h-1.3zM71.9 608.9h1.7v1.7h-1.7zM78.3 593.0h1.4v1.4h-1.4zM191.5 611.7h1.6v1.6h-1.6zM172.1 605.8h1.6v1.6h-1.6zM80.7 593.4h1.3v1.3h-1.3zM135.1 583.7h1.9v1.9h-1.9zM102.3 603.3h1.8v1.8h-1.8zM179.5 608.0h1.8v1.8h-1.8zM49.4 606.2h1.5v1.5h-1.5zM175.1 593.3h1.8v1.8h-1.8zM136.1 629.0h1.9v1.9h-1.9zM151.4 639.7h1.6v1.6h-1.6zM92.5 620.6h1.5v1.5h-1.5zM202.9 607.6h1.2v1.2h-1.2zM32.0 620.3h1.8v1.8h-1.8zM44.9 605.8h1.9v1.9h-1.9zM148.9 638.7h2.0v2.0h-2.0zM173.4 591.9h1.4v1.4h-1.4zM143.5 624.9h1.7v1.7h-1.7zM173.4 630.2h1.9v1.9h-1.9zM217.3 604.3h1.6v1.6h-1.6zM38.0 618.2h1.3v1.3h-1.3zM34.2 608.4h1.3v1.3h-1.3zM160.0 599.8h1.8v1.8h-1.8zM53.1 606.7h1.8v1.8h-1.8zM50.9 644.8h1.3v1.3h-1.3zM164.6 611.9h1.7v1.7h-1.7zM172.3 595.4h1.4v1.4h-1.4zM27.7 597.6h1.8v1.8h-1.8zM134.4 608.7h1.8v1.8h-1.8zM29.7 607.0h1.6v1.6h-1.6zM139.9 616.4h1.7v1.7h-1.7zM79.7 593.8h1.2v1.2h-1.2zM194.9 600.5h1.2v1.2h-1.2zM120.9 643.0h1.8v1.8h-1.8zM122.2 584.4h1.2v1.2h-1.2zM132.6 599.7h1.2v1.2h-1.2zM191.1 649.9h1.4v1.4h-1.4zM62.2 644.2h1.6v1.6h-1.6zM48.7 641.9h1.3v1.3h-1.3zM67.4 599.5h1.3v1.3h-1.3zM34.9 641.2h1.3v1.3h-1.3zM171.8 614.0h1.3v1.3h-1.3zM81.1 620.0h1.5v1.5h-1.5zM34.8 638.3h1.8v1.8h-1.8zM25.2 604.3h1.7v1.7h-1.7zM133.9 618.2h1.7v1.7h-1.7zM40.4 634.4h1.9v1.9h-1.9zM46.5 597.8h1.3v1.3h-1.3zM67.8 614.5h1.3v1.3h-1.3zM135.7 603.0h1.8v1.8h-1.8zM177.9 611.2h1.3v1.3h-1.3zM199.5 651.5h1.8v1.8h-1.8zM159.7 630.5h1.8v1.8h-1.8zM40.2 650.9h1.7v1.7h-1.7zM127.3 594.9h1.6v1.6h-1.6zM79.4 627.8h1.8v1.8h-1.8zM174.7 606.7h1.7v1.7h-1.7zM138.0 596.0h1.4v1.4h-1.4zM148.9 584.3h1.7v1.7h-1.7zM65.1 617.7h1.4v1.4h-1.4zM108.1 644.3h1.7v1.7h-1.7zM41.9 616.1h1.6v1.6h-1.6zM162.5 655.7h1.3v1.3h-1.3zM169.2 598.8h1.6v1.6h-1.6zM86.2 594.0h1.6v1.6h-1.6zM160.3 602.0h1.7v1.7h-1.7zM48.5 598.2h1.4v1.4h-1.4zM44.2 650.9h2.0v2.0h-2.0zM88.4 663.2h1.9v1.9h-1.9zM206.2 619.8h1.6v1.6h-1.6zM195.7 612.8h1.4v1.4h-1.4zM171.5 609.2h1.4v1.4h-1.4zM177.6 595.3h1.7v1.7h-1.7zM182.1 603.4h1.5v1.5h-1.5zM162.1 598.3h2.0v2.0h-2.0zM160.9 588.5h2.0v2.0h-2.0zM35.5 627.2h1.6v1.6h-1.6zM69.5 629.8h1.5v1.5h-1.5zM98.8 596.0h1.9v1.9h-1.9zM60.8 632.6h1.4v1.4h-1.4zM137.8 585.6h1.9v1.9h-1.9zM118.4 619.1h1.6v1.6h-1.6zM225.7 597.0h1.7v1.7h-1.7zM161.2 620.7h1.9v1.9h-1.9zM129.5 605.1h1.4v1.4h-1.4zM82.7 609.3h1.5v1.5h-1.5zM84.5 609.7h1.7v1.7h-1.7zM56.9 601.5h1.5v1.5h-1.5zM93.3 627.0h1.3v1.3h-1.3zM116.1 583.5h2.0v2.0h-2.0zM155.4 597.6h1.8v1.8h-1.8zM43.8 598.7h1.6v1.6h-1.6zM117.6 611.7h1.5v1.5h-1.5zM111.4 586.5h1.3v1.3h-1.3zM182.0 614.0h1.5v1.5h-1.5zM163.1 622.6h1.9v1.9h-1.9zM105.6 616.5h1.7v1.7h-1.7zM131.6 595.7h1.8v1.8h-1.8zM155.0 615.5h1.9v1.9h-1.9zM55.5 651.5h1.5v1.5h-1.5zM167.0 604.4h1.4v1.4h-1.4zM67.6 620.3h1.4v1.4h-1.4zM109.5 589.5h1.2v1.2h-1.2zM172.1 629.0h1.9v1.9h-1.9zM189.7 616.9h2.0v2.0h-2.0zM91.4 641.2h1.8v1.8h-1.8zM55.7 624.9h1.8v1.8h-1.8zM54.1 605.6h1.7v1.7h-1.7zM160.5 628.4h1.7v1.7h-1.7zM129.9 598.6h1.5v1.5h-1.5zM180.4 606.0h1.6v1.6h-1.6zM173.4 615.9h1.4v1.4h-1.4zM220.5 602.2h1.2v1.2h-1.2zM196.8 604.5h1.6v1.6h-1.6zM28.5 619.0h1.9v1.9h-1.9zM136.6 591.6h1.4v1.4h-1.4zM172.3 596.5h1.4v1.4h-1.4zM70.4 606.4h1.7v1.7h-1.7zM129.8 592.1h1.8v1.8h-1.8zM187.9 609.8h1.7v1.7h-1.7zM166.6 643.2h1.7v1.7h-1.7zM62.1 599.5h1.6v1.6h-1.6zM157.2 629.6h1.3v1.3h-1.3zM119.4 581.6h1.6v1.6h-1.6zM124.2 600.0h1.8v1.8h-1.8zM91.6 596.0h1.7v1.7h-1.7zM77.7 656.9h1.6v1.6h-1.6zM115.3 604.7h1.5v1.5h-1.5zM195.7 649.9h1.5v1.5h-1.5zM205.9 608.3h1.5v1.5h-1.5zM178.0 624.0h1.2v1.2h-1.2zM164.9 604.5h1.9v1.9h-1.9zM155.3 606.9h1.2v1.2h-1.2zM99.7 590.7h1.9v1.9h-1.9zM124.6 643.8h1.5v1.5h-1.5zM117.0 622.6h1.3v1.3h-1.3zM129.6 609.6h1.5v1.5h-1.5zM63.7 657.6h1.4v1.4h-1.4zM87.6 617.7h1.9v1.9h-1.9zM171.8 597.5h1.9v1.9h-1.9zM173.9 636.4h1.9v1.9h-1.9zM111.5 622.1h1.7v1.7h-1.7zM115.1 585.3h1.3v1.3h-1.3zM172.9 617.8h1.3v1.3h-1.3zM167.3 608.2h1.9v1.9h-1.9zM26.9 597.4h1.7v1.7h-1.7z"/>
<path fill="#3030ff" d="M162.3 590.3h1.4v1.4h-1.4zM136.9 597.4h1.3v1.3h-1.3zM236.0 639.5h1.5v1.5h-1.5zM139.3 599.7h1.9v1.9h-1.9zM97.0 596.3h1.9v1.9h-1.9zM217.4 604.3h1.9v1.9h-1.9zM162.1 654.7h1.2v1.2h-1.2zM196.3 619.8h1.7v1.7h-1.7zM149.8 607.9h1.8v1.8h-1.8zM54.0 624.4h1.4v1.4h-1.4zM124.0 639.5h1.7v1.7h-1.7zM88.5 609.3h1.4v1.4h-1.4zM123.0 636.5h1.3v1.3h-1.3zM110.3 613.6h1.5v1.5h-1.5zM98.8 605.3h1.8v1.8h-1.8zM84.7 607.2h1.4v1.4h-1.4zM172.6 609.5h1.6v1.6h-1.6zM60.7 643.4h1.3v1.3h-1.3zM125.4 591.6h1.6v1.6h-1.6zM186.1 597.3h1.2v1.2h-1.2zM195.3 599.4h1.9v1.9h-1.9zM30.5 613.0h1.4v1.4h-1.4zM144.3 598.1h1.5v1.5h-1.5zM29.3 615.3h1.4v1.4h-1.4zM127.2 593.8h1.4v1.4h-1.4zM59.1 609.2h1.3v1.3h-1.3zM192.9 622.6h1.9v1.9h-1.9zM70.7 611.7h1.9v1.9h-1.9zM24.9 608.0h1.6v1.6h-1.6zM49.0 597.0h2.0v2.0h-2.0zM69.5 602.8h2.0v2.0h-2.0zM85.4 589.5h1.7v1.7h-1.7zM195.7 615.3h1.7v1.7h-1.7zM95.9 617.4h1.9v1.9h-1.9zM201.3 623.9h1.2v1.2h-1.2zM52.9 617.6h1.3v1.3h-1.3zM141.0 592.0h1.4v1.4h-1.4zM105.1 595.0h1.6v1.6h-1.6zM122.2 607.3h1.3v1.3h-1.3zM94.5 592.7h1.4v1.4h-1.4zM169.2 628.8h1.7v1.7h-1.7zM164.7 601.4h1.4v1.4h-1.4zM146.4 615.5h1.2v1.2h-1.2zM164.0 603.6h1.9v1.9h-1.9zM72.3 656.9h1.5v1.5h-1.5zM65.2 620.7h1.4v1.4h-1.4zM101.2 614.4h1.5v1.5h-1.5zM66.4 639.8h1.3v1.3h-1.3zM190.8 623.3h2.0v2.0h-2.0zM168.1 633.2h1.8v1.8h-1.8zM67.1 613.7h1.3v1.3h-1.3zM111.4 617.4h1.5v1.5h-1.5zM126.4 582.9h1.9v1.9h-1.9zM142.0 586.7h1.6v1.6h-1.6zM82.4 636.9h1.4v1.4h-1.4zM175.2 663.3h1.8v1.8h-1.8zM102.1 645.1h1.2v1.2h-1.2zM113.8 601.0h1.4v1.4h-1.4zM138.8 617.4h1.8v1.8h-1.8zM139.7 585.2h1.5v1.5h-1.5zM101.3 664.7h1.8v1.8h-1.8zM68.7 637.0h1.5v1.5h-1.5zM111.6 588.4h1.5v1.5h-1.5zM46.7 601.2h1.2v1.2h-1.2zM120.0 581.2h1.6v1.6h-1.6zM130.0 648.4h1.8v1.8h-1.8zM139.6 641.4h1.5v1.5h-1.5zM149.0 591.4h2.0v2.0h-2.0zM105.9 622.5h1.9v1.9h-1.9zM106.4 604.5h1.7v1.7h-1.7zM86.2 589.7h1.8v1.8h-1.8zM61.3 643.0h1.8v1.8h-1.8zM66.7 622.0h1.8v1.8h-1.8zM151.5 640.0h1.3v1.3h-1.3zM102.5 632.4h1.3v1.3h-1.3zM161.1 653.2h1.8v1.8h-1.8zM50.0 635.5h1.6v1.6h-1.6zM105.3 602.8h1.4v1.4h-1.4zM127.2 582.3h1.2v1.2h-1.2zM150.2 620.6h1.3v1.3h-1.3zM176.0 642.1h1.5v1.5h-1.5zM97.6 592.6h1.8v1.8h-1.8zM99.0 621.0h1.9v1.9h-1.9zM181.3 638.1h1.3v1.3h-1.3zM96.0 592.4h1.3v1.3h-1.3zM178.0 603.7h1.7v1.7h-1.7zM129.5 590.7h1.9v1.9h-1.9zM133.5 625.5h1.9v1.9h-1.9zM87.3 598.2h1.8v1.8h-1.8zM48.5 604.6h1.6v1.6h-1.6zM123.0 592.5h2.0v2.0h-2.0zM168.6 593.8h1.4v1.4h-1.4zM29.8 638.2h1.4v1.4h-1.4zM83.2 613.6h1.7v1.7h-1.7zM109.3 583.4h1.9v1.9h-1.9zM120.8 585.5h1.8v1.8h-1.8zM101.5 595.4h1.6v1.6h-1.6zM77.6 617.4h1.7v1.7h-1.7zM120.6 617.0h1.8v1.8h-1.8zM209.0 616.3h1.8v1.8h-1.8zM162.1 626.2h1.5v1.5h-1.5zM193.8 620.8h1.5v1.5h-1.5zM153.9 630.3h1.7v1.7h-1.7zM55.4 606.1h1.7v1.7h-1.7zM119.0 630.7h1.4v1.4h-1.4zM119.5 586.1h1.5v1.5h-1.5zM26.3 595.5h1.4v1.4h-1.4zM137.5 645.1h1.6v1.6h-1.6zM54.6 620.1h1.2v1.2h-1.2zM145.1 607.9h1.3v1.3h-1.3zM200.6 633.0h1.8v1.8h-1.8zM52.5 615.2h1.6v1.6h-1.6zM18.1 662.8h2.0v2.0h-2.0zM142.7 587.4h1.9v1.9h-1.9zM76.1 612.3h2.0v2.0h-2.0zM134.0 656.6h1.8v1.8h-1.8zM100.3 606.3h1.4v1.4h-1.4zM29.1 624.6h1.8v1.8h-1.8zM221.2 665.9h1.5v1.5h-1.5zM65.4 601.9h1.7v1.7h-1.7zM109.9 601.8h1.5v1.5h-1.5zM49.3 606.1h2.0v2.0h-2.0zM97.4 624.7h1.3v1.3h-1.3zM169.1 596.1h1.8v1.8h-1.8zM189.8 632.8h1.8v1.8h-1.8zM179.3 609.0h1.7v1.7h-1.7zM124.9 582.2h2.0v2.0h-2.0zM189.1 604.9h1.7v1.7h-1.7zM133.3 634.1h1.7v1.7h-1.7zM31.2 615.4h1.7v1.7h-1.7zM120.5 596.0h1.9v1.9h-1.9zM107.9 626.9h1.6v1.6h-1.6zM84.9 605.9h1.4v1.4h-1.4zM101.1 607.9h1.9v1.9h-1.9zM103.2 599.7h1.8v1.8h-1.8zM154.3 594.5h1.3v1.3h-1.3zM120.5 592.6h1.5v1.5h-1.5zM121.7 596.4h1.3v1.3h-1.3zM181.5 599.8h1.2v1.2h-1.2zM169.2 598.9h1.4v1.4h-1.4zM214.6 602.9h1.2v1.2h-1.2zM38.9 612.2h1.5v1.5h-1.5zM60.3 624.5h1.7v1.7h-1.7zM51.9 601.3h1.9v1.9h-1.9zM96.1 597.8h1.6v1.6h-1.6zM163.3 589.3h1.6v1.6h-1.6zM74.0 598.1h1.4v1.4h-1.4zM116.6 599.6h1.4v1.4h-1.4zM138.8 592.7h1.8v1.8h-1.8zM108.6 585.0h1.5v1.5h-1.5zM130.6 598.2h1.8v1.8h-1.8zM79.2 648.3h1.3v1.3h-1.3zM80.5 613.3h1.6v1.6h-1.6zM44.9 629.4h1.2v1.2h-1.2zM122.5 583.7h1.2v1.2h-1.2zM208.7 630.4h1.3v1.3h-1.3zM103.5 590.0h1.7v1.7h-1.7zM176.2 606.1h1.4v1.4h-1.4zM159.4 589.4h1.7v1.7h-1.7zM119.4 607.5h1.8v1.8h-1.8zM96.9 586.8h1.7v1.7h-1.7zM102.0 643.6h1.8v1.8h-1.8zM185.2 595.3h1.4v1.4h-1.4zM45.9 619.8h1.5v1.5h-1.5zM195.8 602.9h1.2v1.2h-1.2zM120.4 589.5h1.3v1.3h-1.3zM166.7 602.8h1.5v1.5h-1.5zM29.2 623.0h1.2v1.2h-1.2zM81.8 599.3h1.4v1.4h-1.4zM165.6 596.0h1.6v1.6h-1.6zM190.0 632.3h1.8v1.8h-1.8zM59.4 645.7h1.7v1.7h-1.7zM122.2 591.3h1.5v1.5h-1.5zM152.9 629.6h1.7v1.7h-1.7zM132.9 592.7h1.4v1.4h-1.4zM176.3 637.5h1.7v1.7h-1.7zM165.1 630.8h1.5v1.5h-1.5zM16.8 593.8h1.7v1.7h-1.7zM145.6 645.8h1.9v1.9h-1.9zM61.0 658.4h1.9v1.9h-1.9zM36.3 613.2h1.7v1.7h-1.7zM170.2 605.0h1.8v1.8h-1.8zM90.8 601.0h1.3v1.3h-1.3zM190.4 636.6h1.3v1.3h-1.3zM91.9 599.5h1.9v1.9h-1.9zM72.4 593.9h1.8v1.8h-1.8zM135.5 619.4h1.9v1.9h-1.9zM98.9 613.9h1.5v1.5h-1.5zM105.6 603.2h1.7v1.7h-1.7zM85.1 637.1h1.9v1.9h-1.9zM228.7 653.3h1.9v1.9h-1.9zM87.2 591.2h1.5v1.5h-1.5zM163.0 627.6h1.8v1.8h-1.8zM135.7 595.7h1.9v1.9h-1.9zM194.6 645.0h1.5v1.5h-1.5zM147.7 584.2h1.6v1.6h-1.6zM125.2 581.5h2.0v2.0h-2.0zM104.6 588.4h1.5v1.5h-1.5zM141.9 596.3h1.9v1.9h-1.9zM173.0 611.4h1.4v1.4h-1.4zM45.7 607.3h1.9v1.9h-1.9zM55.1 627.5h1.4v1.4h-1.4zM107.9 588.5h1.2v1.2h-1.2zM68.1 597.7h1.5v1.5h-1.5zM154.5 586.4h1.7v1.7h-1.7zM24.0 612.5h1.9v1.9h-1.9zM181.8 603.2h1.9v1.9h-1.9zM186.3 651.1h1.5v1.5h-1.5zM132.0 615.6h1.5v1.5h-1.5zM198.8 621.2h1.4v1.4h-1.4zM41.4 640.6h1.9v1.9h-1.9zM157.9 592.2h1.7v1.7h-1.7zM147.8 611.6h1.5v1.5h-1.5zM47.4 605.7h1.5v1.5h-1.5zM191.5 630.6h1.3v1.3h-1.3zM84.4 608.5h1.2v1.2h-1.2zM158.2 645.0h1.4v1.4h-1.4zM205.3 644.2h1.4v1.4h-1.4zM72.0 658.8h1.8v1.8h-1.8zM175.1 646.1h2.0v2.0h-2.0zM75.9 594.4h1.8v1.8h-1.8zM155.8 604.2h1.9v1.9h-1.9zM177.7 617.5h1.6v1.6h-1.6zM182.9 620.2h1.4v1.4h-1.4zM41.1 638.6h1.7v1.7h-1.7zM118.3 581.6h1.7v1.7h-1.7zM114.5 599.7h1.5v1.5h-1.5zM89.8 594.9h1.9v1.9h-1.9zM47.7 607.6h1.6v1.6h-1.6zM171.7 596.4h1.3v1.3h-1.3zM70.7 633.9h1.8v1.8h-1.8zM182.3 605.5h1.4v1.4h-1.4zM111.9 633.1h1.8v1.8h-1.8z"/>
<path fill="#a020c0" d="M114.3 595.3h1.3v1.3h-1.3zM211.8 611.4h1.9v1.9h-1.9zM155.5 607.1h2.0v2.0h-2.0zM122.6 635.4h1.7v1.7h-1.7zM140.2 611.6h1.8v1.8h-1.8zM106.2 600.2h1.9v1.9h-1.9zM174.6 632.8h1.8v1.8h-1.8zM86.5 590.5h1.5v1.5h-1.5zM145.6 616.0h1.5v1.5h-1.5zM172.9 595.6h1.4v1.4h-1.4zM139.3 588.9h1.9v1.9h-1.9zM174.7 595.4h1.9v1.9h-1.9zM70.1 610.5h1.7v1.7h-1.7zM144.8 624.9h1.8v1.8h-1.8zM60.6 611.2h1.8v1.8h-1.8zM62.7 640.6h1.4v1.4h-1.4zM40.1 641.3h1.7v1.7h-1.7zM137.5 660.5h1.9v1.9h-1.9zM136.9 589.9h1.6v1.6h-1.6zM153.9 596.0h1.5v1.5h-1.5zM48.0 610.9h1.3v1.3h-1.3zM130.1 653.8h1.4v1.4h-1.4zM206.7 613.9h1.6v1.6h-1.6zM213.4 606.8h1.7v1.7h-1.7zM108.6 604.2h2.0v2.0h-2.0zM188.9 595.6h1.3v1.3h-1.3zM100.1 590.6h1.4v1.4h-1.4zM83.0 645.7h1.7v1.7h-1.7zM168.3 631.0h1.9v1.9h-1.9zM120.2 612.0h1.8v1.8h-1.8zM159.9 597.4h1.7v1.7h-1.7zM26.0 622.1h1.8v1.8h-1.8zM124.6 600.8h1.6v1.6h-1.6zM121.5 606.4h1.5v1.5h-1.5zM116.5 583.8h1.3v1.3h-1.3zM222.6 607.5h1.5v1.5h-1.5zM79.5 596.2h1.5v1.5h-1.5zM64.2 647.6h1.6v1.6h-1.6zM59.1 613.2h1.9v1.9h-1.9zM51.8 611.2h1.3v1.3h-1.3zM67.6 619.3h1.9v1.9h-1.9zM135.7 604.4h1.5v1.5h-1.5zM65.4 597.0h1.4v1.4h-1.4zM137.6 586.9h2.0v2.0h-2.0zM146.5 589.9h1.8v1.8h-1.8zM101.5 635.5h1.3v1.3h-1.3zM77.2 634.7h1.4v1.4h-1.4zM123.0 589.6h1.8v1.8h-1.8zM208.2 613.0h1.4v1.4h-1.4zM177.5 606.0h1.5v1.5h-1.5zM83.1 589.6h1.5v1.5h-1.5zM124.4 605.2h1.4v1.4h-1.4zM134.7 607.2h1.5v1.5h-1.5zM190.3 612.3h1.9v1.9h-1.9zM42.9 648.8h1.7v1.7h-1.7zM151.4 602.9h1.5v1.5h-1.5zM216.0 597.4h1.6v1.6h-1.6zM197.5 623.0h1.6v1.6h-1.6zM205.9 615.5h1.5v1.5h-1.5zM25.1 620.8h1.8v1.8h-1.8zM58.9 616.2h1.7v1.7h-1.7zM151.2 597.9h1.9v1.9h-1.9zM183.1 642.5h1.8v1.8h-1.8zM85.5 639.9h1.8v1.8h-1.8zM35.2 603.6h1.3v1.3h-1.3zM153.1 622.3h1.5v1.5h-1.5zM74.8 636.0h1.9v1.9h-1.9zM181.7 596.9h2.0v2.0h-2.0zM217.5 603.3h1.2v1.2h-1.2zM137.3 600.9h1.3v1.3h-1.3zM89.8 618.8h1.9v1.9h-1.9zM48.9 614.5h1.9v1.9h-1.9zM207.2 600.9h1.4v1.4h-1.4zM25.2 618.0h1.7v1.7h-1.7zM144.1 584.1h1.3v1.3h-1.3zM82.8 622.1h1.7v1.7h-1.7zM118.0 598.9h1.5v1.5h-1.5zM88.5 590.1h2.0v2.0h-2.0zM161.8 635.6h1.7v1.7h-1.7zM140.8 598.0h1.9v1.9h-1.9z"/>
<path fill="#e01050" d="M156.6 616.0h1.4v1.4h-1.4zM41.2 626.6h1.8v1.8h-1.8zM94.0 616.2h1.4v1.4h-1.4zM67.1 595.9h1.3v1.3h-1.3zM73.8 609.1h1.4v1.4h-1.4zM83.7 621.1h1.4v1.4h-1.4zM207.0 617.2h1.3v1.3h-1.3zM89.8 647.8h1.9v1.9h-1.9zM67.4 613.8h1.2v1.2h-1.2zM96.4 618.9h1.7v1.7h-1.7zM201.8 600.8h1.6v1.6h-1.6zM209.0 600.8h2.0v2.0h-2.0zM99.4 609.4h1.3v1.3h-1.3zM183.1 602.6h1.5v1.5h-1.5zM107.2 599.0h1.4v1.4h-1.4zM160.1 630.7h1.6v1.6h-1.6zM179.8 617.5h1.4v1.4h-1.4zM170.0 608.0h1.6v1.6h-1.6zM66.9 614.2h1.7v1.7h-1.7zM138.2 602.1h1.7v1.7h-1.7zM94.8 622.3h1.8v1.8h-1.8zM139.4 644.6h1.8v1.8h-1.8zM187.8 627.9h1.2v1.2h-1.2zM162.3 606.8h1.5v1.5h-1.5zM48.3 623.4h1.5v1.5h-1.5zM105.0 590.2h1.4v1.4h-1.4zM144.1 588.2h1.6v1.6h-1.6zM79.1 608.7h1.6v1.6h-1.6zM106.7 632.8h1.6v1.6h-1.6zM69.5 594.3h1.6v1.6h-1.6zM82.8 594.3h2.0v2.0h-2.0zM145.7 609.4h2.0v2.0h-2.0zM107.3 590.4h1.5v1.5h-1.5zM116.9 620.2h1.2v1.2h-1.2zM148.0 606.1h1.4v1.4h-1.4zM156.7 642.9h1.7v1.7h-1.7zM160.9 636.3h1.4v1.4h-1.4zM85.1 601.0h2.0v2.0h-2.0zM39.2 607.8h1.9v1.9h-1.9zM144.2 598.2h1.6v1.6h-1.6zM149.3 661.8h1.3v1.3h-1.3zM182.0 659.6h1.5v1.5h-1.5zM118.8 602.1h1.3v1.3h-1.3zM88.8 623.3h2.0v2.0h-2.0zM69.2 658.9h1.5v1.5h-1.5zM169.4 599.8h1.2v1.2h-1.2zM99.2 597.8h1.8v1.8h-1.8zM203.7 606.4h1.4v1.4h-1.4zM53.2 646.2h1.2v1.2h-1.2zM134.8 589.7h2.0v2.0h-2.0zM162.0 599.7h1.3v1.3h-1.3zM47.3 640.1h1.2v1.2h-1.2zM120.0 582.3h1.8v1.8h-1.8zM175.6 628.6h2.0v2.0h-2.0zM143.5 636.1h1.7v1.7h-1.7zM91.0 603.6h1.2v1.2h-1.2zM19.4 600.9h1.8v1.8h-1.8zM129.0 592.0h1.9v1.9h-1.9zM177.6 606.7h1.4v1.4h-1.4zM97.1 603.9h1.7v1.7h-1.7zM142.0 614.2h1.6v1.6h-1.6zM150.9 603.3h1.6v1.6h-1.6zM142.5 589.6h1.4v1.4h-1.4zM122.8 603.9h1.5v1.5h-1.5zM20.3 601.2h1.8v1.8h-1.8zM203.0 604.8h1.5v1.5h-1.5zM202.7 619.7h1.2v1.2h-1.2zM149.1 617.8h1.2v1.2h-1.2zM101.7 588.7h1.7v1.7h-1.7zM110.4 594.4h1.8v1.8h-1.8zM151.9 618.7h1.9v1.9h-1.9zM149.7 623.7h1.2v1.2h-1.2zM162.6 607.9h1.4v1.4h-1.4zM45.6 616.0h1.5v1.5h-1.5zM49.4 658.0h1.6v1.6h-1.6zM130.4 619.5h1.4v1.4h-1.4zM176.2 628.7h1.4v1.4h-1.4zM202.0 659.2h1.7v1.7h-1.7zM207.7 604.6h1.3v1.3h-1.3zM98.6 619.7h1.2v1.2h-1.2zM80.9 601.0h1.9v1.9h-1.9zM123.4 586.6h1.5v1.5h-1.5zM133.2 593.6h1.3v1.3h-1.3zM202.0 607.1h1.7v1.7h-1.7zM134.9 594.3h1.7v1.7h-1.7zM119.3 586.5h1.9v1.9h-1.9zM25.8 613.8h1.9v1.9h-1.9zM213.9 621.8h1.6v1.6h-1.6zM184.7 614.8h1.6v1.6h-1.6zM101.5 596.9h1.9v1.9h-1.9zM39.4 605.7h1.8v1.8h-1.8zM132.8 619.0h1.3v1.3h-1.3zM142.5 629.7h1.3v1.3h-1.3zM185.5 607.4h1.3v1.3h-1.3zM210.8 626.3h1.3v1.3h-1.3zM94.6 611.1h1.6v1.6h-1.6zM94.7 627.8h1.4v1.4h-1.4zM68.7 608.8h1.7v1.7h-1.7zM183.2 612.3h1.8v1.8h-1.8zM42.2 622.0h1.5v1.5h-1.5zM139.3 606.0h1.3v1.3h-1.3zM63.8 611.3h1.8v1.8h-1.8zM113.9 612.5h1.8v1.8h-1.8zM112.7 645.0h1.3v1.3h-1.3zM96.5 648.4h1.7v1.7h-1.7zM55.1 605.4h1.7v1.7h-1.7zM154.9 588.7h1.7v1.7h-1.7zM83.8 656.2h2.0v2.0h-2.0zM183.1 614.2h2.0v2.0h-2.0zM174.4 617.5h1.9v1.9h-1.9zM120.5 649.4h1.3v1.3h-1.3zM94.7 591.9h1.3v1.3h-1.3zM200.6 626.7h1.8v1.8h-1.8zM65.7 610.1h1.6v1.6h-1.6zM108.5 642.5h1.8v1.8h-1.8zM230.5 618.1h1.3v1.3h-1.3zM78.7 591.6h2.0v2.0h-2.0zM186.4 595.5h1.6v1.6h-1.6zM104.5 608.7h1.9v1.9h-1.9zM111.8 634.0h1.4v1.4h-1.4zM109.7 617.6h1.5v1.5h-1.5zM139.6 627.2h1.9v1.9h-1.9zM76.4 599.5h1.5v1.5h-1.5zM87.4 627.4h1.9v1.9h-1.9zM80.7 623.5h1.9v1.9h-1.9zM160.0 630.9h1.5v1.5h-1.5zM23.1 596.2h1.8v1.8h-1.8zM82.9 649.6h2.0v2.0h-2.0zM62.3 600.4h1.5v1.5h-1.5zM107.9 597.7h1.4v1.4h-1.4zM80.5 591.7h1.3v1.3h-1.3zM80.5 612.6h1.5v1.5h-1.5zM113.3 595.6h1.7v1.7h-1.7zM138.0 607.1h1.6v1.6h-1.6zM123.4 590.1h1.3v1.3h-1.3zM187.2 659.1h1.3v1.3h-1.3zM11.8 646.5h1.5v1.5h-1.5zM51.1 614.6h1.5v1.5h-1.5zM151.7 599.4h1.9v1.9h-1.9zM68.3 655.2h1.2v1.2h-1.2zM96.3 662.6h1.4v1.4h-1.4zM141.7 588.9h1.6v1.6h-1.6zM139.9 633.8h1.8v1.8h-1.8zM154.5 644.9h1.8v1.8h-1.8zM24.2 607.5h1.8v1.8h-1.8zM87.5 618.9h1.6v1.6h-1.6zM69.1 617.1h1.6v1.6h-1.6zM94.9 594.0h1.9v1.9h-1.9zM122.0 581.7h1.5v1.5h-1.5zM130.4 618.1h1.6v1.6h-1.6zM91.9 609.8h1.9v1.9h-1.9zM135.5 605.2h1.9v1.9h-1.9zM146.9 627.5h1.3v1.3h-1.3zM82.1 604.5h1.7v1.7h-1.7zM152.0 601.2h1.5v1.5h-1.5zM144.9 593.8h1.6v1.6h-1.6zM42.5 607.2h1.8v1.8h-1.8zM128.5 618.4h1.6v1.6h-1.6zM86.2 637.7h1.2v1.2h-1.2zM51.6 604.5h1.5v1.5h-1.5zM107.2 639.4h1.8v1.8h-1.8zM214.4 599.7h1.9v1.9h-1.9zM78.6 592.7h1.6v1.6h-1.6zM89.2 610.2h1.2v1.2h-1.2zM70.2 602.3h1.2v1.2h-1.2z"/>
<path fill="#30d040" d="M184.8 618.7h1.5v1.5h-1.5zM67.4 599.0h1.9v1.9h-1.9zM189.7 626.9h1.4v1.4h-1.4zM149.4 594.2h1.2v1.2h-1.2zM166.3 600.1h1.3v1.3h-1.3zM140.2 614.0h1.9v1.9h-1.9zM132.6 600.4h1.5v1.5h-1.5zM160.1 614.3h1.3v1.3h-1.3zM55.9 618.8h1.6v1.6h-1.6zM92.2 657.1h1.7v1.7h-1.7zM172.2 658.7h1.2v1.2h-1.2zM153.3 599.7h1.5v1.5h-1.5zM173.1 599.5h1.7v1.7h-1.7zM62.4 650.7h1.8v1.8h-1.8zM129.9 610.9h1.7v1.7h-1.7zM144.7 607.5h1.6v1.6h-1.6zM126.9 641.3h1.6v1.6h-1.6zM207.8 597.3h2.0v2.0h-2.0zM60.3 597.7h1.4v1.4h-1.4zM45.0 621.6h1.8v1.8h-1.8zM189.9 608.4h1.9v1.9h-1.9zM107.3 591.4h1.4v1.4h-1.4zM96.5 594.2h1.7v1.7h-1.7zM173.7 652.3h1.4v1.4h-1.4zM56.7 602.0h1.8v1.8h-1.8zM58.0 614.4h1.7v1.7h-1.7zM135.5 604.3h1.3v1.3h-1.3zM108.4 610.7h1.9v1.9h-1.9zM133.5 630.5h1.9v1.9h-1.9zM137.7 665.9h1.2v1.2h-1.2zM114.7 615.9h1.6v1.6h-1.6zM106.5 647.5h1.6v1.6h-1.6zM210.8 604.2h1.7v1.7h-1.7zM164.4 590.8h1.9v1.9h-1.9zM123.5 592.6h1.3v1.3h-1.3zM122.5 596.0h1.3v1.3h-1.3zM90.9 603.2h1.6v1.6h-1.6zM44.2 630.4h1.6v1.6h-1.6zM84.3 590.6h1.4v1.4h-1.4zM31.6 603.8h1.4v1.4h-1.4zM192.3 628.5h2.0v2.0h-2.0zM134.5 621.4h1.9v1.9h-1.9zM14.3 616.5h2.0v2.0h-2.0zM208.3 609.1h1.9v1.9h-1.9zM179.3 639.8h1.7v1.7h-1.7zM151.6 598.9h1.6v1.6h-1.6zM168.0 597.7h1.5v1.5h-1.5zM70.2 594.9h1.5v1.5h-1.5zM185.3 637.4h1.3v1.3h-1.3zM148.1 587.2h1.5v1.5h-1.5zM96.2 607.5h1.3v1.3h-1.3zM127.2 623.3h2.0v2.0h-2.0zM143.6 592.3h1.8v1.8h-1.8zM131.1 621.2h1.3v1.3h-1.3zM193.3 624.4h1.2v1.2h-1.2zM137.3 615.6h1.3v1.3h-1.3zM93.5 615.5h1.7v1.7h-1.7zM30.1 606.8h1.5v1.5h-1.5zM188.4 622.9h2.0v2.0h-2.0zM92.5 630.2h1.7v1.7h-1.7zM179.7 603.5h1.7v1.7h-1.7zM141.5 582.7h1.9v1.9h-1.9zM186.8 639.2h1.8v1.8h-1.8zM163.3 617.6h1.9v1.9h-1.9zM20.7 616.4h1.3v1.3h-1.3zM161.6 604.5h1.3v1.3h-1.3zM122.6 595.7h1.6v1.6h-1.6zM100.4 633.8h1.7v1.7h-1.7zM196.1 634.2h1.9v1.9h-1.9zM195.5 617.4h2.0v2.0h-2.0zM111.5 595.4h1.9v1.9h-1.9zM135.2 632.2h1.9v1.9h-1.9zM146.0 583.7h2.0v2.0h-2.0zM184.9 663.1h1.7v1.7h-1.7zM96.6 592.5h1.9v1.9h-1.9zM116.9 597.6h1.2v1.2h-1.2z"/>
<path fill="#000" d="M79.5 592.3h2.5v2.5h-2.5zM10.9 595.4h1.5v1.5h-1.5zM220.0 597.7h1.8v1.8h-1.8zM96.9 595.3h1.5v1.5h-1.5zM11.1 598.6h1.8v1.8h-1.8zM185.1 602.9h2.0v2.0h-2.0zM235.4 601.4h2.2v2.2h-2.2zM14.7 604.7h2.0v2.0h-2.0zM89.3 598.5h2.4v2.4h-2.4zM95.6 586.3h1.7v1.7h-1.7zM59.8 598.4h2.0v2.0h-2.0zM82.4 598.6h1.9v1.9h-1.9zM171.0 592.3h1.8v1.8h-1.8zM102.8 590.5h1.9v1.9h-1.9zM49.7 606.7h1.5v1.5h-1.5zM72.2 599.0h2.1v2.1h-2.1zM41.8 601.1h2.3v2.3h-2.3zM225.5 605.6h1.5v1.5h-1.5zM89.2 595.4h1.7v1.7h-1.7zM159.7 592.8h2.2v2.2h-2.2zM103.3 593.2h2.5v2.5h-2.5zM153.4 591.7h2.2v2.2h-2.2zM138.2 585.7h2.6v2.6h-2.6zM167.1 593.1h2.5v2.5h-2.5zM146.5 591.6h2.0v2.0h-2.0zM133.9 594.2h2.2v2.2h-2.2zM196.4 606.8h2.2v2.2h-2.2zM83.9 596.0h2.4v2.4h-2.4zM68.5 601.6h1.8v1.8h-1.8zM209.3 597.1h1.6v1.6h-1.6zM3.3 600.2h1.4v1.4h-1.4zM103.8 592.0h2.2v2.2h-2.2zM140.1 582.2h1.8v1.8h-1.8zM55.0 600.9h2.6v2.6h-2.6zM36.1 605.7h1.4v1.4h-1.4zM109.1 586.6h1.8v1.8h-1.8zM134.8 583.8h1.6v1.6h-1.6zM24.1 599.6h1.7v1.7h-1.7zM112.8 592.0h2.2v2.2h-2.2zM235.0 596.2h2.2v2.2h-2.2zM146.6 585.6h1.5v1.5h-1.5zM74.5 600.9h2.0v2.0h-2.0zM194.3 595.3h2.6v2.6h-2.6zM16.9 601.3h2.2v2.2h-2.2zM210.9 597.9h1.6v1.6h-1.6zM136.0 588.7h1.4v1.4h-1.4zM71.6 605.2h1.9v1.9h-1.9zM186.0 595.1h2.3v2.3h-2.3zM62.4 598.9h1.6v1.6h-1.6zM27.0 606.3h2.0v2.0h-2.0zM55.9 605.7h1.5v1.5h-1.5zM217.2 596.7h1.5v1.5h-1.5zM223.3 601.3h1.7v1.7h-1.7zM139.5 581.9h1.6v1.6h-1.6zM233.0 593.5h1.4v1.4h-1.4zM28.9 607.7h1.7v1.7h-1.7zM106.0 590.3h2.3v2.3h-2.3zM193.4 596.9h2.4v2.4h-2.4zM114.3 586.9h2.3v2.3h-2.3zM24.7 606.0h2.4v2.4h-2.4zM36.6 607.1h1.7v1.7h-1.7zM68.6 604.5h2.6v2.6h-2.6zM26.4 601.1h2.1v2.1h-2.1zM179.5 600.8h2.4v2.4h-2.4zM130.6 591.7h1.9v1.9h-1.9zM81.5 598.1h1.6v1.6h-1.6zM17.1 600.8h1.9v1.9h-1.9zM68.9 601.3h1.7v1.7h-1.7zM43.8 605.2h1.8v1.8h-1.8zM198.6 605.6h1.9v1.9h-1.9zM175.6 595.9h1.6v1.6h-1.6zM93.8 598.7h2.6v2.6h-2.6zM76.1 591.1h2.3v2.3h-2.3zM51.0 603.1h1.6v1.6h-1.6zM123.4 590.9h1.6v1.6h-1.6zM86.4 600.4h1.5v1.5h-1.5zM226.2 605.7h2.3v2.3h-2.3zM13.4 592.1h1.9v1.9h-1.9zM106.7 582.8h2.4v2.4h-2.4zM10.7 594.3h2.6v2.6h-2.6zM110.0 582.5h1.9v1.9h-1.9zM26.8 606.8h1.7v1.7h-1.7zM55.0 598.5h2.1v2.1h-2.1zM65.9 596.7h2.2v2.2h-2.2zM234.3 605.3h2.2v2.2h-2.2zM101.9 591.2h2.5v2.5h-2.5zM36.7 604.1h1.7v1.7h-1.7zM101.5 592.8h1.9v1.9h-1.9zM58.1 601.8h1.6v1.6h-1.6zM124.1 590.1h1.6v1.6h-1.6zM151.3 597.0h1.6v1.6h-1.6zM206.1 606.2h2.3v2.3h-2.3zM3.2 595.0h2.0v2.0h-2.0zM154.9 594.7h2.3v2.3h-2.3zM128.6 591.1h1.8v1.8h-1.8zM170.2 596.4h2.6v2.6h-2.6zM125.6 580.1h1.5v1.5h-1.5zM208.9 604.0h2.0v2.0h-2.0zM89.4 592.5h1.7v1.7h-1.7zM215.9 603.2h2.5v2.5h-2.5zM223.4 607.0h1.9v1.9h-1.9zM171.0 595.5h1.9v1.9h-1.9zM73.5 604.3h2.1v2.1h-2.1zM123.2 584.8h1.5v1.5h-1.5zM121.5 584.3h2.1v2.1h-2.1zM160.0 596.5h1.8v1.8h-1.8zM145.3 587.5h1.7v1.7h-1.7zM120.1 592.0h2.2v2.2h-2.2zM187.4 597.2h1.7v1.7h-1.7zM154.7 592.3h2.5v2.5h-2.5z"/>
<rect x="2.5" y="525" width="235.5" height="143.5" filter="url(#cn)" style="mix-blend-mode:multiply"/>
</g>
<text x="12.7" y="533.4" font-size="8.4" font-weight="bold" fill="#fff" text-anchor="start" textLength="24.2" lengthAdjust="spacingAndGlyphs" >1 mm</text>
<rect x="9.0" y="536.1" width="30.5" height="1.4" fill="#fff"/>
<clipPath id="cp4"><rect x="278.5" y="525.2" width="234.3" height="141.3"/></clipPath>
<g clip-path="url(#cp4)">
<rect x="278.5" y="525.2" width="234.3" height="141.3" fill="#000"/>
<g filter="url(#bl1)">
<path d="M282.7 593.6C280.9 590.3 283.5 580.6 285.2 575.3C286.8 570.0 289.5 565.8 292.7 561.9C295.9 558.0 299.9 555.0 304.4 551.9C308.8 548.8 314.9 545.9 319.4 543.6C323.8 541.2 326.6 539.1 331.1 537.7C335.5 536.3 340.8 536.2 346.1 535.2C351.4 534.2 357.8 533.0 362.8 531.9C367.8 530.8 371.1 529.4 376.1 528.5C381.1 527.7 387.0 527.3 392.8 526.9C398.6 526.5 403.8 526.3 411.0 526.0C418.2 525.8 429.7 525.1 436.1 525.2C442.5 525.3 445.5 525.9 449.4 526.9C453.3 527.8 455.5 529.4 459.4 531.0C463.3 532.7 468.3 535.2 472.8 536.9C477.2 538.6 482.5 539.7 486.1 541.1C489.7 542.4 491.7 543.7 494.5 545.2C497.2 546.8 500.4 547.2 502.8 550.2C505.2 553.3 507.4 559.1 508.6 563.6C509.9 568.0 510.2 572.5 510.3 576.9C510.5 581.4 511.0 587.8 509.5 590.3C508.0 592.8 505.0 590.6 501.1 592.0C497.2 593.3 490.3 596.7 486.1 598.6C482.0 600.6 480.6 604.2 476.1 603.6C471.7 603.1 465.3 597.2 459.4 595.3C453.6 593.3 446.4 592.2 441.1 592.0C435.8 591.7 432.7 593.1 427.7 593.6C422.7 594.2 416.6 595.3 411.0 595.3C405.5 595.3 399.0 594.2 394.3 593.6C389.6 593.1 386.9 591.7 382.8 592.0C378.6 592.2 375.6 593.3 369.4 595.3C363.3 597.2 353.3 602.5 346.1 603.6C338.9 604.7 331.3 603.6 326.1 602.0C320.8 600.3 319.4 594.7 314.4 593.6C309.4 592.5 301.3 595.3 296.0 595.3C290.7 595.3 284.5 597.0 282.7 593.6Z" fill="#c85c80" />
<path d="M316.0 592.0C315.8 587.9 321.9 583.6 324.4 578.6C326.9 573.6 329.0 566.9 331.1 561.9C333.2 556.9 335.0 552.2 336.9 548.6C338.9 545.0 338.4 542.2 342.7 540.2C347.1 538.3 357.2 538.0 362.8 536.9C368.3 535.8 369.5 534.1 376.1 533.5C382.8 533.0 392.7 533.8 402.7 533.5C412.7 533.3 427.7 532.0 436.1 531.9C444.4 531.7 448.0 531.6 452.7 532.7C457.5 533.8 460.5 536.5 464.4 538.6C468.3 540.6 474.0 541.9 476.1 545.2C478.2 548.6 475.8 555.0 476.9 558.6C478.1 562.2 480.1 563.6 482.8 566.9C485.4 570.3 489.5 574.5 492.8 578.6C496.1 582.7 502.8 588.6 502.8 591.6C502.8 594.6 496.7 594.7 492.8 596.6C488.9 598.6 484.5 603.6 479.4 603.3C474.4 603.0 469.2 596.7 462.8 595.0C456.4 593.2 446.9 593.0 441.1 593.0C435.2 593.0 432.7 594.3 427.7 595.0C422.7 595.6 416.6 596.7 411.0 596.6C405.5 596.6 399.0 595.2 394.3 594.6C389.6 594.0 387.5 592.6 382.8 593.0C378.1 593.3 372.8 594.6 366.1 596.6C359.4 598.6 349.4 604.0 342.7 605.0C336.1 606.0 330.5 604.8 326.1 602.6C321.6 600.5 316.3 596.0 316.0 592.0Z" fill="#2626fa" />
<path d="M321.1 545.2C322.5 543.4 330.5 539.7 332.7 541.1C335.0 542.4 335.4 549.3 334.7 553.6C334.0 557.9 330.3 562.9 328.6 566.9C326.8 571.0 325.8 576.2 324.4 577.8C323.0 579.3 320.3 578.7 320.2 576.1C320.2 573.5 323.4 566.0 324.1 561.9C324.7 557.9 324.6 554.7 324.1 551.9C323.6 549.1 319.6 547.0 321.1 545.2Z" fill="#c85c80" />
<path d="M283.5 590.3C283.8 586.4 284.5 579.7 286.0 575.3C287.5 570.8 289.9 566.8 292.7 563.6C295.5 560.4 299.1 558.3 302.7 556.1C306.3 553.9 310.8 550.8 314.4 550.2C318.0 549.7 322.4 550.8 324.4 552.7C326.3 554.7 326.3 558.2 326.1 561.9C325.8 565.7 324.4 571.1 322.7 575.3C321.1 579.4 318.8 583.9 316.0 586.9C313.3 590.0 309.9 592.2 306.0 593.6C302.1 595.0 296.3 594.5 292.7 595.3C289.1 596.1 285.9 599.5 284.3 598.6C282.8 597.8 283.2 594.2 283.5 590.3Z" fill="#80ee4c" />
<path d="M474.4 540.2C476.1 538.8 483.5 540.6 486.1 541.9C488.8 543.1 490.4 545.6 490.3 547.7C490.2 549.8 485.7 551.5 485.3 554.4C484.9 557.3 486.3 561.5 487.8 565.3C489.3 569.0 494.2 575.3 494.5 576.9C494.7 578.6 491.8 577.6 489.5 575.3C487.1 572.9 482.5 566.9 480.3 562.8C478.1 558.6 477.1 554.0 476.1 550.2C475.1 546.5 472.8 541.6 474.4 540.2Z" fill="#c85c80" />
<path d="M486.1 550.2C487.4 548.3 490.3 546.6 492.8 546.9C495.3 547.2 498.8 549.1 501.1 551.9C503.5 554.7 505.6 559.4 507.0 563.6C508.4 567.8 509.2 573.0 509.5 576.9C509.8 580.8 509.8 585.3 508.6 586.9C507.5 588.6 505.2 588.9 502.8 586.9C500.4 585.0 496.7 578.6 494.5 575.3C492.2 571.9 491.0 569.7 489.5 566.9C487.9 564.1 485.8 561.4 485.3 558.6C484.7 555.8 484.9 552.2 486.1 550.2Z" fill="#80ee4c" />
<path d="M341.1 541.9C342.1 540.1 343.6 538.6 346.1 537.7C348.6 536.9 353.9 536.2 356.1 536.9C358.3 537.6 359.7 539.7 359.4 541.9C359.2 544.1 356.4 547.9 354.4 550.2C352.5 552.6 349.7 555.4 347.8 556.1C345.8 556.8 344.0 555.7 342.7 554.4C341.5 553.2 340.5 550.7 340.2 548.6C340.0 546.5 340.1 543.7 341.1 541.9Z" fill="#c85c80" stroke="#c85c80" stroke-width="6.4" stroke-linejoin="round" stroke-linecap="round" />
<path d="M351.1 575.3C350.5 573.7 348.9 571.7 349.4 568.6C350.0 565.5 352.5 560.5 354.4 556.9C356.4 553.3 358.6 550.0 361.1 546.9C363.6 543.8 365.8 541.1 369.4 538.6C373.1 536.1 377.8 533.4 382.8 531.9C387.8 530.4 394.8 530.0 399.5 529.4C404.2 528.7 404.9 528.3 411.0 528.0C417.1 527.8 429.9 527.3 436.1 527.7C442.2 528.1 444.7 528.1 447.7 530.2C450.8 532.3 452.3 536.3 454.4 540.2C456.5 544.1 458.5 549.1 460.3 553.6C462.0 558.0 464.2 563.6 464.8 566.9C465.3 570.2 464.5 572.0 463.6 573.3C462.7 574.5 461.2 575.2 459.4 574.4C457.6 573.7 455.1 571.9 452.7 568.6C450.4 565.3 448.0 558.3 445.2 554.4C442.5 550.5 440.4 547.3 436.1 545.2C431.8 543.1 425.5 542.6 419.4 541.9C413.3 541.2 404.6 540.2 399.4 541.1C394.1 541.9 391.1 544.8 387.8 546.9C384.5 549.0 382.0 550.8 379.5 553.6C377.0 556.4 375.0 560.2 372.8 563.6C370.6 566.9 368.6 571.1 366.1 573.6C363.6 576.1 360.0 577.9 357.8 578.6C355.5 579.3 353.9 578.3 352.8 577.8C351.6 577.2 351.6 576.8 351.1 575.3Z" fill="#c85c80" stroke="#c85c80" stroke-width="6.4" stroke-linejoin="round" stroke-linecap="round" />
<path d="M379.5 563.6C380.3 562.2 382.8 559.1 386.1 557.7C389.5 556.4 396.7 555.8 399.5 555.2C402.2 554.7 399.4 554.3 402.7 554.4C406.0 554.5 414.4 555.2 419.4 556.1C424.4 556.9 429.8 558.0 432.7 559.4C435.6 560.8 436.9 562.8 436.9 564.4C436.9 566.1 435.6 568.3 432.7 569.4C429.8 570.5 424.4 571.0 419.4 571.1C414.4 571.2 406.0 570.5 402.7 570.3C399.4 570.0 402.0 569.8 399.5 569.4C397.0 569.0 390.9 568.3 387.8 567.8C384.7 567.2 382.5 566.8 381.1 566.1C379.7 565.4 378.6 565.0 379.5 563.6Z" fill="#c85c80" stroke="#c85c80" stroke-width="6.4" stroke-linejoin="round" stroke-linecap="round" />
<path d="M396.0 578.6C397.3 577.8 400.5 576.5 404.4 576.1C408.2 575.7 416.5 575.7 419.4 576.1C422.3 576.5 423.0 577.6 421.9 578.6C420.8 579.6 415.9 581.2 412.7 581.9C409.5 582.6 405.3 582.9 402.7 582.8C400.0 582.6 398.0 581.8 396.8 581.1C395.7 580.4 394.8 579.4 396.0 578.6Z" fill="#c85c80" stroke="#c85c80" stroke-width="6.4" stroke-linejoin="round" stroke-linecap="round" />
<path d="M394.3 590.3C395.5 589.9 398.5 591.1 402.7 591.1C406.9 591.1 415.5 590.7 419.4 590.3C423.3 589.9 424.7 588.3 426.0 588.6C427.4 588.9 430.2 591.0 427.7 592.0C425.2 592.9 416.3 594.2 411.0 594.5C405.7 594.7 398.8 594.3 396.0 593.6C393.2 592.9 393.2 590.7 394.3 590.3Z" fill="#c85c80" stroke="#c85c80" stroke-width="6.4" stroke-linejoin="round" stroke-linecap="round" />
<path d="M456.1 535.2C456.5 534.0 458.3 531.9 460.3 531.9C462.2 531.9 465.7 533.5 467.8 535.2C469.9 536.9 472.1 539.5 472.8 541.9C473.5 544.3 472.8 547.7 471.9 549.4C471.1 551.1 469.4 552.6 467.8 551.9C466.1 551.2 463.6 547.3 461.9 545.2C460.3 543.1 458.7 541.1 457.8 539.4C456.8 537.7 455.7 536.5 456.1 535.2Z" fill="#c85c80" stroke="#c85c80" stroke-width="6.4" stroke-linejoin="round" stroke-linecap="round" />
<path d="M341.1 541.9C342.1 540.1 343.6 538.6 346.1 537.7C348.6 536.9 353.9 536.2 356.1 536.9C358.3 537.6 359.7 539.7 359.4 541.9C359.2 544.1 356.4 547.9 354.4 550.2C352.5 552.6 349.7 555.4 347.8 556.1C345.8 556.8 344.0 555.7 342.7 554.4C341.5 553.2 340.5 550.7 340.2 548.6C340.0 546.5 340.1 543.7 341.1 541.9Z" fill="#80ee4c" />
<path d="M351.1 575.3C350.5 573.7 348.9 571.7 349.4 568.6C350.0 565.5 352.5 560.5 354.4 556.9C356.4 553.3 358.6 550.0 361.1 546.9C363.6 543.8 365.8 541.1 369.4 538.6C373.1 536.1 377.8 533.4 382.8 531.9C387.8 530.4 394.8 530.0 399.5 529.4C404.2 528.7 404.9 528.3 411.0 528.0C417.1 527.8 429.9 527.3 436.1 527.7C442.2 528.1 444.7 528.1 447.7 530.2C450.8 532.3 452.3 536.3 454.4 540.2C456.5 544.1 458.5 549.1 460.3 553.6C462.0 558.0 464.2 563.6 464.8 566.9C465.3 570.2 464.5 572.0 463.6 573.3C462.7 574.5 461.2 575.2 459.4 574.4C457.6 573.7 455.1 571.9 452.7 568.6C450.4 565.3 448.0 558.3 445.2 554.4C442.5 550.5 440.4 547.3 436.1 545.2C431.8 543.1 425.5 542.6 419.4 541.9C413.3 541.2 404.6 540.2 399.4 541.1C394.1 541.9 391.1 544.8 387.8 546.9C384.5 549.0 382.0 550.8 379.5 553.6C377.0 556.4 375.0 560.2 372.8 563.6C370.6 566.9 368.6 571.1 366.1 573.6C363.6 576.1 360.0 577.9 357.8 578.6C355.5 579.3 353.9 578.3 352.8 577.8C351.6 577.2 351.6 576.8 351.1 575.3Z" fill="#80ee4c" />
<path d="M379.5 563.6C380.3 562.2 382.8 559.1 386.1 557.7C389.5 556.4 396.7 555.8 399.5 555.2C402.2 554.7 399.4 554.3 402.7 554.4C406.0 554.5 414.4 555.2 419.4 556.1C424.4 556.9 429.8 558.0 432.7 559.4C435.6 560.8 436.9 562.8 436.9 564.4C436.9 566.1 435.6 568.3 432.7 569.4C429.8 570.5 424.4 571.0 419.4 571.1C414.4 571.2 406.0 570.5 402.7 570.3C399.4 570.0 402.0 569.8 399.5 569.4C397.0 569.0 390.9 568.3 387.8 567.8C384.7 567.2 382.5 566.8 381.1 566.1C379.7 565.4 378.6 565.0 379.5 563.6Z" fill="#80ee4c" />
<path d="M396.0 578.6C397.3 577.8 400.5 576.5 404.4 576.1C408.2 575.7 416.5 575.7 419.4 576.1C422.3 576.5 423.0 577.6 421.9 578.6C420.8 579.6 415.9 581.2 412.7 581.9C409.5 582.6 405.3 582.9 402.7 582.8C400.0 582.6 398.0 581.8 396.8 581.1C395.7 580.4 394.8 579.4 396.0 578.6Z" fill="#80ee4c" />
<path d="M394.3 590.3C395.5 589.9 398.5 591.1 402.7 591.1C406.9 591.1 415.5 590.7 419.4 590.3C423.3 589.9 424.7 588.3 426.0 588.6C427.4 588.9 430.2 591.0 427.7 592.0C425.2 592.9 416.3 594.2 411.0 594.5C405.7 594.7 398.8 594.3 396.0 593.6C393.2 592.9 393.2 590.7 394.3 590.3Z" fill="#80ee4c" />
<path d="M456.1 535.2C456.5 534.0 458.3 531.9 460.3 531.9C462.2 531.9 465.7 533.5 467.8 535.2C469.9 536.9 472.1 539.5 472.8 541.9C473.5 544.3 472.8 547.7 471.9 549.4C471.1 551.1 469.4 552.6 467.8 551.9C466.1 551.2 463.6 547.3 461.9 545.2C460.3 543.1 458.7 541.1 457.8 539.4C456.8 537.7 455.7 536.5 456.1 535.2Z" fill="#80ee4c" />
<path d="M434.4 526.5C436.3 526.0 445.3 525.7 447.7 526.0C450.2 526.4 451.0 528.3 449.1 528.9C447.1 529.4 438.5 529.8 436.1 529.4C433.6 529.0 432.4 527.1 434.4 526.5Z" fill="#80ee4c" />
</g>
<circle cx="481.1" cy="586.9" r="3" fill="#50c850" filter="url(#bl1)"/>
<path fill="#1a1ae8" d="M300.6 623.8h1.7v1.7h-1.7zM459.6 644.4h1.4v1.4h-1.4zM346.6 607.0h1.7v1.7h-1.7zM412.2 613.6h1.9v1.9h-1.9zM376.5 619.6h1.4v1.4h-1.4zM339.1 625.6h1.6v1.6h-1.6zM486.5 638.3h1.3v1.3h-1.3zM396.2 583.3h1.9v1.9h-1.9zM420.6 594.5h1.6v1.6h-1.6zM311.4 601.7h1.6v1.6h-1.6zM416.5 614.2h1.9v1.9h-1.9zM429.7 626.2h1.4v1.4h-1.4zM403.2 633.7h1.6v1.6h-1.6zM402.2 599.1h1.4v1.4h-1.4zM465.8 599.9h1.6v1.6h-1.6zM378.0 616.4h1.9v1.9h-1.9zM352.7 595.4h1.3v1.3h-1.3zM386.8 607.2h1.5v1.5h-1.5zM355.8 618.6h1.4v1.4h-1.4zM443.1 598.7h1.4v1.4h-1.4zM363.0 594.4h1.7v1.7h-1.7zM391.7 624.3h1.5v1.5h-1.5zM390.1 607.5h1.6v1.6h-1.6zM415.7 636.2h1.4v1.4h-1.4zM356.8 602.3h1.2v1.2h-1.2zM342.6 656.8h1.6v1.6h-1.6zM325.0 605.5h1.9v1.9h-1.9zM387.5 584.3h1.4v1.4h-1.4zM418.1 640.9h1.5v1.5h-1.5zM320.6 599.0h2.0v2.0h-2.0zM410.1 602.6h1.5v1.5h-1.5zM393.6 634.6h1.8v1.8h-1.8zM326.7 631.4h1.5v1.5h-1.5zM409.2 614.0h1.3v1.3h-1.3zM391.9 617.1h1.9v1.9h-1.9zM438.3 623.5h1.5v1.5h-1.5zM442.9 624.7h1.7v1.7h-1.7zM332.1 629.2h1.6v1.6h-1.6zM417.5 599.6h1.9v1.9h-1.9zM343.7 611.4h1.9v1.9h-1.9zM311.5 619.3h1.7v1.7h-1.7zM379.8 613.9h1.2v1.2h-1.2zM362.3 640.0h1.5v1.5h-1.5zM338.5 598.3h1.3v1.3h-1.3zM468.8 613.7h1.8v1.8h-1.8zM412.5 583.8h1.4v1.4h-1.4zM377.4 596.3h1.2v1.2h-1.2zM368.3 608.3h1.9v1.9h-1.9zM426.7 600.0h1.8v1.8h-1.8zM458.7 659.5h1.6v1.6h-1.6zM386.6 584.6h1.8v1.8h-1.8zM447.8 600.1h1.3v1.3h-1.3zM441.4 605.9h1.2v1.2h-1.2zM325.0 627.6h2.0v2.0h-2.0zM373.6 585.7h1.7v1.7h-1.7zM472.8 650.2h1.3v1.3h-1.3zM432.2 602.6h1.2v1.2h-1.2zM303.5 621.6h1.4v1.4h-1.4zM323.0 599.2h1.9v1.9h-1.9zM318.8 606.3h1.7v1.7h-1.7zM446.0 607.1h1.9v1.9h-1.9zM445.7 610.2h1.8v1.8h-1.8zM360.2 630.5h1.6v1.6h-1.6zM336.9 639.6h1.9v1.9h-1.9zM402.4 599.5h1.7v1.7h-1.7zM346.9 633.5h1.9v1.9h-1.9zM372.9 607.9h1.7v1.7h-1.7zM456.8 599.2h1.8v1.8h-1.8zM363.8 637.1h1.4v1.4h-1.4zM449.6 599.3h1.3v1.3h-1.3zM448.0 639.1h1.6v1.6h-1.6zM382.8 588.2h1.3v1.3h-1.3zM444.4 637.5h1.7v1.7h-1.7zM339.0 623.4h1.8v1.8h-1.8zM451.1 652.2h1.6v1.6h-1.6zM325.3 623.5h1.5v1.5h-1.5zM387.5 585.9h1.9v1.9h-1.9zM445.5 653.7h1.4v1.4h-1.4zM419.4 595.5h1.3v1.3h-1.3zM380.1 594.8h1.9v1.9h-1.9zM401.8 655.8h1.3v1.3h-1.3zM430.9 612.0h1.2v1.2h-1.2zM305.0 610.6h1.6v1.6h-1.6zM366.5 604.7h1.2v1.2h-1.2zM342.5 619.2h1.5v1.5h-1.5zM415.5 590.2h1.3v1.3h-1.3zM364.6 625.8h1.9v1.9h-1.9zM321.3 603.9h1.9v1.9h-1.9zM417.7 605.1h1.3v1.3h-1.3zM436.3 614.8h1.4v1.4h-1.4zM424.7 604.6h1.8v1.8h-1.8zM355.2 661.5h1.5v1.5h-1.5zM354.6 611.6h1.7v1.7h-1.7zM320.1 601.3h1.7v1.7h-1.7zM454.3 636.2h1.7v1.7h-1.7zM461.3 618.6h1.8v1.8h-1.8zM431.2 619.7h1.7v1.7h-1.7zM400.1 593.2h1.8v1.8h-1.8zM388.6 626.5h1.6v1.6h-1.6zM439.0 588.4h1.4v1.4h-1.4zM400.6 606.9h1.7v1.7h-1.7zM419.6 587.3h1.9v1.9h-1.9zM351.6 649.4h1.3v1.3h-1.3zM376.8 626.0h2.0v2.0h-2.0zM510.9 610.7h1.7v1.7h-1.7zM333.4 660.0h1.9v1.9h-1.9zM449.1 598.1h1.8v1.8h-1.8zM364.1 597.2h1.2v1.2h-1.2zM410.6 616.0h1.2v1.2h-1.2zM457.1 622.9h1.9v1.9h-1.9zM358.6 595.9h2.0v2.0h-2.0zM487.4 608.3h1.4v1.4h-1.4zM393.1 600.3h1.5v1.5h-1.5zM467.6 627.5h1.7v1.7h-1.7zM387.0 625.4h1.2v1.2h-1.2zM406.4 582.9h1.2v1.2h-1.2zM289.7 630.4h1.4v1.4h-1.4zM410.9 582.8h1.6v1.6h-1.6zM393.8 587.9h1.4v1.4h-1.4zM445.9 611.6h1.6v1.6h-1.6zM381.6 612.5h1.5v1.5h-1.5zM328.2 611.9h1.9v1.9h-1.9zM364.9 588.5h1.7v1.7h-1.7zM353.8 633.6h1.2v1.2h-1.2zM441.6 627.8h1.4v1.4h-1.4zM409.5 617.5h1.9v1.9h-1.9zM338.0 625.4h1.8v1.8h-1.8zM434.0 625.2h1.3v1.3h-1.3zM368.1 632.1h1.5v1.5h-1.5zM326.1 630.3h1.7v1.7h-1.7zM432.2 614.6h1.4v1.4h-1.4zM362.6 592.9h1.5v1.5h-1.5zM448.2 611.7h1.5v1.5h-1.5zM448.5 637.2h1.6v1.6h-1.6zM374.0 608.5h1.3v1.3h-1.3zM359.9 602.3h1.4v1.4h-1.4zM389.7 644.9h1.8v1.8h-1.8zM440.9 592.2h1.4v1.4h-1.4zM390.0 609.2h1.3v1.3h-1.3zM413.0 586.0h1.3v1.3h-1.3zM487.7 611.4h1.6v1.6h-1.6zM386.4 600.2h1.7v1.7h-1.7zM394.8 587.3h1.9v1.9h-1.9zM413.3 615.8h1.9v1.9h-1.9zM443.1 597.7h1.8v1.8h-1.8zM417.3 600.9h1.3v1.3h-1.3zM454.9 595.1h1.9v1.9h-1.9zM351.3 597.7h1.2v1.2h-1.2zM445.2 651.3h2.0v2.0h-2.0zM357.6 643.9h2.0v2.0h-2.0zM392.6 657.9h1.4v1.4h-1.4zM391.6 590.6h1.9v1.9h-1.9zM368.4 605.4h1.8v1.8h-1.8zM379.4 619.4h1.5v1.5h-1.5zM334.0 609.9h1.7v1.7h-1.7zM363.5 624.2h1.6v1.6h-1.6zM491.6 607.5h1.2v1.2h-1.2zM407.7 586.7h1.3v1.3h-1.3zM356.0 599.5h1.9v1.9h-1.9zM355.3 607.9h1.5v1.5h-1.5zM300.0 603.3h1.9v1.9h-1.9zM366.3 597.8h1.6v1.6h-1.6zM427.4 589.6h1.7v1.7h-1.7zM423.7 607.0h1.5v1.5h-1.5zM285.4 644.1h1.6v1.6h-1.6zM476.6 613.0h1.7v1.7h-1.7zM395.6 594.1h1.2v1.2h-1.2zM414.0 631.3h1.2v1.2h-1.2zM349.3 637.1h1.7v1.7h-1.7zM341.0 630.3h1.5v1.5h-1.5zM425.1 644.0h1.7v1.7h-1.7zM331.3 620.2h1.5v1.5h-1.5zM461.6 622.3h1.6v1.6h-1.6zM323.0 661.0h1.7v1.7h-1.7zM375.8 639.8h1.7v1.7h-1.7zM310.1 610.7h1.9v1.9h-1.9zM342.7 660.1h1.5v1.5h-1.5zM356.7 596.6h1.7v1.7h-1.7zM323.8 600.9h1.4v1.4h-1.4zM442.4 606.4h1.5v1.5h-1.5zM393.0 613.8h1.3v1.3h-1.3zM304.0 614.4h1.8v1.8h-1.8zM390.9 593.6h1.7v1.7h-1.7zM375.2 655.4h1.9v1.9h-1.9zM401.6 595.1h1.2v1.2h-1.2zM438.7 593.6h1.7v1.7h-1.7zM421.6 588.1h1.8v1.8h-1.8zM398.7 597.1h1.8v1.8h-1.8zM301.1 618.4h1.6v1.6h-1.6zM328.2 601.8h1.3v1.3h-1.3zM297.1 615.5h1.4v1.4h-1.4zM397.4 599.0h1.8v1.8h-1.8zM366.1 588.0h1.8v1.8h-1.8zM324.7 599.2h1.4v1.4h-1.4zM387.8 664.9h1.7v1.7h-1.7zM428.1 585.2h1.7v1.7h-1.7zM359.0 624.8h1.3v1.3h-1.3zM418.4 622.9h1.7v1.7h-1.7zM485.0 601.6h1.5v1.5h-1.5zM295.6 602.6h1.9v1.9h-1.9zM405.6 585.7h1.6v1.6h-1.6zM424.0 595.7h1.5v1.5h-1.5zM477.6 611.2h1.7v1.7h-1.7zM404.1 621.9h1.6v1.6h-1.6zM450.3 607.5h1.3v1.3h-1.3zM477.5 626.7h1.2v1.2h-1.2zM390.3 590.7h1.8v1.8h-1.8zM465.2 595.6h1.7v1.7h-1.7zM347.3 646.6h1.6v1.6h-1.6zM298.3 602.6h1.3v1.3h-1.3zM313.1 619.7h1.8v1.8h-1.8zM410.3 621.3h1.7v1.7h-1.7zM410.9 628.8h1.9v1.9h-1.9zM322.5 613.8h1.5v1.5h-1.5zM433.5 649.3h1.6v1.6h-1.6zM364.8 608.0h1.4v1.4h-1.4zM480.8 625.4h1.9v1.9h-1.9zM346.7 610.8h1.3v1.3h-1.3zM370.8 622.6h1.4v1.4h-1.4zM467.5 638.1h2.0v2.0h-2.0zM397.9 613.8h1.7v1.7h-1.7zM388.8 616.7h1.8v1.8h-1.8zM422.3 598.7h1.2v1.2h-1.2zM344.1 623.7h1.9v1.9h-1.9zM362.3 609.6h1.3v1.3h-1.3zM356.9 659.3h1.9v1.9h-1.9zM447.0 639.8h1.2v1.2h-1.2zM453.6 594.5h2.0v2.0h-2.0zM400.2 597.7h2.0v2.0h-2.0zM413.4 593.6h1.3v1.3h-1.3zM464.8 615.4h1.3v1.3h-1.3zM432.2 599.7h1.4v1.4h-1.4zM404.5 590.8h1.6v1.6h-1.6zM385.4 603.4h1.4v1.4h-1.4zM396.8 581.3h1.9v1.9h-1.9zM307.8 600.6h1.9v1.9h-1.9zM439.0 597.2h1.3v1.3h-1.3zM369.0 615.5h1.6v1.6h-1.6zM466.7 614.8h1.7v1.7h-1.7zM320.3 615.8h1.8v1.8h-1.8zM378.9 613.8h1.5v1.5h-1.5zM478.2 644.6h1.4v1.4h-1.4zM338.1 603.5h1.7v1.7h-1.7zM401.9 625.9h1.8v1.8h-1.8zM400.5 589.6h1.6v1.6h-1.6zM441.3 635.2h1.5v1.5h-1.5zM351.9 595.1h1.7v1.7h-1.7zM424.6 593.1h1.6v1.6h-1.6zM392.9 583.6h1.8v1.8h-1.8zM393.3 598.7h1.6v1.6h-1.6zM427.1 659.7h1.4v1.4h-1.4zM395.1 592.3h1.5v1.5h-1.5zM328.4 606.4h1.8v1.8h-1.8zM470.9 633.8h1.4v1.4h-1.4zM391.9 619.5h1.5v1.5h-1.5zM406.8 582.8h1.8v1.8h-1.8zM306.0 608.0h1.9v1.9h-1.9zM457.8 607.7h1.9v1.9h-1.9zM381.7 594.2h1.9v1.9h-1.9zM454.0 629.5h1.5v1.5h-1.5zM383.9 603.3h1.6v1.6h-1.6zM456.7 598.4h1.7v1.7h-1.7zM433.2 626.2h1.7v1.7h-1.7zM423.6 614.6h1.5v1.5h-1.5zM323.3 642.8h1.2v1.2h-1.2zM393.0 594.5h1.5v1.5h-1.5zM408.5 652.2h1.5v1.5h-1.5zM474.2 617.8h1.3v1.3h-1.3zM376.9 584.9h1.9v1.9h-1.9zM322.7 623.8h1.8v1.8h-1.8zM420.2 591.4h1.6v1.6h-1.6zM489.7 631.4h1.4v1.4h-1.4zM384.5 585.4h1.8v1.8h-1.8zM429.3 635.1h1.7v1.7h-1.7zM443.6 621.2h1.3v1.3h-1.3zM407.5 600.4h1.8v1.8h-1.8zM382.5 615.8h1.7v1.7h-1.7zM396.2 606.7h1.7v1.7h-1.7zM428.6 587.1h1.3v1.3h-1.3zM405.0 660.4h1.3v1.3h-1.3zM436.6 631.4h1.5v1.5h-1.5zM389.2 598.7h1.8v1.8h-1.8zM351.7 634.7h1.7v1.7h-1.7zM369.7 598.9h2.0v2.0h-2.0zM367.7 655.2h1.9v1.9h-1.9zM330.0 623.2h1.5v1.5h-1.5zM372.5 613.6h1.4v1.4h-1.4zM421.2 610.8h1.5v1.5h-1.5zM436.7 601.9h1.7v1.7h-1.7zM322.6 609.9h1.6v1.6h-1.6zM311.4 615.8h1.5v1.5h-1.5zM405.5 587.5h1.9v1.9h-1.9zM411.6 641.1h1.6v1.6h-1.6zM329.0 610.7h1.4v1.4h-1.4zM407.5 665.3h1.5v1.5h-1.5zM410.2 602.7h1.5v1.5h-1.5zM434.4 613.8h1.5v1.5h-1.5zM450.9 619.7h1.9v1.9h-1.9zM359.5 624.3h1.6v1.6h-1.6zM394.5 617.4h1.5v1.5h-1.5zM461.9 626.5h1.8v1.8h-1.8zM452.4 604.4h1.3v1.3h-1.3zM402.8 649.7h1.3v1.3h-1.3zM466.9 620.5h1.6v1.6h-1.6zM398.6 637.0h1.9v1.9h-1.9zM444.8 616.7h1.9v1.9h-1.9zM305.2 610.0h1.9v1.9h-1.9zM483.5 612.8h1.8v1.8h-1.8zM308.5 610.4h1.9v1.9h-1.9zM457.2 610.0h1.4v1.4h-1.4zM475.1 605.5h1.5v1.5h-1.5zM323.0 649.2h1.3v1.3h-1.3zM361.6 603.3h1.8v1.8h-1.8zM445.3 609.0h2.0v2.0h-2.0zM390.1 611.5h1.9v1.9h-1.9zM455.3 648.3h1.8v1.8h-1.8zM383.8 622.5h1.7v1.7h-1.7zM331.8 648.3h1.7v1.7h-1.7zM355.2 660.8h1.5v1.5h-1.5zM410.0 597.5h1.3v1.3h-1.3zM378.8 587.9h1.5v1.5h-1.5zM391.1 627.6h1.7v1.7h-1.7zM334.1 607.2h1.4v1.4h-1.4zM392.5 587.9h1.6v1.6h-1.6zM479.9 635.5h1.8v1.8h-1.8zM429.5 654.4h1.7v1.7h-1.7zM315.8 641.2h1.3v1.3h-1.3zM444.4 661.3h1.6v1.6h-1.6zM344.8 606.9h1.8v1.8h-1.8zM355.9 617.7h1.4v1.4h-1.4zM412.2 586.3h1.9v1.9h-1.9zM390.8 624.1h1.2v1.2h-1.2zM435.9 593.1h1.5v1.5h-1.5zM342.8 637.0h1.9v1.9h-1.9zM382.3 588.4h1.5v1.5h-1.5zM443.8 649.9h2.0v2.0h-2.0zM311.5 643.0h1.9v1.9h-1.9zM315.7 599.4h1.4v1.4h-1.4zM402.5 638.8h1.5v1.5h-1.5zM407.7 593.1h1.8v1.8h-1.8zM364.3 617.8h1.7v1.7h-1.7zM405.8 613.8h1.4v1.4h-1.4zM398.9 607.9h1.6v1.6h-1.6zM440.8 592.8h2.0v2.0h-2.0zM341.3 601.4h1.5v1.5h-1.5zM428.6 605.5h1.8v1.8h-1.8zM414.0 587.2h1.3v1.3h-1.3zM422.9 589.1h1.5v1.5h-1.5zM398.4 658.7h1.7v1.7h-1.7zM408.4 605.8h1.3v1.3h-1.3zM364.3 589.7h1.9v1.9h-1.9zM414.4 616.3h1.4v1.4h-1.4zM468.9 612.2h1.8v1.8h-1.8zM393.3 593.9h1.9v1.9h-1.9zM382.8 635.2h1.8v1.8h-1.8zM430.6 596.3h1.4v1.4h-1.4zM470.3 643.5h1.9v1.9h-1.9zM353.6 606.7h1.8v1.8h-1.8zM401.8 581.8h1.5v1.5h-1.5zM472.9 621.8h1.4v1.4h-1.4zM385.8 642.1h1.5v1.5h-1.5zM408.5 602.6h2.0v2.0h-2.0zM394.4 603.4h1.5v1.5h-1.5zM409.7 616.3h1.9v1.9h-1.9zM318.7 607.4h1.6v1.6h-1.6zM399.3 613.1h1.5v1.5h-1.5zM453.6 621.5h1.2v1.2h-1.2zM422.1 622.7h1.3v1.3h-1.3zM376.0 595.1h1.9v1.9h-1.9zM386.3 596.3h1.6v1.6h-1.6zM313.6 604.4h1.6v1.6h-1.6zM437.5 593.1h1.8v1.8h-1.8zM408.8 585.9h1.7v1.7h-1.7zM446.7 612.4h1.2v1.2h-1.2zM358.3 606.4h1.7v1.7h-1.7zM376.1 641.4h1.7v1.7h-1.7zM376.8 586.2h1.8v1.8h-1.8zM426.5 631.9h1.4v1.4h-1.4zM473.4 606.2h2.0v2.0h-2.0zM464.8 615.3h1.8v1.8h-1.8zM322.6 656.6h1.2v1.2h-1.2zM310.3 598.9h1.3v1.3h-1.3zM434.8 595.9h1.3v1.3h-1.3zM438.3 589.3h1.9v1.9h-1.9zM463.3 658.7h1.9v1.9h-1.9zM434.0 591.6h1.7v1.7h-1.7zM366.8 659.0h1.9v1.9h-1.9zM395.5 581.7h1.3v1.3h-1.3zM350.3 618.6h1.4v1.4h-1.4zM369.1 591.1h1.3v1.3h-1.3zM333.4 612.9h1.7v1.7h-1.7zM325.1 645.8h1.8v1.8h-1.8zM464.1 623.3h1.5v1.5h-1.5zM481.7 602.5h1.9v1.9h-1.9zM391.9 604.7h1.2v1.2h-1.2zM409.4 616.3h1.9v1.9h-1.9zM334.6 631.0h1.9v1.9h-1.9zM338.3 599.0h1.6v1.6h-1.6zM477.5 598.3h1.3v1.3h-1.3zM421.6 615.4h1.5v1.5h-1.5zM427.5 607.8h1.2v1.2h-1.2zM320.4 611.7h1.5v1.5h-1.5zM383.0 602.7h1.5v1.5h-1.5zM406.6 583.5h1.6v1.6h-1.6zM447.5 614.6h1.8v1.8h-1.8zM322.9 605.9h1.3v1.3h-1.3zM324.2 600.6h1.7v1.7h-1.7zM305.0 603.7h1.8v1.8h-1.8zM312.6 599.4h1.5v1.5h-1.5zM334.6 642.0h1.9v1.9h-1.9zM300.5 598.7h1.9v1.9h-1.9zM379.6 624.9h1.5v1.5h-1.5zM322.0 598.5h1.8v1.8h-1.8zM407.0 595.2h1.8v1.8h-1.8zM336.8 615.0h1.4v1.4h-1.4zM334.8 625.3h1.6v1.6h-1.6zM381.3 590.8h1.4v1.4h-1.4zM358.5 596.0h1.7v1.7h-1.7zM357.1 606.8h1.7v1.7h-1.7zM338.7 633.4h1.2v1.2h-1.2zM353.5 651.9h1.7v1.7h-1.7zM380.8 597.9h1.9v1.9h-1.9zM409.2 600.8h1.9v1.9h-1.9zM476.2 602.9h1.2v1.2h-1.2zM429.8 624.6h1.9v1.9h-1.9zM376.8 608.8h1.9v1.9h-1.9zM417.5 630.0h1.7v1.7h-1.7zM411.5 598.6h1.4v1.4h-1.4zM381.7 585.7h1.9v1.9h-1.9zM375.6 633.2h1.6v1.6h-1.6zM430.7 609.4h1.9v1.9h-1.9zM367.8 592.1h1.8v1.8h-1.8zM304.1 615.4h2.0v2.0h-2.0zM405.2 627.9h1.2v1.2h-1.2zM404.4 601.9h1.7v1.7h-1.7zM347.4 610.8h1.8v1.8h-1.8zM332.1 633.9h1.6v1.6h-1.6zM433.7 611.8h1.3v1.3h-1.3zM432.1 624.8h1.7v1.7h-1.7zM417.9 606.6h1.2v1.2h-1.2zM399.0 593.0h1.8v1.8h-1.8zM413.7 598.9h1.3v1.3h-1.3zM361.7 609.0h1.8v1.8h-1.8zM338.0 597.0h1.4v1.4h-1.4zM463.6 616.7h1.4v1.4h-1.4zM462.2 634.3h1.6v1.6h-1.6zM459.5 615.9h1.5v1.5h-1.5zM398.4 613.0h1.9v1.9h-1.9zM428.2 593.8h1.3v1.3h-1.3zM319.6 622.1h1.8v1.8h-1.8zM345.5 631.4h1.9v1.9h-1.9zM395.5 597.7h1.4v1.4h-1.4zM324.5 603.5h1.3v1.3h-1.3zM397.3 643.1h1.4v1.4h-1.4zM357.5 604.9h1.4v1.4h-1.4zM451.5 623.8h1.5v1.5h-1.5zM490.3 599.0h1.3v1.3h-1.3zM329.9 629.3h1.3v1.3h-1.3zM379.0 591.3h1.3v1.3h-1.3zM316.9 604.4h1.6v1.6h-1.6zM405.4 641.0h1.2v1.2h-1.2zM462.0 625.5h1.6v1.6h-1.6zM401.1 582.6h1.5v1.5h-1.5zM411.0 591.1h1.4v1.4h-1.4zM382.8 640.1h1.2v1.2h-1.2zM330.2 624.4h1.6v1.6h-1.6zM395.9 610.7h1.6v1.6h-1.6zM324.9 608.1h1.7v1.7h-1.7zM436.7 601.6h1.9v1.9h-1.9zM318.9 606.5h1.5v1.5h-1.5zM418.9 583.8h1.3v1.3h-1.3zM397.7 614.8h1.3v1.3h-1.3zM380.8 613.9h1.5v1.5h-1.5zM334.9 612.5h1.3v1.3h-1.3zM319.9 599.2h1.5v1.5h-1.5zM372.5 645.2h1.4v1.4h-1.4zM322.6 606.5h1.4v1.4h-1.4zM351.5 630.7h1.8v1.8h-1.8zM362.3 591.3h1.3v1.3h-1.3zM354.8 621.4h1.4v1.4h-1.4zM448.2 655.2h1.7v1.7h-1.7zM459.4 603.7h2.0v2.0h-2.0zM456.3 611.9h1.3v1.3h-1.3zM358.4 613.9h1.6v1.6h-1.6zM406.2 616.7h1.6v1.6h-1.6zM371.3 638.0h1.8v1.8h-1.8zM353.8 600.7h1.3v1.3h-1.3zM418.1 614.6h1.3v1.3h-1.3zM406.7 605.5h1.5v1.5h-1.5zM438.5 629.1h1.9v1.9h-1.9zM417.6 584.1h1.6v1.6h-1.6zM378.1 637.8h1.9v1.9h-1.9zM345.8 617.1h1.8v1.8h-1.8zM445.2 601.2h1.9v1.9h-1.9zM334.6 609.0h1.6v1.6h-1.6zM455.1 622.5h1.9v1.9h-1.9zM280.7 634.9h1.2v1.2h-1.2zM445.9 641.7h1.7v1.7h-1.7zM463.7 600.1h1.3v1.3h-1.3zM425.4 594.4h1.8v1.8h-1.8zM304.1 607.1h1.5v1.5h-1.5zM386.6 630.8h1.8v1.8h-1.8zM346.0 603.7h1.6v1.6h-1.6zM384.6 598.6h1.8v1.8h-1.8zM415.3 600.3h1.7v1.7h-1.7zM486.8 600.8h1.9v1.9h-1.9zM446.4 641.4h1.6v1.6h-1.6zM323.2 604.4h1.8v1.8h-1.8zM404.6 587.3h1.8v1.8h-1.8zM402.2 609.2h1.5v1.5h-1.5zM393.4 606.4h1.7v1.7h-1.7zM440.2 621.3h1.4v1.4h-1.4zM377.3 641.3h1.8v1.8h-1.8zM356.0 598.1h1.8v1.8h-1.8zM418.2 627.5h1.8v1.8h-1.8zM356.9 636.3h1.4v1.4h-1.4zM421.6 643.2h1.4v1.4h-1.4zM405.3 591.9h1.9v1.9h-1.9zM416.4 595.0h1.4v1.4h-1.4zM459.8 601.0h2.0v2.0h-2.0zM446.9 628.6h2.0v2.0h-2.0zM469.6 604.2h1.9v1.9h-1.9zM396.8 586.5h1.8v1.8h-1.8zM419.0 627.4h1.5v1.5h-1.5zM334.2 614.6h1.6v1.6h-1.6zM399.1 627.4h1.7v1.7h-1.7zM435.7 588.0h1.5v1.5h-1.5zM464.2 625.5h1.3v1.3h-1.3zM443.2 620.2h1.2v1.2h-1.2zM430.2 610.1h1.5v1.5h-1.5zM397.8 618.7h1.7v1.7h-1.7zM419.6 596.2h1.5v1.5h-1.5zM394.6 612.4h1.7v1.7h-1.7zM369.6 611.9h1.5v1.5h-1.5zM464.8 605.2h1.9v1.9h-1.9zM443.5 622.1h2.0v2.0h-2.0zM368.5 606.0h1.8v1.8h-1.8zM365.9 587.5h1.4v1.4h-1.4zM470.4 630.7h1.6v1.6h-1.6zM417.8 615.0h1.5v1.5h-1.5zM451.8 611.5h1.8v1.8h-1.8zM377.2 632.3h1.8v1.8h-1.8zM377.7 604.1h1.7v1.7h-1.7zM471.1 612.4h1.7v1.7h-1.7zM397.4 597.5h1.9v1.9h-1.9zM310.9 600.1h1.5v1.5h-1.5zM316.6 639.7h1.9v1.9h-1.9zM384.4 613.2h1.6v1.6h-1.6zM417.2 600.0h1.7v1.7h-1.7zM495.7 599.4h1.8v1.8h-1.8zM437.1 621.4h1.9v1.9h-1.9zM412.2 620.2h1.4v1.4h-1.4zM443.5 601.2h1.4v1.4h-1.4zM361.2 618.5h1.5v1.5h-1.5zM415.6 607.5h1.6v1.6h-1.6zM361.5 611.0h1.4v1.4h-1.4zM425.0 584.4h1.7v1.7h-1.7zM424.6 586.0h1.6v1.6h-1.6zM363.9 591.8h1.6v1.6h-1.6zM306.6 596.8h1.7v1.7h-1.7zM422.7 600.7h1.6v1.6h-1.6zM428.4 616.8h1.7v1.7h-1.7zM479.0 622.7h1.3v1.3h-1.3zM477.0 602.7h1.3v1.3h-1.3zM304.3 597.1h1.5v1.5h-1.5zM442.2 605.0h1.8v1.8h-1.8zM333.8 602.7h1.4v1.4h-1.4zM466.3 627.2h1.3v1.3h-1.3zM302.9 601.4h1.8v1.8h-1.8zM446.7 650.8h1.9v1.9h-1.9zM396.6 604.8h1.6v1.6h-1.6zM342.3 614.8h1.5v1.5h-1.5zM410.8 655.8h1.4v1.4h-1.4zM382.6 596.0h1.8v1.8h-1.8zM461.1 626.9h1.6v1.6h-1.6zM380.5 658.7h2.0v2.0h-2.0zM451.2 615.8h2.0v2.0h-2.0zM392.2 590.4h1.3v1.3h-1.3zM382.9 628.8h1.5v1.5h-1.5zM381.0 636.0h1.6v1.6h-1.6zM358.3 596.9h1.5v1.5h-1.5zM338.1 612.7h1.2v1.2h-1.2zM439.1 627.1h1.5v1.5h-1.5zM303.7 611.5h1.4v1.4h-1.4zM324.1 601.5h1.8v1.8h-1.8zM488.3 632.9h1.8v1.8h-1.8zM405.3 588.8h1.4v1.4h-1.4zM348.5 607.1h1.9v1.9h-1.9zM469.0 612.0h1.7v1.7h-1.7zM401.2 585.3h1.4v1.4h-1.4zM431.8 592.5h1.6v1.6h-1.6zM417.8 650.0h1.7v1.7h-1.7zM436.6 637.1h1.9v1.9h-1.9zM423.1 664.7h1.7v1.7h-1.7zM336.4 606.4h1.9v1.9h-1.9zM315.6 611.3h1.9v1.9h-1.9zM441.4 622.9h1.5v1.5h-1.5zM324.1 629.4h1.9v1.9h-1.9zM422.3 609.9h1.3v1.3h-1.3zM437.3 611.7h1.9v1.9h-1.9zM360.3 595.1h1.3v1.3h-1.3zM431.0 594.3h1.4v1.4h-1.4zM364.8 658.2h1.5v1.5h-1.5zM378.8 606.8h1.5v1.5h-1.5zM296.2 625.0h1.8v1.8h-1.8zM376.6 637.4h2.0v2.0h-2.0zM367.9 656.3h2.0v2.0h-2.0zM345.6 635.4h1.2v1.2h-1.2zM484.5 612.0h1.8v1.8h-1.8zM446.2 598.4h1.4v1.4h-1.4zM416.5 587.8h1.9v1.9h-1.9zM360.3 593.1h1.7v1.7h-1.7zM457.7 599.9h1.8v1.8h-1.8zM417.5 591.4h1.9v1.9h-1.9zM337.4 614.9h1.8v1.8h-1.8zM410.0 606.3h2.0v2.0h-2.0zM422.6 585.0h1.4v1.4h-1.4zM446.1 617.6h1.7v1.7h-1.7zM468.8 632.9h1.7v1.7h-1.7zM478.2 601.2h1.3v1.3h-1.3zM335.8 619.9h1.9v1.9h-1.9zM425.8 599.7h1.7v1.7h-1.7zM314.7 629.2h1.4v1.4h-1.4zM302.4 615.9h1.2v1.2h-1.2zM375.3 590.9h1.9v1.9h-1.9zM430.4 617.1h1.9v1.9h-1.9zM386.7 597.0h1.3v1.3h-1.3zM303.3 612.3h1.5v1.5h-1.5zM464.7 608.1h1.4v1.4h-1.4zM446.5 607.2h1.9v1.9h-1.9zM419.2 613.7h1.8v1.8h-1.8zM416.1 609.3h1.4v1.4h-1.4zM343.9 617.9h1.4v1.4h-1.4zM464.8 630.7h1.2v1.2h-1.2zM424.5 628.5h1.4v1.4h-1.4zM436.2 664.1h2.0v2.0h-2.0zM416.1 653.9h2.0v2.0h-2.0zM441.6 605.6h1.9v1.9h-1.9zM411.9 625.0h1.4v1.4h-1.4zM472.7 608.7h1.9v1.9h-1.9zM352.3 636.8h1.8v1.8h-1.8zM379.4 592.7h1.5v1.5h-1.5zM458.2 659.5h1.5v1.5h-1.5zM314.8 621.1h1.5v1.5h-1.5zM443.5 606.1h1.4v1.4h-1.4zM408.3 619.1h2.0v2.0h-2.0zM364.8 592.7h1.2v1.2h-1.2zM321.0 646.6h1.5v1.5h-1.5zM298.0 607.6h1.9v1.9h-1.9zM317.2 609.5h1.2v1.2h-1.2zM452.6 608.2h1.2v1.2h-1.2zM335.4 602.9h1.2v1.2h-1.2zM387.1 652.1h1.6v1.6h-1.6zM407.8 625.9h1.5v1.5h-1.5zM443.5 594.5h2.0v2.0h-2.0zM483.4 608.2h1.7v1.7h-1.7zM352.9 607.1h1.9v1.9h-1.9zM456.7 599.7h1.5v1.5h-1.5zM390.2 593.0h1.5v1.5h-1.5zM375.2 594.8h1.4v1.4h-1.4zM327.5 624.4h2.0v2.0h-2.0zM332.8 628.7h1.4v1.4h-1.4zM353.1 617.9h1.3v1.3h-1.3zM464.5 596.3h1.7v1.7h-1.7zM450.4 658.3h1.7v1.7h-1.7zM405.8 633.9h1.8v1.8h-1.8zM439.2 589.2h1.2v1.2h-1.2zM386.8 615.6h1.4v1.4h-1.4zM384.3 613.6h1.5v1.5h-1.5zM323.1 611.4h1.5v1.5h-1.5zM375.2 633.7h1.9v1.9h-1.9zM315.8 620.7h1.6v1.6h-1.6zM451.7 594.9h1.5v1.5h-1.5zM416.2 631.0h1.4v1.4h-1.4zM457.3 602.1h1.3v1.3h-1.3zM308.2 607.5h1.5v1.5h-1.5zM429.9 590.9h1.4v1.4h-1.4zM394.4 603.6h2.0v2.0h-2.0zM452.7 615.7h1.9v1.9h-1.9zM352.4 593.8h1.5v1.5h-1.5zM376.6 616.5h1.5v1.5h-1.5zM420.2 586.7h1.4v1.4h-1.4zM422.6 620.5h1.5v1.5h-1.5zM301.1 623.5h1.6v1.6h-1.6zM464.9 599.4h1.2v1.2h-1.2zM455.3 598.5h2.0v2.0h-2.0zM422.7 605.1h1.6v1.6h-1.6zM372.0 592.4h1.4v1.4h-1.4zM396.9 602.4h1.9v1.9h-1.9zM303.9 612.0h1.2v1.2h-1.2zM352.4 638.8h1.8v1.8h-1.8zM434.3 650.0h1.8v1.8h-1.8zM328.0 622.5h1.5v1.5h-1.5zM374.9 601.2h2.0v2.0h-2.0zM457.2 605.0h1.3v1.3h-1.3zM379.1 613.4h1.3v1.3h-1.3zM424.0 590.4h1.5v1.5h-1.5zM376.6 615.3h1.5v1.5h-1.5zM390.1 606.0h1.4v1.4h-1.4zM451.5 611.5h1.9v1.9h-1.9zM375.5 621.3h1.7v1.7h-1.7zM415.0 599.9h1.8v1.8h-1.8zM314.9 605.0h1.7v1.7h-1.7zM388.9 582.6h1.9v1.9h-1.9zM444.6 616.1h1.8v1.8h-1.8zM351.5 628.2h1.8v1.8h-1.8zM463.6 603.6h1.4v1.4h-1.4zM404.8 601.2h1.6v1.6h-1.6zM443.7 653.3h1.7v1.7h-1.7zM507.1 610.8h1.4v1.4h-1.4zM476.6 619.9h2.0v2.0h-2.0zM357.4 629.6h1.7v1.7h-1.7zM366.2 603.5h1.6v1.6h-1.6zM483.1 601.3h1.2v1.2h-1.2zM460.6 653.5h1.8v1.8h-1.8zM388.7 608.8h1.9v1.9h-1.9zM461.3 605.4h1.7v1.7h-1.7zM413.1 583.3h1.3v1.3h-1.3zM392.6 649.1h1.4v1.4h-1.4zM486.5 632.3h1.6v1.6h-1.6zM368.2 643.7h1.6v1.6h-1.6zM331.9 615.3h1.3v1.3h-1.3zM425.8 585.3h1.9v1.9h-1.9zM436.9 599.1h1.9v1.9h-1.9zM318.6 626.9h1.5v1.5h-1.5zM467.8 600.9h2.0v2.0h-2.0zM467.8 597.9h1.4v1.4h-1.4zM391.5 592.5h1.8v1.8h-1.8zM408.9 612.1h1.5v1.5h-1.5zM365.6 620.5h1.6v1.6h-1.6zM481.7 607.9h1.7v1.7h-1.7zM353.4 613.5h1.9v1.9h-1.9zM326.2 628.1h1.4v1.4h-1.4zM406.6 628.4h1.7v1.7h-1.7zM378.9 627.5h1.8v1.8h-1.8zM293.6 599.7h1.8v1.8h-1.8zM401.8 624.8h1.8v1.8h-1.8zM298.2 603.4h1.7v1.7h-1.7zM418.2 599.0h1.5v1.5h-1.5z"/>
<path fill="#3030ff" d="M358.3 611.2h1.7v1.7h-1.7zM456.5 601.7h1.3v1.3h-1.3zM369.9 592.6h1.4v1.4h-1.4zM330.1 638.8h1.4v1.4h-1.4zM360.9 600.3h1.4v1.4h-1.4zM364.5 648.7h1.6v1.6h-1.6zM430.4 589.0h1.8v1.8h-1.8zM384.1 652.4h1.3v1.3h-1.3zM384.8 601.4h1.7v1.7h-1.7zM355.7 664.2h2.0v2.0h-2.0zM398.5 604.5h2.0v2.0h-2.0zM403.7 600.1h1.9v1.9h-1.9zM403.3 596.9h1.6v1.6h-1.6zM461.1 604.6h1.2v1.2h-1.2zM384.6 652.5h1.7v1.7h-1.7zM471.2 604.2h1.5v1.5h-1.5zM338.7 620.6h1.6v1.6h-1.6zM326.4 613.4h1.5v1.5h-1.5zM378.8 596.1h1.9v1.9h-1.9zM494.9 612.6h1.9v1.9h-1.9zM376.2 611.8h1.6v1.6h-1.6zM355.7 593.0h1.6v1.6h-1.6zM348.7 650.6h1.6v1.6h-1.6zM397.6 615.5h1.3v1.3h-1.3zM332.3 613.2h1.5v1.5h-1.5zM342.3 604.7h2.0v2.0h-2.0zM374.1 655.6h1.4v1.4h-1.4zM419.7 602.4h1.6v1.6h-1.6zM416.7 588.5h1.2v1.2h-1.2zM333.5 616.4h1.2v1.2h-1.2zM345.8 613.6h1.5v1.5h-1.5zM410.7 582.1h1.5v1.5h-1.5zM468.0 643.2h1.4v1.4h-1.4zM308.4 612.6h2.0v2.0h-2.0zM349.6 662.0h2.0v2.0h-2.0zM479.7 603.5h1.7v1.7h-1.7zM323.7 629.1h1.7v1.7h-1.7zM402.4 585.3h1.8v1.8h-1.8zM456.9 599.9h1.9v1.9h-1.9zM475.3 604.1h1.4v1.4h-1.4zM417.9 602.9h1.6v1.6h-1.6zM382.8 636.8h1.5v1.5h-1.5zM319.3 661.9h1.7v1.7h-1.7zM406.8 581.7h1.6v1.6h-1.6zM324.5 612.2h1.7v1.7h-1.7zM355.7 639.1h1.4v1.4h-1.4zM331.5 602.7h1.5v1.5h-1.5zM427.3 619.0h1.8v1.8h-1.8zM321.8 604.5h1.5v1.5h-1.5zM486.3 621.5h1.9v1.9h-1.9zM357.0 600.7h1.9v1.9h-1.9zM327.5 617.6h1.9v1.9h-1.9zM366.4 595.8h1.7v1.7h-1.7zM352.6 620.8h1.7v1.7h-1.7zM480.2 602.7h1.6v1.6h-1.6zM348.0 597.0h1.2v1.2h-1.2zM453.8 610.3h2.0v2.0h-2.0zM423.5 635.5h1.3v1.3h-1.3zM494.2 602.9h1.4v1.4h-1.4zM444.6 612.9h2.0v2.0h-2.0zM413.5 612.6h1.4v1.4h-1.4zM410.9 616.2h1.5v1.5h-1.5zM405.9 590.5h1.6v1.6h-1.6zM333.1 605.1h2.0v2.0h-2.0zM415.1 585.7h1.6v1.6h-1.6zM481.1 627.1h1.9v1.9h-1.9zM413.0 586.5h1.4v1.4h-1.4zM324.2 648.7h1.9v1.9h-1.9zM470.6 604.0h1.8v1.8h-1.8zM390.9 612.8h1.3v1.3h-1.3zM403.2 649.1h1.3v1.3h-1.3zM469.3 635.2h1.3v1.3h-1.3zM480.1 608.4h1.9v1.9h-1.9zM403.0 581.8h1.4v1.4h-1.4zM338.2 605.6h1.4v1.4h-1.4zM386.6 631.6h1.6v1.6h-1.6zM453.7 615.2h1.9v1.9h-1.9zM419.8 589.8h1.8v1.8h-1.8zM399.6 601.4h1.4v1.4h-1.4zM454.5 650.1h1.8v1.8h-1.8zM348.1 593.6h1.7v1.7h-1.7zM315.5 608.7h1.4v1.4h-1.4zM303.9 598.6h2.0v2.0h-2.0zM343.8 624.8h1.6v1.6h-1.6zM315.0 607.7h1.6v1.6h-1.6zM444.9 614.2h1.4v1.4h-1.4zM424.3 603.7h1.9v1.9h-1.9zM397.6 600.4h1.6v1.6h-1.6zM476.9 614.4h2.0v2.0h-2.0zM470.9 604.4h1.9v1.9h-1.9zM427.3 627.4h1.8v1.8h-1.8zM427.8 589.3h1.2v1.2h-1.2zM321.8 657.0h1.8v1.8h-1.8zM505.1 658.3h1.6v1.6h-1.6zM416.9 600.8h1.8v1.8h-1.8zM334.1 596.9h1.9v1.9h-1.9zM401.3 602.7h1.9v1.9h-1.9zM367.7 603.0h1.9v1.9h-1.9zM391.6 588.9h1.2v1.2h-1.2zM407.6 608.3h1.8v1.8h-1.8zM406.8 618.0h1.3v1.3h-1.3zM448.5 600.7h1.6v1.6h-1.6zM402.6 584.9h1.6v1.6h-1.6zM339.6 610.6h1.8v1.8h-1.8zM395.4 655.6h1.2v1.2h-1.2zM407.8 586.5h1.8v1.8h-1.8zM431.1 596.7h2.0v2.0h-2.0zM389.9 609.9h1.8v1.8h-1.8zM491.6 599.5h1.6v1.6h-1.6zM327.7 641.4h1.6v1.6h-1.6zM350.3 605.0h1.2v1.2h-1.2zM352.4 612.3h1.9v1.9h-1.9zM442.2 594.0h1.9v1.9h-1.9zM375.5 587.4h1.6v1.6h-1.6zM463.6 657.0h1.6v1.6h-1.6zM343.2 626.4h1.4v1.4h-1.4zM488.4 632.7h1.9v1.9h-1.9zM479.4 628.8h1.3v1.3h-1.3zM313.1 609.9h1.8v1.8h-1.8zM478.3 614.5h1.4v1.4h-1.4zM443.5 608.6h1.5v1.5h-1.5zM327.6 612.6h1.8v1.8h-1.8zM419.7 652.5h2.0v2.0h-2.0zM361.1 599.7h1.6v1.6h-1.6zM460.2 603.8h1.4v1.4h-1.4zM478.3 611.2h1.5v1.5h-1.5zM431.3 617.5h1.3v1.3h-1.3zM357.1 631.0h2.0v2.0h-2.0zM419.4 602.2h1.3v1.3h-1.3zM484.7 600.4h1.8v1.8h-1.8zM433.4 591.7h1.5v1.5h-1.5zM465.8 623.0h1.6v1.6h-1.6zM364.3 621.1h1.6v1.6h-1.6zM373.9 657.8h2.0v2.0h-2.0zM424.4 586.5h1.4v1.4h-1.4zM477.3 604.0h1.2v1.2h-1.2zM355.3 596.1h1.6v1.6h-1.6zM430.3 606.8h2.0v2.0h-2.0zM445.3 622.0h1.7v1.7h-1.7zM414.8 625.2h1.9v1.9h-1.9zM321.2 618.1h1.8v1.8h-1.8zM443.0 648.4h1.3v1.3h-1.3zM346.7 607.6h1.6v1.6h-1.6zM461.1 606.2h1.9v1.9h-1.9zM486.2 604.1h1.8v1.8h-1.8zM373.4 587.1h1.4v1.4h-1.4zM468.3 618.8h1.9v1.9h-1.9zM460.5 622.5h1.9v1.9h-1.9zM390.7 628.2h1.2v1.2h-1.2zM467.0 626.8h2.0v2.0h-2.0zM378.7 659.5h1.9v1.9h-1.9zM352.0 601.4h1.8v1.8h-1.8zM407.9 595.9h1.9v1.9h-1.9zM471.6 609.4h1.9v1.9h-1.9zM350.2 609.6h1.4v1.4h-1.4zM477.2 611.9h1.6v1.6h-1.6zM431.9 596.8h1.7v1.7h-1.7zM379.4 649.6h2.0v2.0h-2.0zM354.8 631.7h1.6v1.6h-1.6zM402.6 616.7h1.5v1.5h-1.5zM448.0 600.9h1.5v1.5h-1.5zM479.4 612.5h1.5v1.5h-1.5zM463.4 631.3h1.9v1.9h-1.9zM490.0 606.3h1.2v1.2h-1.2zM436.0 609.0h1.2v1.2h-1.2zM306.9 599.6h1.8v1.8h-1.8zM357.3 616.1h1.5v1.5h-1.5zM466.2 605.1h1.2v1.2h-1.2zM320.0 652.0h1.5v1.5h-1.5zM348.9 627.5h1.6v1.6h-1.6zM375.0 622.1h1.8v1.8h-1.8zM461.8 618.2h1.8v1.8h-1.8zM437.6 598.7h1.4v1.4h-1.4zM378.2 644.5h1.7v1.7h-1.7zM387.2 622.7h1.8v1.8h-1.8zM437.6 588.9h2.0v2.0h-2.0zM326.9 598.1h1.3v1.3h-1.3zM333.3 613.4h1.9v1.9h-1.9zM465.1 663.8h1.3v1.3h-1.3zM395.9 591.4h1.9v1.9h-1.9zM387.5 589.8h2.0v2.0h-2.0zM398.2 590.2h1.4v1.4h-1.4zM439.1 606.8h1.5v1.5h-1.5zM350.0 605.5h1.8v1.8h-1.8zM319.3 643.4h1.6v1.6h-1.6zM368.5 603.9h1.5v1.5h-1.5zM412.6 595.0h1.4v1.4h-1.4zM414.1 592.6h1.2v1.2h-1.2zM393.5 594.1h1.9v1.9h-1.9zM349.8 609.2h1.6v1.6h-1.6zM434.1 592.6h1.4v1.4h-1.4zM427.7 603.3h1.2v1.2h-1.2zM381.9 613.7h1.6v1.6h-1.6zM458.9 616.9h2.0v2.0h-2.0zM406.9 654.6h1.4v1.4h-1.4zM339.1 629.1h1.4v1.4h-1.4zM430.7 627.9h1.9v1.9h-1.9zM404.2 585.9h1.3v1.3h-1.3zM395.1 607.2h1.8v1.8h-1.8zM295.2 603.0h1.6v1.6h-1.6zM372.2 605.7h1.4v1.4h-1.4zM364.5 618.6h2.0v2.0h-2.0zM363.4 608.0h1.5v1.5h-1.5zM302.8 615.3h1.4v1.4h-1.4zM300.2 628.6h1.7v1.7h-1.7zM412.2 617.4h1.7v1.7h-1.7zM319.9 653.9h1.5v1.5h-1.5zM384.9 649.3h1.2v1.2h-1.2zM355.8 591.8h1.9v1.9h-1.9zM354.7 596.4h1.7v1.7h-1.7zM384.4 617.8h1.8v1.8h-1.8zM381.3 616.7h1.5v1.5h-1.5zM365.4 649.6h1.2v1.2h-1.2zM378.9 606.8h1.8v1.8h-1.8zM419.3 637.2h1.3v1.3h-1.3zM400.1 581.7h1.8v1.8h-1.8zM439.4 639.6h1.4v1.4h-1.4zM365.3 618.3h1.6v1.6h-1.6zM340.6 619.8h1.5v1.5h-1.5zM444.6 595.8h1.6v1.6h-1.6zM417.2 610.8h1.8v1.8h-1.8zM432.8 592.9h1.6v1.6h-1.6zM354.2 619.3h1.5v1.5h-1.5zM469.8 627.5h1.6v1.6h-1.6zM465.3 657.2h1.7v1.7h-1.7zM441.9 592.4h1.4v1.4h-1.4zM490.7 604.7h1.5v1.5h-1.5zM409.2 597.8h1.5v1.5h-1.5zM426.2 616.6h1.6v1.6h-1.6z"/>
<path fill="#30d040" d="M423.4 590.5h1.7v1.7h-1.7zM322.2 599.3h1.7v1.7h-1.7zM342.8 608.8h1.4v1.4h-1.4zM347.5 608.4h2.0v2.0h-2.0zM371.0 596.4h1.7v1.7h-1.7zM488.8 615.2h1.6v1.6h-1.6zM436.6 617.2h1.7v1.7h-1.7zM436.1 599.1h1.8v1.8h-1.8zM395.7 611.7h1.4v1.4h-1.4zM395.6 583.1h1.7v1.7h-1.7zM396.4 599.5h1.5v1.5h-1.5zM439.1 600.7h1.6v1.6h-1.6zM401.2 600.3h1.8v1.8h-1.8zM349.4 618.2h1.4v1.4h-1.4zM416.9 588.9h1.5v1.5h-1.5zM480.1 616.3h1.6v1.6h-1.6zM467.5 623.1h1.7v1.7h-1.7zM448.4 599.1h1.6v1.6h-1.6zM401.1 600.6h1.8v1.8h-1.8zM348.6 630.6h1.4v1.4h-1.4zM401.4 594.9h1.3v1.3h-1.3zM311.2 601.4h1.5v1.5h-1.5zM411.9 586.3h1.5v1.5h-1.5zM423.8 636.2h1.9v1.9h-1.9zM348.0 616.4h1.7v1.7h-1.7zM395.1 606.3h1.8v1.8h-1.8zM465.0 623.1h1.7v1.7h-1.7zM365.6 600.0h1.5v1.5h-1.5zM485.9 601.1h1.4v1.4h-1.4zM471.5 651.4h1.8v1.8h-1.8zM382.4 585.8h1.7v1.7h-1.7zM413.1 588.3h1.2v1.2h-1.2zM413.4 594.0h1.7v1.7h-1.7zM441.4 611.7h1.7v1.7h-1.7zM410.7 584.0h1.7v1.7h-1.7zM471.8 639.3h1.3v1.3h-1.3zM396.6 629.1h1.6v1.6h-1.6zM365.0 639.9h1.3v1.3h-1.3zM346.3 627.8h2.0v2.0h-2.0zM493.2 650.0h1.9v1.9h-1.9zM472.4 628.1h1.9v1.9h-1.9zM493.1 607.0h1.5v1.5h-1.5zM427.2 612.9h1.7v1.7h-1.7zM352.8 599.7h1.5v1.5h-1.5zM385.6 582.9h1.7v1.7h-1.7zM418.6 590.9h1.6v1.6h-1.6zM451.5 594.0h1.8v1.8h-1.8zM436.1 606.8h1.2v1.2h-1.2zM433.5 643.7h1.3v1.3h-1.3zM379.0 643.3h1.4v1.4h-1.4zM364.6 589.4h1.5v1.5h-1.5zM352.4 600.4h1.8v1.8h-1.8zM408.9 609.8h1.3v1.3h-1.3zM395.9 640.2h1.2v1.2h-1.2zM284.2 621.7h1.5v1.5h-1.5zM404.3 583.3h1.8v1.8h-1.8zM358.2 626.6h1.9v1.9h-1.9zM487.2 602.6h1.5v1.5h-1.5zM417.8 605.3h1.9v1.9h-1.9zM346.3 598.9h1.4v1.4h-1.4zM353.2 651.6h2.0v2.0h-2.0zM451.8 611.1h1.7v1.7h-1.7zM371.2 623.6h1.4v1.4h-1.4zM436.3 630.6h1.5v1.5h-1.5zM418.9 606.8h1.6v1.6h-1.6zM432.4 641.0h1.9v1.9h-1.9zM388.6 583.4h1.3v1.3h-1.3zM345.4 609.9h1.3v1.3h-1.3zM423.9 594.5h1.8v1.8h-1.8zM311.2 640.0h1.8v1.8h-1.8zM363.6 591.3h1.8v1.8h-1.8zM457.6 656.0h1.4v1.4h-1.4zM380.9 604.9h1.3v1.3h-1.3z"/>
<path fill="#e01050" d="M413.1 650.8h1.4v1.4h-1.4zM391.4 622.0h1.5v1.5h-1.5zM398.6 597.9h2.0v2.0h-2.0zM407.5 582.1h1.9v1.9h-1.9zM377.6 589.5h1.3v1.3h-1.3zM429.8 586.4h1.8v1.8h-1.8zM453.8 623.8h1.3v1.3h-1.3zM404.8 616.2h2.0v2.0h-2.0zM434.6 656.8h2.0v2.0h-2.0zM354.3 638.1h1.6v1.6h-1.6zM389.2 640.5h1.6v1.6h-1.6zM356.2 595.4h1.3v1.3h-1.3zM435.8 593.6h1.9v1.9h-1.9zM447.4 599.7h1.5v1.5h-1.5zM471.9 603.3h1.3v1.3h-1.3zM354.8 605.8h1.5v1.5h-1.5zM395.6 605.4h1.6v1.6h-1.6zM313.5 623.4h1.3v1.3h-1.3zM431.2 595.9h1.7v1.7h-1.7zM399.0 588.9h1.7v1.7h-1.7zM426.7 601.4h1.7v1.7h-1.7zM372.4 615.9h1.7v1.7h-1.7zM398.6 615.1h1.5v1.5h-1.5zM445.6 626.5h1.7v1.7h-1.7zM447.7 598.9h1.6v1.6h-1.6zM359.5 612.0h1.8v1.8h-1.8zM394.9 583.2h1.6v1.6h-1.6zM449.4 608.8h1.4v1.4h-1.4zM376.4 591.4h1.8v1.8h-1.8zM472.7 603.8h1.8v1.8h-1.8zM412.4 589.3h1.7v1.7h-1.7zM413.3 633.5h1.4v1.4h-1.4zM385.3 629.8h1.5v1.5h-1.5zM357.8 635.8h1.3v1.3h-1.3zM340.9 594.8h1.8v1.8h-1.8zM438.6 635.2h1.6v1.6h-1.6zM466.5 610.7h1.3v1.3h-1.3zM424.2 664.8h1.5v1.5h-1.5zM318.2 617.1h1.3v1.3h-1.3zM411.7 598.1h1.5v1.5h-1.5zM324.8 599.6h1.3v1.3h-1.3zM480.8 634.8h1.3v1.3h-1.3zM386.1 585.2h1.6v1.6h-1.6zM415.1 583.3h1.3v1.3h-1.3zM384.2 585.9h1.8v1.8h-1.8zM375.2 654.6h1.6v1.6h-1.6zM315.5 649.2h1.3v1.3h-1.3zM297.7 609.0h1.4v1.4h-1.4zM310.7 621.9h1.4v1.4h-1.4zM327.8 600.3h1.4v1.4h-1.4zM380.5 587.7h1.8v1.8h-1.8zM395.3 620.8h1.9v1.9h-1.9zM317.2 610.9h1.6v1.6h-1.6zM325.7 647.7h1.6v1.6h-1.6zM364.9 608.2h1.2v1.2h-1.2zM330.4 620.1h1.3v1.3h-1.3zM444.7 643.1h1.8v1.8h-1.8zM331.0 635.3h1.8v1.8h-1.8zM428.7 596.3h1.6v1.6h-1.6zM430.0 605.4h1.9v1.9h-1.9zM344.0 630.7h1.4v1.4h-1.4zM297.9 607.6h2.0v2.0h-2.0zM332.1 613.6h1.4v1.4h-1.4zM408.0 610.6h1.3v1.3h-1.3zM352.7 599.4h1.4v1.4h-1.4zM435.8 625.7h1.6v1.6h-1.6zM447.1 626.3h1.7v1.7h-1.7zM365.9 635.1h2.0v2.0h-2.0zM347.1 664.1h1.6v1.6h-1.6zM304.8 607.6h1.9v1.9h-1.9zM468.0 624.7h1.5v1.5h-1.5zM395.6 633.8h1.9v1.9h-1.9zM459.5 644.1h1.5v1.5h-1.5zM415.5 589.3h1.6v1.6h-1.6zM446.8 620.1h1.7v1.7h-1.7zM304.3 607.3h1.5v1.5h-1.5zM316.8 623.7h2.0v2.0h-2.0zM312.5 628.0h1.3v1.3h-1.3zM339.1 632.4h1.8v1.8h-1.8zM472.1 633.1h1.5v1.5h-1.5zM409.1 592.7h1.4v1.4h-1.4zM360.4 607.7h1.2v1.2h-1.2zM400.7 585.0h1.9v1.9h-1.9zM430.2 606.3h1.6v1.6h-1.6zM389.9 597.0h2.0v2.0h-2.0zM444.4 604.9h1.3v1.3h-1.3zM346.4 609.6h1.5v1.5h-1.5zM418.5 621.8h1.3v1.3h-1.3zM356.4 655.4h1.7v1.7h-1.7zM312.0 623.7h1.6v1.6h-1.6zM372.4 602.9h1.7v1.7h-1.7zM310.8 630.2h1.4v1.4h-1.4zM363.8 606.0h1.4v1.4h-1.4zM414.6 596.1h1.7v1.7h-1.7zM433.6 619.1h1.6v1.6h-1.6zM397.1 605.5h1.4v1.4h-1.4zM371.2 640.6h1.2v1.2h-1.2zM380.1 653.1h1.8v1.8h-1.8zM417.8 595.6h1.6v1.6h-1.6zM401.5 600.8h1.3v1.3h-1.3zM388.3 624.3h1.4v1.4h-1.4zM411.8 586.6h1.8v1.8h-1.8zM336.3 623.2h1.7v1.7h-1.7zM350.8 615.7h1.5v1.5h-1.5zM378.3 610.0h1.5v1.5h-1.5zM439.8 630.2h1.2v1.2h-1.2zM397.0 649.8h2.0v2.0h-2.0zM475.1 624.6h1.2v1.2h-1.2zM410.0 615.5h1.7v1.7h-1.7zM376.7 597.0h1.6v1.6h-1.6zM429.9 593.2h1.4v1.4h-1.4zM401.8 597.8h2.0v2.0h-2.0zM344.1 606.2h1.3v1.3h-1.3zM444.8 594.9h1.2v1.2h-1.2zM383.5 600.2h1.6v1.6h-1.6zM440.0 608.5h1.4v1.4h-1.4zM380.4 613.5h1.9v1.9h-1.9zM407.7 596.8h1.7v1.7h-1.7zM412.8 595.7h1.6v1.6h-1.6zM399.2 583.9h1.2v1.2h-1.2zM435.2 606.5h1.2v1.2h-1.2zM372.9 586.8h1.2v1.2h-1.2zM325.3 599.9h1.4v1.4h-1.4zM436.6 627.6h1.3v1.3h-1.3zM366.0 662.6h1.2v1.2h-1.2zM326.0 597.0h1.5v1.5h-1.5zM413.8 593.9h1.4v1.4h-1.4zM372.4 645.7h1.3v1.3h-1.3zM390.7 630.2h1.7v1.7h-1.7zM333.6 610.3h1.3v1.3h-1.3zM449.4 595.2h1.9v1.9h-1.9zM469.1 648.5h2.0v2.0h-2.0zM414.7 640.2h1.6v1.6h-1.6zM322.1 613.3h2.0v2.0h-2.0zM430.6 587.8h1.5v1.5h-1.5zM356.1 607.8h1.3v1.3h-1.3zM443.4 604.0h1.9v1.9h-1.9zM401.8 602.3h1.8v1.8h-1.8zM457.8 606.8h1.2v1.2h-1.2zM418.3 600.4h1.8v1.8h-1.8zM408.0 649.0h1.5v1.5h-1.5zM297.1 596.8h1.4v1.4h-1.4zM473.4 599.5h1.4v1.4h-1.4zM366.7 600.8h1.4v1.4h-1.4zM414.0 596.8h1.8v1.8h-1.8zM458.9 615.9h2.0v2.0h-2.0zM324.8 624.5h1.6v1.6h-1.6zM475.7 620.9h1.3v1.3h-1.3zM327.7 619.1h1.8v1.8h-1.8zM428.6 630.0h1.5v1.5h-1.5zM438.0 616.8h1.5v1.5h-1.5zM472.3 597.1h1.4v1.4h-1.4zM417.1 593.1h1.7v1.7h-1.7zM423.1 640.2h1.7v1.7h-1.7zM447.7 657.2h1.6v1.6h-1.6zM396.0 649.5h1.4v1.4h-1.4zM478.4 597.1h1.9v1.9h-1.9zM490.0 610.0h1.6v1.6h-1.6zM421.9 617.9h1.4v1.4h-1.4zM401.0 583.2h2.0v2.0h-2.0zM360.4 604.9h1.7v1.7h-1.7zM369.7 645.9h1.6v1.6h-1.6zM317.3 619.0h1.3v1.3h-1.3zM467.7 607.5h1.6v1.6h-1.6zM404.8 586.0h1.9v1.9h-1.9zM465.7 625.1h1.5v1.5h-1.5zM411.0 621.7h1.7v1.7h-1.7zM355.4 612.9h1.8v1.8h-1.8zM401.7 611.4h1.9v1.9h-1.9zM376.5 607.7h1.3v1.3h-1.3zM361.5 601.8h1.3v1.3h-1.3zM454.0 615.0h1.3v1.3h-1.3zM389.8 604.6h1.8v1.8h-1.8zM388.2 589.5h1.3v1.3h-1.3z"/>
<path fill="#a020c0" d="M370.3 587.7h1.8v1.8h-1.8zM431.1 608.4h1.4v1.4h-1.4zM354.5 622.2h1.4v1.4h-1.4zM444.8 607.3h1.5v1.5h-1.5zM442.2 606.5h1.2v1.2h-1.2zM313.7 653.1h1.6v1.6h-1.6zM374.0 619.4h1.7v1.7h-1.7zM304.5 608.4h1.7v1.7h-1.7zM464.3 661.7h1.7v1.7h-1.7zM435.9 623.4h1.2v1.2h-1.2zM461.2 646.9h1.8v1.8h-1.8zM331.4 615.4h2.0v2.0h-2.0zM357.5 613.8h2.0v2.0h-2.0zM354.3 594.8h1.2v1.2h-1.2zM381.7 659.3h1.8v1.8h-1.8zM456.3 620.0h1.9v1.9h-1.9zM418.2 605.2h1.3v1.3h-1.3zM320.2 623.6h1.8v1.8h-1.8zM409.1 584.6h1.8v1.8h-1.8zM441.4 611.2h2.0v2.0h-2.0zM346.1 611.2h1.6v1.6h-1.6zM364.4 631.6h1.7v1.7h-1.7zM330.6 599.6h1.4v1.4h-1.4zM389.6 624.3h1.2v1.2h-1.2zM434.7 622.4h1.9v1.9h-1.9zM401.2 655.6h1.4v1.4h-1.4zM472.1 610.5h1.6v1.6h-1.6zM454.3 651.1h1.9v1.9h-1.9zM412.4 586.8h1.9v1.9h-1.9zM353.0 597.9h1.8v1.8h-1.8zM465.3 628.6h1.8v1.8h-1.8zM422.1 619.1h1.8v1.8h-1.8zM330.0 658.0h1.8v1.8h-1.8zM403.7 591.7h1.3v1.3h-1.3zM389.7 625.5h1.7v1.7h-1.7zM422.6 589.3h1.5v1.5h-1.5zM442.6 649.3h1.9v1.9h-1.9zM341.4 607.2h1.7v1.7h-1.7zM375.8 621.9h1.5v1.5h-1.5zM449.1 641.9h1.7v1.7h-1.7zM458.8 601.4h1.3v1.3h-1.3zM373.2 651.8h1.2v1.2h-1.2zM325.1 617.6h1.3v1.3h-1.3zM329.6 605.6h1.3v1.3h-1.3zM316.2 599.1h1.5v1.5h-1.5zM455.6 606.8h1.5v1.5h-1.5zM344.3 596.7h1.7v1.7h-1.7zM349.3 610.4h1.8v1.8h-1.8zM363.5 662.0h1.8v1.8h-1.8zM487.2 598.8h1.3v1.3h-1.3zM435.0 642.7h1.3v1.3h-1.3zM372.7 590.8h1.9v1.9h-1.9zM423.1 618.1h2.0v2.0h-2.0zM485.5 602.4h1.7v1.7h-1.7zM421.9 608.3h1.5v1.5h-1.5zM318.2 635.0h2.0v2.0h-2.0zM380.3 594.1h1.6v1.6h-1.6zM300.2 602.8h1.3v1.3h-1.3zM401.4 629.1h1.2v1.2h-1.2zM407.2 581.8h1.9v1.9h-1.9zM481.6 617.6h1.4v1.4h-1.4zM323.2 606.6h1.4v1.4h-1.4zM333.8 641.5h1.5v1.5h-1.5zM387.5 609.6h1.2v1.2h-1.2zM444.7 602.3h1.6v1.6h-1.6zM447.9 601.2h1.2v1.2h-1.2zM363.5 611.0h1.7v1.7h-1.7zM421.4 607.3h1.5v1.5h-1.5zM377.8 606.7h1.6v1.6h-1.6zM388.9 584.8h1.5v1.5h-1.5zM385.1 641.3h1.7v1.7h-1.7zM399.8 583.3h1.2v1.2h-1.2zM382.9 611.9h1.9v1.9h-1.9zM336.9 612.2h1.7v1.7h-1.7zM313.2 597.9h1.5v1.5h-1.5zM489.3 606.4h1.5v1.5h-1.5zM368.4 591.3h1.5v1.5h-1.5zM318.5 645.9h1.5v1.5h-1.5zM406.4 593.0h1.3v1.3h-1.3zM328.9 626.9h1.5v1.5h-1.5zM414.4 590.9h1.4v1.4h-1.4zM376.2 616.7h1.6v1.6h-1.6zM448.3 630.7h1.6v1.6h-1.6zM407.5 581.9h1.5v1.5h-1.5zM408.6 587.1h1.2v1.2h-1.2z"/>
<path fill="#000" d="M278.9 601.1h1.7v1.7h-1.7zM505.0 601.5h2.0v2.0h-2.0zM369.7 597.6h2.2v2.2h-2.2zM509.2 596.5h2.0v2.0h-2.0zM506.5 607.1h1.6v1.6h-1.6zM410.2 589.6h1.6v1.6h-1.6zM491.5 603.3h2.1v2.1h-2.1zM416.6 595.1h2.2v2.2h-2.2zM450.6 603.6h1.6v1.6h-1.6zM284.2 597.6h2.3v2.3h-2.3zM505.0 605.0h2.5v2.5h-2.5zM317.3 599.8h1.5v1.5h-1.5zM321.3 602.5h1.8v1.8h-1.8zM386.2 582.9h1.6v1.6h-1.6zM329.3 601.6h2.2v2.2h-2.2zM428.4 591.9h2.6v2.6h-2.6zM439.5 599.7h2.6v2.6h-2.6zM289.5 600.0h2.0v2.0h-2.0zM465.7 595.7h2.1v2.1h-2.1zM430.3 588.5h1.9v1.9h-1.9zM451.8 600.4h1.9v1.9h-1.9zM294.4 595.5h1.6v1.6h-1.6zM407.6 591.0h2.6v2.6h-2.6zM389.2 586.7h2.1v2.1h-2.1zM479.8 608.8h2.1v2.1h-2.1zM286.9 602.7h2.1v2.1h-2.1zM411.6 588.0h1.5v1.5h-1.5zM319.2 601.2h1.9v1.9h-1.9zM378.3 586.3h2.6v2.6h-2.6zM297.4 593.8h2.5v2.5h-2.5zM312.7 597.4h1.4v1.4h-1.4zM411.7 590.9h2.0v2.0h-2.0zM443.7 598.2h2.0v2.0h-2.0zM306.3 601.0h2.3v2.3h-2.3zM467.2 606.7h1.4v1.4h-1.4zM338.7 604.4h1.8v1.8h-1.8zM285.6 602.3h2.4v2.4h-2.4zM433.2 598.1h1.5v1.5h-1.5zM505.2 593.9h1.9v1.9h-1.9zM384.4 586.9h2.0v2.0h-2.0zM402.5 581.0h2.5v2.5h-2.5zM384.8 582.1h2.4v2.4h-2.4zM407.0 592.7h2.2v2.2h-2.2zM302.4 599.3h2.2v2.2h-2.2zM427.7 587.2h1.7v1.7h-1.7zM503.7 606.6h2.4v2.4h-2.4zM510.0 599.2h1.5v1.5h-1.5zM396.4 592.8h1.7v1.7h-1.7zM310.6 603.8h2.3v2.3h-2.3zM477.0 608.6h2.5v2.5h-2.5zM424.2 591.0h2.2v2.2h-2.2zM311.4 606.7h1.9v1.9h-1.9zM457.7 604.1h2.3v2.3h-2.3zM300.9 601.3h2.5v2.5h-2.5zM495.1 608.7h2.3v2.3h-2.3zM394.0 582.9h1.9v1.9h-1.9zM412.6 591.5h1.8v1.8h-1.8zM370.3 593.1h2.0v2.0h-2.0zM403.6 581.9h2.6v2.6h-2.6zM309.0 604.1h2.2v2.2h-2.2zM301.7 607.3h1.8v1.8h-1.8zM353.3 592.0h1.8v1.8h-1.8zM366.3 600.1h1.6v1.6h-1.6zM430.4 596.2h2.1v2.1h-2.1zM460.1 603.9h2.3v2.3h-2.3zM471.4 608.6h2.6v2.6h-2.6zM298.9 602.2h2.5v2.5h-2.5zM321.8 597.8h1.6v1.6h-1.6zM503.5 595.5h2.0v2.0h-2.0zM502.6 605.2h2.2v2.2h-2.2zM473.3 606.8h1.6v1.6h-1.6zM479.9 596.9h1.9v1.9h-1.9zM455.5 601.2h1.4v1.4h-1.4zM286.9 604.5h2.3v2.3h-2.3zM450.4 593.3h1.4v1.4h-1.4zM329.7 600.9h2.5v2.5h-2.5zM383.4 590.1h2.0v2.0h-2.0zM490.7 602.9h1.6v1.6h-1.6zM313.8 606.0h1.9v1.9h-1.9zM363.8 595.6h2.0v2.0h-2.0zM433.5 589.9h2.3v2.3h-2.3zM335.0 607.4h2.6v2.6h-2.6zM316.4 600.0h2.0v2.0h-2.0zM383.7 582.3h2.5v2.5h-2.5zM304.0 594.9h1.5v1.5h-1.5zM302.6 597.9h1.4v1.4h-1.4zM423.0 591.6h2.3v2.3h-2.3zM466.9 598.2h2.0v2.0h-2.0zM328.4 598.9h1.6v1.6h-1.6zM372.3 586.1h2.5v2.5h-2.5zM396.3 583.1h2.4v2.4h-2.4zM381.7 592.4h1.6v1.6h-1.6zM425.0 586.9h2.4v2.4h-2.4zM429.2 594.2h2.0v2.0h-2.0zM494.2 595.5h2.5v2.5h-2.5zM310.5 597.3h2.2v2.2h-2.2zM318.5 599.4h1.5v1.5h-1.5zM381.4 588.5h2.5v2.5h-2.5zM503.5 601.9h2.0v2.0h-2.0zM485.7 604.7h2.1v2.1h-2.1zM452.5 593.4h1.5v1.5h-1.5zM402.4 592.4h1.9v1.9h-1.9zM380.7 589.2h1.7v1.7h-1.7zM356.2 599.1h1.6v1.6h-1.6zM441.6 599.8h2.2v2.2h-2.2zM437.9 589.2h1.7v1.7h-1.7zM497.1 604.4h2.0v2.0h-2.0zM430.0 588.8h2.0v2.0h-2.0zM353.3 592.0h2.4v2.4h-2.4zM465.3 607.3h2.3v2.3h-2.3z"/>
<rect x="278.5" y="525.2" width="234.3" height="141.3" filter="url(#cn)" style="mix-blend-mode:multiply"/>
</g>
<text x="288.8" y="533.0" font-size="8.4" font-weight="bold" fill="#fff" text-anchor="start" textLength="23.8" lengthAdjust="spacingAndGlyphs" >1 mm</text>
<rect x="285.3" y="535.8" width="29.7" height="1.4" fill="#fff"/>
<rect x="278.5" y="666.5" width="234.3" height="1.5" fill="#c4c4c0"/>
<rect x="315" y="666.5" width="34" height="1.5" fill="#d0d070" opacity="0.7"/>
<clipPath id="cp5"><rect x="567" y="528.6" width="233.8" height="140"/></clipPath>
<g clip-path="url(#cp5)">
<rect x="567" y="528.6" width="233.8" height="140" fill="#000"/>
<g filter="url(#bl1)">
<path d="M569.2 615.4C570.0 612.7 572.5 604.9 573.3 600.4C574.2 596.0 573.6 592.9 574.2 588.7C574.7 584.6 574.6 579.6 576.7 575.4C578.8 571.2 583.1 566.5 586.7 563.7C590.3 560.9 594.5 560.4 598.4 558.7C602.3 557.0 605.3 556.2 610.1 553.7C614.8 551.2 620.6 546.9 626.7 543.7C632.9 540.5 640.1 536.9 646.8 534.5C653.4 532.2 660.1 530.5 666.8 529.5C673.4 528.5 680.6 528.8 686.7 528.7C692.8 528.6 698.1 528.7 703.4 529.0C708.7 529.3 714.2 529.3 718.4 530.3C722.6 531.4 724.0 534.4 728.4 535.3C732.9 536.3 739.8 534.8 745.1 536.2C750.4 537.6 755.4 540.8 760.1 543.7C764.8 546.6 769.3 550.6 773.5 553.7C777.6 556.8 782.6 558.7 785.1 562.0C787.6 565.4 788.5 569.8 788.5 573.7C788.5 577.6 785.7 581.8 785.1 585.4C784.6 589.0 785.4 593.5 785.1 595.4C784.9 597.3 784.0 594.5 783.5 596.7C782.9 598.9 782.9 603.9 781.8 608.4C780.7 612.8 776.0 619.5 776.8 623.4C777.6 627.3 782.9 630.6 786.8 631.8C790.7 632.9 797.8 628.7 800.2 630.1C802.5 631.5 802.1 637.3 801.0 640.1C799.9 642.9 797.2 645.1 793.5 646.8C789.7 648.4 781.8 648.7 778.5 650.1C775.1 651.5 777.1 654.4 773.5 655.1C769.8 655.8 761.8 653.4 756.8 654.3C751.8 655.1 747.3 658.6 743.4 660.1C739.5 661.6 736.5 662.5 733.4 663.5C730.4 664.4 730.1 664.8 725.1 666.0C720.1 667.1 712.6 669.4 703.4 670.1C694.2 670.8 674.4 670.1 670.0 670.1C665.6 670.1 679.6 670.5 676.8 670.1C674.0 669.8 660.4 669.4 653.4 668.0C646.5 666.6 640.9 664.2 635.1 661.8C629.3 659.4 624.0 656.2 618.4 653.4C612.8 650.7 607.3 647.9 601.7 645.1C596.2 642.3 590.0 639.8 585.0 636.8C580.0 633.7 574.5 630.1 571.7 626.7C568.9 623.4 568.8 618.6 568.3 616.7C567.9 614.8 568.3 618.2 569.2 615.4Z" fill="#a83060" />
<path d="M571.7 625.1C571.7 622.8 579.5 626.5 585.0 623.4C590.6 620.3 598.7 609.1 605.1 606.7C611.5 604.4 619.2 608.1 623.4 609.2C627.6 610.3 629.5 610.8 630.1 613.4C630.6 616.0 626.2 620.1 626.7 625.1C627.3 630.1 630.1 637.6 633.4 643.4C636.8 649.3 642.3 655.9 646.8 660.1C651.2 664.3 662.1 668.1 660.1 668.5C658.2 668.8 642.0 664.6 635.1 662.1C628.1 659.7 624.0 656.6 618.4 653.8C612.8 651.0 607.3 648.2 601.7 645.4C596.2 642.7 590.0 640.5 585.0 637.1C580.0 633.7 571.7 627.4 571.7 625.1Z" fill="#2418f0" />
<path d="M746.8 600.0C749.3 596.3 757.2 595.6 760.1 597.5C763.0 599.5 764.6 607.1 764.3 611.7C764.0 616.3 756.9 621.7 758.4 625.1C760.0 628.4 770.1 628.7 773.5 631.8C776.8 634.8 778.5 639.5 778.5 643.4C778.5 647.4 777.1 653.6 773.5 655.4C769.8 657.3 761.8 653.5 756.8 654.3C751.8 655.1 747.3 658.6 743.4 660.1C739.5 661.6 736.5 662.1 733.4 663.5C730.4 664.8 727.3 668.5 725.1 668.5C722.8 668.5 718.1 666.0 720.1 663.5C722.0 661.0 733.1 657.9 736.7 653.4C740.4 649.0 740.4 642.3 741.8 636.8C743.1 631.2 744.3 626.2 745.1 620.1C745.9 614.0 744.3 603.8 746.8 600.0Z" fill="#2418f0" />
<path d="M626.7 625.1C625.6 619.8 625.4 615.9 626.7 611.7C628.1 607.6 631.2 603.4 635.1 600.0C639.0 596.7 644.5 592.5 650.1 591.7C655.7 590.9 665.2 594.5 668.5 595.0C671.8 595.6 665.6 595.6 670.0 595.0C674.4 594.5 687.5 593.0 695.0 591.7C702.5 590.4 709.5 587.5 715.1 587.5C720.6 587.5 723.4 589.1 728.4 591.7C733.4 594.3 741.5 598.7 745.1 603.4C748.7 608.1 749.5 614.5 750.1 620.1C750.7 625.6 749.8 631.8 748.4 636.8C747.0 641.8 744.3 645.7 741.8 650.1C739.3 654.6 736.2 660.4 733.4 663.5C730.6 666.5 735.6 667.3 725.1 668.5C714.5 669.6 678.0 669.9 670.0 670.1C662.0 670.4 678.5 670.4 676.8 670.1C675.2 669.9 665.1 670.1 660.1 668.5C655.1 666.8 651.2 664.3 646.8 660.1C642.3 655.9 636.8 649.3 633.4 643.4C630.1 637.6 627.9 630.4 626.7 625.1Z" fill="#6a2cd0" />
</g>
<g filter="url(#bl2)">
<path d="M630.1 620.1C631.3 617.0 635.6 615.1 638.4 615.1C641.2 615.1 645.7 617.0 646.8 620.1C647.9 623.1 646.8 630.1 645.1 633.4C643.4 636.8 639.1 640.1 636.8 640.1C634.4 640.1 632.0 636.8 630.9 633.4C629.8 630.1 628.8 623.1 630.1 620.1Z" fill="#f03060" opacity="0.8" />
<path d="M660.1 656.8C662.3 654.0 670.7 653.4 676.8 653.4C682.9 653.4 693.5 654.0 696.8 656.8C700.2 659.6 702.4 667.9 696.8 670.1C691.3 672.4 669.6 672.4 663.5 670.1C657.3 667.9 657.9 659.6 660.1 656.8Z" fill="#e02060" opacity="0.7" />
<path d="M725.1 613.4C726.2 611.4 729.8 609.2 731.7 610.1C733.7 610.9 736.1 615.3 736.7 618.4C737.4 621.5 737.3 626.5 735.9 628.4C734.5 630.4 730.2 631.2 728.4 630.1C726.6 629.0 725.6 624.5 725.1 621.7C724.5 619.0 724.0 615.3 725.1 613.4Z" fill="#ff5070" opacity="0.9" />
<path d="M741.8 620.1C742.7 617.8 746.8 617.0 748.4 618.4C750.1 619.8 751.5 624.8 751.8 628.4C752.0 632.0 751.2 637.9 750.1 640.1C749.0 642.3 746.3 643.2 745.1 641.8C743.8 640.4 743.1 635.4 742.6 631.8C742.0 628.1 740.8 622.3 741.8 620.1Z" fill="#f02050" opacity="0.9" />
<path d="M670.0 650.1C671.7 646.6 677.2 647.3 680.0 648.4C682.8 649.5 686.1 653.4 686.7 656.8C687.2 660.1 686.1 666.4 683.4 668.5C680.6 670.5 672.2 672.4 670.0 669.3C667.8 666.2 668.3 653.6 670.0 650.1Z" fill="#f02050" opacity="0.8" />
<path d="M700.0 658.4C701.4 656.5 708.4 655.5 711.7 655.9C715.1 656.4 719.5 659.1 720.1 661.0C720.6 662.8 717.8 665.7 715.1 666.8C712.3 667.9 705.9 669.0 703.4 667.6C700.9 666.2 698.6 660.4 700.0 658.4Z" fill="#f02050" opacity="0.8" />
<path d="M695.0 640.1C696.4 637.6 704.5 635.4 706.7 636.8C708.9 638.1 709.8 645.9 708.4 648.4C707.0 650.9 700.6 653.2 698.4 651.8C696.1 650.4 693.6 642.6 695.0 640.1Z" fill="#d03080" opacity="0.5" />
<path d="M646.8 646.8C648.0 645.8 651.9 646.5 653.4 647.6C655.0 648.7 656.4 651.9 656.0 653.4C655.5 655.0 652.6 656.8 650.9 656.8C649.3 656.8 646.6 655.1 645.9 653.4C645.2 651.8 645.5 647.7 646.8 646.8Z" fill="#9aa0c8" opacity="0.9" />
<path d="M728.4 648.4C729.7 647.3 733.7 646.8 735.1 647.6C736.5 648.4 737.2 651.9 736.7 653.4C736.3 655.0 734.1 656.6 732.6 656.8C731.0 656.9 728.3 655.7 727.6 654.3C726.9 652.9 727.2 649.5 728.4 648.4Z" fill="#a0b0d0" opacity="0.9" />
<path d="M646.8 598.4C649.6 597.0 661.8 598.4 666.8 600.0C671.8 601.7 677.9 606.2 676.8 608.4C675.7 610.6 664.6 613.4 660.1 613.4C655.7 613.4 652.3 610.9 650.1 608.4C647.9 605.9 644.0 599.8 646.8 598.4Z" fill="#40208a" opacity="0.6" />
</g>
<g filter="url(#bl1)">
<path d="M568.3 616.7C568.9 614.0 570.6 609.1 573.3 606.7C576.1 604.4 580.3 602.7 585.0 602.5C589.8 602.4 597.5 604.1 601.7 605.9C605.9 607.7 607.3 610.2 610.1 613.4C612.8 616.6 617.0 622.0 618.4 625.1C619.8 628.1 620.4 630.5 618.4 631.8C616.5 633.0 610.9 633.1 606.7 632.6C602.6 632.0 597.0 629.7 593.4 628.4C589.8 627.2 587.8 625.4 585.0 625.1C582.2 624.8 579.2 627.0 576.7 626.7C574.2 626.5 571.4 625.1 570.0 623.4C568.6 621.7 567.8 619.5 568.3 616.7Z" fill="#a85038" />
<path d="M591.7 615.1C593.4 613.1 597.0 610.1 600.0 610.1C603.1 610.1 607.0 612.3 610.1 615.1C613.1 617.8 617.3 624.0 618.4 626.7C619.5 629.5 619.0 631.1 616.7 631.8C614.5 632.4 608.7 631.8 605.1 630.9C601.4 630.1 597.5 628.3 595.0 626.7C592.5 625.2 590.6 623.7 590.0 621.7C589.5 619.8 590.0 617.0 591.7 615.1Z" fill="#9ab828" />
<path d="M570.0 613.4C570.8 611.2 574.7 606.7 578.4 605.1C582.0 603.4 590.3 602.5 591.7 603.4C593.1 604.2 588.6 608.1 586.7 610.1C584.8 612.0 582.2 613.7 580.0 615.1C577.8 616.5 575.0 618.7 573.3 618.4C571.7 618.1 569.2 615.6 570.0 613.4Z" fill="#a0a030" />
<path d="M576.7 618.4C577.4 617.1 581.4 616.0 582.5 616.7C583.6 617.4 584.1 621.3 583.4 622.6C582.7 623.8 579.5 624.9 578.4 624.2C577.2 623.5 576.0 619.7 576.7 618.4Z" fill="#3020d0" />
<path d="M760.1 606.7C761.9 604.5 766.8 603.4 770.1 603.4C773.5 603.4 778.7 604.2 780.1 606.7C781.5 609.2 780.1 615.1 778.5 618.4C776.8 621.7 772.9 625.6 770.1 626.7C767.3 627.9 763.6 626.7 761.8 625.1C760.0 623.4 759.6 619.8 759.3 616.7C759.0 613.7 758.3 608.9 760.1 606.7Z" fill="#a84048" />
<path d="M761.8 609.2C762.3 607.9 767.3 605.5 770.1 605.4C772.9 605.3 777.4 606.6 778.5 608.7C779.6 610.9 778.2 615.8 776.8 618.4C775.4 621.0 772.2 624.0 770.1 624.2C768.0 624.5 764.8 621.9 764.3 620.1C763.7 618.3 767.2 615.2 766.8 613.4C766.4 611.6 761.2 610.6 761.8 609.2Z" fill="#9aa830" />
<path d="M775.1 633.4C777.1 631.8 782.6 632.3 786.8 631.8C791.0 631.2 797.8 628.7 800.2 630.1C802.5 631.5 802.1 637.3 801.0 640.1C799.9 642.9 797.0 645.4 793.5 646.8C790.0 648.2 783.2 649.3 780.1 648.4C777.1 647.6 776.0 644.3 775.1 641.8C774.3 639.3 773.2 635.1 775.1 633.4Z" fill="#5a3a50" />
<path d="M574.2 588.7C573.9 585.4 574.6 579.3 576.7 575.4C578.8 571.5 583.1 567.6 586.7 565.4C590.3 563.2 595.9 561.5 598.4 562.0C600.9 562.6 602.6 565.7 601.7 568.7C600.9 571.8 595.9 576.5 593.4 580.4C590.9 584.3 589.2 589.6 586.7 592.1C584.2 594.6 580.4 596.0 578.4 595.4C576.3 594.9 574.5 592.1 574.2 588.7Z" fill="#e84868" />
<path d="M580.0 600.4C578.9 599.0 584.5 595.7 586.7 593.8C588.9 591.8 591.1 592.4 593.4 588.7C595.6 585.1 597.3 577.1 600.0 572.1C602.8 567.1 605.6 562.9 610.1 558.7C614.5 554.5 620.6 550.6 626.7 547.0C632.9 543.4 640.1 539.6 646.8 537.0C653.4 534.5 660.1 532.8 666.8 531.7C673.4 530.5 680.6 530.3 686.7 530.0C692.8 529.7 698.1 529.8 703.4 530.0C708.7 530.2 714.5 529.5 718.4 531.2C722.3 532.9 723.7 538.8 726.7 540.4C729.8 541.9 733.7 540.8 736.7 540.4C739.8 539.9 742.3 536.7 745.1 537.9C747.9 539.0 750.8 542.7 753.4 547.0C756.1 551.3 758.2 560.9 760.9 563.7C763.7 566.5 767.5 564.4 770.1 563.7C772.8 563.0 774.3 559.3 776.8 559.5C779.3 559.8 783.6 563.0 785.1 565.4C786.7 567.8 786.7 571.6 786.0 573.7C785.3 575.8 782.5 575.7 781.0 577.9C779.4 580.1 778.0 584.7 776.8 587.1C775.5 589.4 775.7 591.7 773.5 592.1C771.2 592.5 766.2 590.1 763.4 589.6C760.7 589.0 759.6 586.4 756.8 588.7C754.0 591.1 750.1 602.1 746.8 603.8C743.4 605.4 740.4 600.7 736.7 598.8C733.1 596.8 729.0 593.8 725.1 592.1C721.2 590.4 718.4 588.7 713.4 588.7C708.4 588.7 702.3 591.0 695.0 592.1C687.8 593.2 675.8 596.0 670.0 595.4C664.2 594.9 664.0 589.9 660.1 588.7C656.3 587.6 650.9 587.6 646.8 588.7C642.6 589.9 638.4 592.6 635.1 595.4C631.8 598.2 628.7 604.3 626.7 605.4C624.8 606.5 625.4 602.9 623.4 602.1C621.5 601.3 617.8 600.2 615.1 600.4C612.3 600.7 610.3 603.5 606.7 603.8C603.1 604.0 597.8 602.7 593.4 602.1C588.9 601.5 581.1 601.8 580.0 600.4Z" fill="#86ee26" />
</g>
<g filter="url(#bl1)">
<path d="M628.4 547.0C627.6 549.3 625.1 555.4 623.4 560.4C621.7 565.4 620.1 571.2 618.4 577.1C616.7 582.9 614.2 592.4 613.4 595.4" fill="none" stroke="#d04868" stroke-width="6.2" stroke-linecap="round" stroke-linejoin="round" opacity="1" />
<path d="M711.7 544.0C707.5 544.0 692.5 543.9 686.7 544.0C680.9 544.1 681.2 544.0 676.8 544.5C672.4 545.0 664.6 545.5 660.1 547.0C655.7 548.6 652.9 550.9 650.1 553.7C647.3 556.5 645.4 559.8 643.4 563.7C641.5 567.6 640.4 572.9 638.4 577.1C636.5 581.2 634.0 584.9 631.8 588.7C629.5 592.6 626.2 598.5 625.1 600.4" fill="none" stroke="#d04868" stroke-width="6.2" stroke-linecap="round" stroke-linejoin="round" opacity="1" />
<path d="M711.7 544.0C712.8 545.1 716.2 547.1 718.4 550.4C720.6 553.6 722.3 559.0 725.1 563.7C727.8 568.4 731.7 574.6 735.1 578.7C738.4 582.9 743.4 587.1 745.1 588.7" fill="none" stroke="#d04868" stroke-width="6.2" stroke-linecap="round" stroke-linejoin="round" opacity="1" />
<path d="M713.4 572.1C708.9 571.8 692.8 570.7 686.7 570.4C680.6 570.1 681.2 570.0 676.8 570.4C672.4 570.8 664.6 571.5 660.1 572.9C655.7 574.3 652.9 576.9 650.1 578.7C647.3 580.5 644.5 582.9 643.4 583.7" fill="none" stroke="#d04868" stroke-width="6.2" stroke-linecap="round" stroke-linejoin="round" opacity="1" />
<path d="M713.4 572.1C715.3 574.0 721.2 580.4 725.1 583.7C729.0 587.1 734.8 590.7 736.7 592.1" fill="none" stroke="#d04868" stroke-width="6.2" stroke-linecap="round" stroke-linejoin="round" opacity="1" />
<path d="M728.4 537.0C729.8 540.1 733.4 549.5 736.7 555.4C740.1 561.2 744.0 566.5 748.4 572.1C752.9 577.6 760.9 586.0 763.4 588.7" fill="none" stroke="#d04868" stroke-width="6.2" stroke-linecap="round" stroke-linejoin="round" opacity="1" />
<path d="M753.4 542.0C755.1 544.2 760.7 550.4 763.4 555.4C766.2 560.4 767.3 567.1 770.1 572.1C772.9 577.1 778.5 583.2 780.1 585.4" fill="none" stroke="#d04868" stroke-width="6.2" stroke-linecap="round" stroke-linejoin="round" opacity="1" />
<path d="M588.4 588.7C590.0 586.5 596.2 578.7 598.4 575.4C600.6 572.1 601.2 569.8 601.7 568.7" fill="none" stroke="#d04868" stroke-width="6.2" stroke-linecap="round" stroke-linejoin="round" opacity="1" />
<path d="M753.4 542.0C755.1 544.2 760.7 550.4 763.4 555.4C766.2 560.4 767.3 567.1 770.1 572.1C772.9 577.1 778.5 583.2 780.1 585.4" fill="none" stroke="#c03878" stroke-width="9" stroke-linecap="round" stroke-linejoin="round" opacity="1" />
<path d="M756.8 588.7C755.1 591.3 750.1 602.1 746.8 603.8C743.4 605.4 740.4 600.7 736.7 598.8C733.1 596.8 729.0 593.8 725.1 592.1C721.2 590.4 718.4 588.7 713.4 588.7C708.4 588.7 702.3 591.0 695.0 592.1C687.8 593.2 675.8 596.0 670.0 595.4C664.2 594.9 664.0 589.9 660.1 588.7C656.3 587.6 650.9 587.6 646.8 588.7C642.6 589.9 638.4 592.6 635.1 595.4C631.8 598.2 628.1 603.8 626.7 605.4" fill="none" stroke="#c84070" stroke-width="4.5" stroke-linecap="round" stroke-linejoin="round" opacity="1" />
<path d="M711.7 544.0C707.5 544.0 692.5 543.9 686.7 544.0C680.9 544.1 681.2 544.0 676.8 544.5C672.4 545.0 664.6 545.5 660.1 547.0C655.7 548.6 652.9 550.9 650.1 553.7C647.3 556.5 645.4 559.8 643.4 563.7C641.5 567.6 640.4 572.9 638.4 577.1C636.5 581.2 634.0 584.9 631.8 588.7C629.5 592.6 626.2 598.5 625.1 600.4" fill="none" stroke="#4030e0" stroke-width="2.0" stroke-linecap="round" stroke-linejoin="round" opacity="0.9" />
<path d="M711.7 544.0C712.8 545.1 716.2 547.1 718.4 550.4C720.6 553.6 722.3 559.0 725.1 563.7C727.8 568.4 731.7 574.6 735.1 578.7C738.4 582.9 743.4 587.1 745.1 588.7" fill="none" stroke="#4030e0" stroke-width="2.0" stroke-linecap="round" stroke-linejoin="round" opacity="0.9" />
<path d="M713.4 572.1C708.9 571.8 692.8 570.7 686.7 570.4C680.6 570.1 681.2 570.0 676.8 570.4C672.4 570.8 664.6 571.5 660.1 572.9C655.7 574.3 652.9 576.9 650.1 578.7C647.3 580.5 644.5 582.9 643.4 583.7" fill="none" stroke="#4030e0" stroke-width="2.0" stroke-linecap="round" stroke-linejoin="round" opacity="0.9" />
<path d="M713.4 572.1C715.3 574.0 721.2 580.4 725.1 583.7C729.0 587.1 734.8 590.7 736.7 592.1" fill="none" stroke="#4030e0" stroke-width="2.0" stroke-linecap="round" stroke-linejoin="round" opacity="0.9" />
<path d="M728.4 537.0C729.8 540.1 733.4 549.5 736.7 555.4C740.1 561.2 744.0 566.5 748.4 572.1C752.9 577.6 760.9 586.0 763.4 588.7" fill="none" stroke="#4030e0" stroke-width="2.0" stroke-linecap="round" stroke-linejoin="round" opacity="0.9" />
<path d="M753.4 542.0C755.1 544.2 760.7 550.4 763.4 555.4C766.2 560.4 767.3 567.1 770.1 572.1C772.9 577.1 778.5 583.2 780.1 585.4" fill="none" stroke="#4030e0" stroke-width="2.0" stroke-linecap="round" stroke-linejoin="round" opacity="0.9" />
<path d="M755.1 543.7C756.6 545.8 761.6 551.5 764.3 556.2C766.9 560.9 768.6 567.5 771.0 572.1C773.3 576.6 777.2 581.8 778.5 583.7" fill="none" stroke="#3a20e0" stroke-width="2.4" stroke-linecap="round" stroke-linejoin="round" opacity="1" />
</g>
<path fill="#f02858" d="M637.1 601.8h2.1v2.1h-2.1zM716.8 646.0h1.8v1.8h-1.8zM694.7 637.0h2.1v2.1h-2.1zM711.1 653.5h2.1v2.1h-2.1zM686.4 630.9h1.5v1.5h-1.5zM681.5 651.5h1.4v1.4h-1.4zM668.8 610.6h1.8v1.8h-1.8zM684.3 667.7h1.3v1.3h-1.3zM675.8 645.5h1.6v1.6h-1.6zM686.6 655.4h1.8v1.8h-1.8zM643.5 656.1h1.5v1.5h-1.5zM735.0 657.9h1.9v1.9h-1.9zM745.6 610.3h1.5v1.5h-1.5zM697.5 609.4h2.0v2.0h-2.0zM720.5 609.7h2.1v2.1h-2.1zM673.8 659.6h1.9v1.9h-1.9zM674.8 624.7h1.7v1.7h-1.7zM693.6 646.3h1.7v1.7h-1.7zM681.7 626.4h1.3v1.3h-1.3zM701.5 651.6h1.8v1.8h-1.8zM705.5 589.6h2.2v2.2h-2.2zM635.3 604.1h1.6v1.6h-1.6zM633.1 611.6h1.3v1.3h-1.3zM737.2 632.6h2.2v2.2h-2.2zM674.1 665.1h1.6v1.6h-1.6zM697.1 639.6h1.7v1.7h-1.7zM660.1 598.6h1.8v1.8h-1.8zM662.9 610.2h2.2v2.2h-2.2zM642.9 644.0h1.9v1.9h-1.9zM716.9 613.3h1.8v1.8h-1.8zM730.5 662.7h1.8v1.8h-1.8zM638.5 609.2h1.7v1.7h-1.7zM664.1 667.5h2.0v2.0h-2.0zM684.5 596.0h1.7v1.7h-1.7zM719.4 590.6h2.1v2.1h-2.1zM704.4 649.6h1.8v1.8h-1.8zM664.6 650.2h1.6v1.6h-1.6zM743.3 643.9h2.1v2.1h-2.1zM723.2 666.8h2.1v2.1h-2.1zM694.9 637.9h2.0v2.0h-2.0zM648.4 656.6h1.2v1.2h-1.2zM688.5 604.5h2.0v2.0h-2.0zM692.8 640.8h2.1v2.1h-2.1zM653.0 615.2h1.6v1.6h-1.6zM703.6 598.8h2.1v2.1h-2.1zM679.9 650.8h2.2v2.2h-2.2zM690.7 657.4h1.9v1.9h-1.9zM672.8 608.0h1.8v1.8h-1.8zM678.8 652.3h2.0v2.0h-2.0zM714.4 623.6h2.1v2.1h-2.1zM689.0 595.5h2.1v2.1h-2.1zM656.2 635.2h1.8v1.8h-1.8zM672.4 632.2h1.3v1.3h-1.3zM725.0 604.0h1.6v1.6h-1.6zM696.4 601.5h1.6v1.6h-1.6zM680.8 651.3h2.0v2.0h-2.0zM633.5 618.3h1.5v1.5h-1.5zM713.2 638.5h1.3v1.3h-1.3zM678.0 652.0h1.3v1.3h-1.3zM706.9 627.9h1.6v1.6h-1.6zM627.3 611.6h1.4v1.4h-1.4zM692.5 625.9h2.2v2.2h-2.2zM730.5 644.7h1.4v1.4h-1.4zM721.0 649.1h2.0v2.0h-2.0zM749.4 626.2h1.2v1.2h-1.2zM720.4 611.3h1.5v1.5h-1.5zM632.7 617.9h1.6v1.6h-1.6zM725.1 627.8h1.9v1.9h-1.9zM639.8 599.0h1.6v1.6h-1.6zM663.1 639.3h1.3v1.3h-1.3zM669.5 597.2h2.0v2.0h-2.0zM693.2 608.9h1.9v1.9h-1.9zM640.4 629.5h1.4v1.4h-1.4zM711.0 604.4h2.1v2.1h-2.1zM701.4 668.6h2.0v2.0h-2.0zM664.0 650.7h1.8v1.8h-1.8zM695.0 628.2h1.2v1.2h-1.2zM734.1 606.0h2.1v2.1h-2.1zM726.1 612.6h1.4v1.4h-1.4zM643.6 605.5h1.6v1.6h-1.6zM730.5 618.7h2.0v2.0h-2.0zM698.4 643.7h1.7v1.7h-1.7zM688.2 615.8h1.2v1.2h-1.2zM688.6 601.5h2.0v2.0h-2.0zM639.1 635.3h2.1v2.1h-2.1zM685.8 643.8h1.8v1.8h-1.8zM744.0 639.3h1.6v1.6h-1.6zM685.6 644.8h1.4v1.4h-1.4zM700.3 652.9h1.4v1.4h-1.4zM723.1 596.5h1.7v1.7h-1.7zM693.8 633.9h2.1v2.1h-2.1zM667.2 606.7h2.0v2.0h-2.0zM712.6 668.3h1.6v1.6h-1.6zM743.9 605.7h2.1v2.1h-2.1z"/>
<path fill="#2a1cf0" d="M730.9 648.8h1.4v1.4h-1.4zM717.2 652.3h1.6v1.6h-1.6zM668.6 619.3h2.0v2.0h-2.0zM704.9 656.1h2.0v2.0h-2.0zM701.4 634.1h1.5v1.5h-1.5zM663.8 618.3h1.8v1.8h-1.8zM648.5 595.7h1.8v1.8h-1.8zM659.0 613.0h1.3v1.3h-1.3zM713.4 603.7h1.9v1.9h-1.9zM659.4 604.8h1.5v1.5h-1.5zM707.6 626.8h1.3v1.3h-1.3zM709.4 627.8h2.1v2.1h-2.1zM651.9 633.4h1.8v1.8h-1.8zM736.1 613.5h1.4v1.4h-1.4zM656.6 653.2h1.5v1.5h-1.5zM695.5 654.5h1.8v1.8h-1.8zM704.9 634.9h1.7v1.7h-1.7zM731.1 598.1h1.6v1.6h-1.6zM647.9 640.3h2.0v2.0h-2.0zM730.1 611.4h2.2v2.2h-2.2zM738.3 636.9h1.5v1.5h-1.5zM741.6 630.4h1.8v1.8h-1.8zM654.0 641.8h1.9v1.9h-1.9zM726.2 632.6h1.2v1.2h-1.2zM738.4 600.2h1.7v1.7h-1.7zM651.1 636.4h1.3v1.3h-1.3zM695.6 635.7h1.9v1.9h-1.9zM639.8 632.0h1.3v1.3h-1.3zM714.8 642.1h1.7v1.7h-1.7zM708.7 645.8h1.8v1.8h-1.8zM726.7 642.1h2.2v2.2h-2.2zM650.7 604.5h1.6v1.6h-1.6zM717.5 607.2h1.8v1.8h-1.8zM641.1 609.8h1.7v1.7h-1.7zM663.7 641.3h1.4v1.4h-1.4zM651.2 643.1h1.5v1.5h-1.5zM715.2 607.4h1.2v1.2h-1.2zM715.9 646.5h1.8v1.8h-1.8zM745.6 640.6h1.9v1.9h-1.9zM680.0 639.7h1.6v1.6h-1.6zM719.1 635.4h1.8v1.8h-1.8zM730.2 634.4h1.3v1.3h-1.3zM664.9 594.6h1.9v1.9h-1.9zM633.9 628.0h1.7v1.7h-1.7zM727.7 651.3h1.7v1.7h-1.7zM689.6 596.6h1.3v1.3h-1.3zM709.1 621.2h1.3v1.3h-1.3zM724.1 640.1h2.0v2.0h-2.0zM672.5 644.3h1.4v1.4h-1.4zM701.2 607.7h1.5v1.5h-1.5zM729.6 624.5h1.6v1.6h-1.6zM686.7 604.8h2.2v2.2h-2.2zM701.3 662.5h1.9v1.9h-1.9zM698.5 625.4h1.3v1.3h-1.3zM691.4 610.8h1.7v1.7h-1.7z"/>
<path fill="#1a1060" d="M701.2 618.1h1.4v1.4h-1.4zM719.8 650.8h1.6v1.6h-1.6zM693.8 612.5h1.5v1.5h-1.5zM653.2 609.4h1.3v1.3h-1.3zM675.0 602.7h1.6v1.6h-1.6zM655.4 634.5h1.4v1.4h-1.4zM648.7 599.9h1.6v1.6h-1.6zM715.8 651.7h1.5v1.5h-1.5zM653.3 651.6h1.3v1.3h-1.3zM642.1 646.6h1.3v1.3h-1.3zM670.8 633.2h1.7v1.7h-1.7zM645.5 656.7h1.7v1.7h-1.7zM727.4 657.7h1.6v1.6h-1.6zM717.3 653.7h2.0v2.0h-2.0zM738.0 644.5h2.0v2.0h-2.0zM718.7 622.3h2.1v2.1h-2.1zM677.5 653.4h2.0v2.0h-2.0zM690.3 600.9h1.2v1.2h-1.2zM724.9 641.7h2.1v2.1h-2.1zM632.6 620.5h1.8v1.8h-1.8zM721.2 614.0h1.2v1.2h-1.2zM731.1 645.8h1.9v1.9h-1.9zM685.0 622.0h1.7v1.7h-1.7zM722.6 659.4h1.9v1.9h-1.9zM721.0 623.1h1.9v1.9h-1.9zM706.3 602.7h1.7v1.7h-1.7zM657.3 616.9h1.3v1.3h-1.3zM658.5 624.8h1.5v1.5h-1.5zM699.4 592.6h1.7v1.7h-1.7z"/>
<path fill="#c02880" d="M709.0 624.2h1.4v1.4h-1.4zM717.2 641.5h2.2v2.2h-2.2zM691.0 662.0h2.2v2.2h-2.2zM728.3 657.4h1.3v1.3h-1.3zM650.4 644.2h1.9v1.9h-1.9zM737.2 614.1h2.0v2.0h-2.0zM715.9 667.7h2.1v2.1h-2.1zM631.3 632.2h2.0v2.0h-2.0zM703.4 654.0h1.5v1.5h-1.5zM715.9 611.2h1.4v1.4h-1.4zM714.5 626.9h1.3v1.3h-1.3zM680.7 594.6h2.0v2.0h-2.0zM746.2 608.9h1.4v1.4h-1.4zM679.5 618.0h1.5v1.5h-1.5zM746.9 622.4h1.7v1.7h-1.7zM652.4 618.0h1.4v1.4h-1.4zM681.4 618.5h2.0v2.0h-2.0zM680.4 598.1h1.9v1.9h-1.9zM742.9 617.8h1.9v1.9h-1.9zM639.0 601.3h1.9v1.9h-1.9zM667.7 629.3h2.2v2.2h-2.2zM666.9 640.6h2.1v2.1h-2.1zM720.1 653.0h1.7v1.7h-1.7zM692.5 657.8h1.7v1.7h-1.7zM662.1 612.6h1.8v1.8h-1.8zM667.6 620.9h1.5v1.5h-1.5zM715.0 667.3h1.9v1.9h-1.9zM681.0 659.1h2.0v2.0h-2.0zM702.9 641.5h2.2v2.2h-2.2zM691.2 633.1h1.3v1.3h-1.3zM634.3 626.8h2.1v2.1h-2.1zM716.2 594.0h1.4v1.4h-1.4zM667.7 635.8h1.2v1.2h-1.2zM710.9 664.3h1.6v1.6h-1.6zM727.5 661.8h1.4v1.4h-1.4zM656.7 632.9h1.3v1.3h-1.3zM692.5 624.7h1.9v1.9h-1.9zM732.5 607.6h1.9v1.9h-1.9zM697.5 655.0h1.4v1.4h-1.4zM706.0 633.8h1.5v1.5h-1.5zM655.7 644.9h1.6v1.6h-1.6zM667.3 641.4h2.2v2.2h-2.2zM740.6 640.4h2.1v2.1h-2.1zM688.6 642.0h2.2v2.2h-2.2zM697.4 656.3h1.3v1.3h-1.3zM703.1 625.9h1.9v1.9h-1.9zM692.9 640.9h1.7v1.7h-1.7zM741.9 609.5h1.8v1.8h-1.8zM657.3 650.1h1.7v1.7h-1.7zM740.0 637.7h1.7v1.7h-1.7z"/>
<path fill="#ff5a6a" d="M721.9 656.2h2.1v2.1h-2.1zM704.5 625.4h1.9v1.9h-1.9zM677.2 598.9h1.8v1.8h-1.8zM660.4 597.6h1.4v1.4h-1.4zM636.2 616.5h2.1v2.1h-2.1zM732.0 624.2h1.6v1.6h-1.6zM632.9 607.0h1.8v1.8h-1.8zM684.7 596.5h1.4v1.4h-1.4zM654.0 620.4h1.5v1.5h-1.5zM702.3 661.8h1.7v1.7h-1.7zM725.0 617.4h2.1v2.1h-2.1zM631.4 628.7h1.8v1.8h-1.8zM668.0 634.6h1.3v1.3h-1.3zM707.5 639.7h2.1v2.1h-2.1zM744.9 622.5h1.9v1.9h-1.9zM631.7 627.7h1.9v1.9h-1.9zM745.6 630.6h1.6v1.6h-1.6zM659.2 636.5h1.7v1.7h-1.7zM719.6 616.4h1.7v1.7h-1.7zM673.6 620.2h2.1v2.1h-2.1zM651.0 632.0h2.1v2.1h-2.1zM630.5 617.8h1.8v1.8h-1.8zM669.1 630.8h2.0v2.0h-2.0zM679.4 638.5h1.5v1.5h-1.5zM662.5 627.5h1.3v1.3h-1.3zM733.1 644.2h2.1v2.1h-2.1zM685.5 665.5h1.4v1.4h-1.4zM674.3 596.1h1.3v1.3h-1.3zM645.4 621.7h1.9v1.9h-1.9zM658.9 654.7h1.6v1.6h-1.6zM644.4 615.3h1.7v1.7h-1.7zM725.7 662.8h1.2v1.2h-1.2z"/>
<path fill="#e8ffe0" d="M753.8 557.9h1.1v1.1h-1.1zM748.6 578.3h1.0v1.0h-1.0zM682.9 532.2h1.1v1.1h-1.1zM667.1 551.2h1.7v1.7h-1.7zM689.6 574.0h1.3v1.3h-1.3zM735.5 581.4h1.2v1.2h-1.2zM755.2 577.4h1.7v1.7h-1.7zM686.2 575.2h1.0v1.0h-1.0zM683.2 554.2h1.6v1.6h-1.6zM645.0 582.1h1.4v1.4h-1.4zM676.4 536.8h1.7v1.7h-1.7zM609.9 597.2h1.6v1.6h-1.6zM774.6 579.9h1.2v1.2h-1.2zM702.0 567.9h1.0v1.0h-1.0zM751.8 578.2h1.4v1.4h-1.4zM686.0 549.7h1.0v1.0h-1.0zM657.1 575.6h1.8v1.8h-1.8zM591.8 591.9h1.0v1.0h-1.0zM636.2 556.9h1.0v1.0h-1.0zM734.6 546.0h1.5v1.5h-1.5zM677.4 585.6h1.4v1.4h-1.4zM655.0 568.1h1.1v1.1h-1.1zM597.3 587.1h1.5v1.5h-1.5zM651.0 587.6h1.7v1.7h-1.7zM712.7 568.8h1.4v1.4h-1.4zM704.0 573.5h1.6v1.6h-1.6zM664.9 553.8h1.5v1.5h-1.5zM687.3 542.8h1.3v1.3h-1.3zM625.4 560.0h1.1v1.1h-1.1zM658.7 554.5h1.5v1.5h-1.5zM766.5 572.7h1.6v1.6h-1.6z"/>
<path fill="#0a2a08" d="M678.3 578.8h1.5v1.5h-1.5zM691.8 547.0h1.2v1.2h-1.2zM698.0 568.0h1.7v1.7h-1.7zM585.5 598.9h1.4v1.4h-1.4zM658.2 571.4h1.2v1.2h-1.2zM681.4 552.7h1.5v1.5h-1.5zM636.0 553.5h1.5v1.5h-1.5zM681.2 591.2h1.7v1.7h-1.7zM741.5 579.2h1.1v1.1h-1.1zM687.6 584.8h1.6v1.6h-1.6zM679.6 577.3h1.4v1.4h-1.4zM611.4 580.6h1.5v1.5h-1.5zM697.2 546.2h1.5v1.5h-1.5zM616.8 560.5h1.5v1.5h-1.5zM761.4 576.0h1.2v1.2h-1.2zM605.7 573.0h1.1v1.1h-1.1zM667.9 546.6h1.7v1.7h-1.7zM679.9 583.6h1.0v1.0h-1.0zM722.1 580.5h1.7v1.7h-1.7zM752.5 553.6h1.4v1.4h-1.4zM656.7 565.5h1.1v1.1h-1.1zM644.1 571.5h1.6v1.6h-1.6zM747.8 582.6h1.1v1.1h-1.1zM615.2 595.7h1.4v1.4h-1.4zM662.7 545.5h1.0v1.0h-1.0zM778.5 577.5h1.5v1.5h-1.5zM655.9 564.4h1.5v1.5h-1.5zM658.8 567.0h1.7v1.7h-1.7zM629.7 555.2h1.7v1.7h-1.7zM759.5 565.4h1.3v1.3h-1.3zM731.5 589.7h1.2v1.2h-1.2zM617.9 567.4h1.3v1.3h-1.3zM728.4 553.7h1.7v1.7h-1.7zM716.8 578.6h1.3v1.3h-1.3zM737.8 549.2h1.0v1.0h-1.0zM592.2 598.5h1.2v1.2h-1.2zM735.6 540.8h1.4v1.4h-1.4zM720.4 574.3h1.6v1.6h-1.6zM681.4 571.1h1.0v1.0h-1.0zM640.0 571.5h1.5v1.5h-1.5zM730.6 587.7h1.4v1.4h-1.4zM718.8 541.6h1.0v1.0h-1.0zM648.7 544.3h1.3v1.3h-1.3zM699.7 549.5h1.6v1.6h-1.6zM669.1 545.8h1.3v1.3h-1.3zM755.5 589.6h1.6v1.6h-1.6zM644.3 553.8h1.4v1.4h-1.4zM677.7 549.4h1.5v1.5h-1.5zM780.9 563.5h1.5v1.5h-1.5zM601.4 586.3h1.8v1.8h-1.8zM755.4 565.9h1.6v1.6h-1.6zM667.1 532.0h1.2v1.2h-1.2zM604.7 566.1h1.5v1.5h-1.5zM671.6 563.5h1.5v1.5h-1.5zM708.1 545.2h1.7v1.7h-1.7zM609.0 576.2h1.7v1.7h-1.7zM660.8 580.4h1.8v1.8h-1.8zM668.1 561.4h1.5v1.5h-1.5zM596.1 591.7h1.7v1.7h-1.7zM713.9 585.8h1.1v1.1h-1.1zM651.2 553.4h1.8v1.8h-1.8zM777.1 565.7h1.2v1.2h-1.2zM745.8 547.2h1.6v1.6h-1.6zM758.9 568.0h1.6v1.6h-1.6zM742.6 566.5h1.1v1.1h-1.1zM704.5 541.7h1.5v1.5h-1.5zM735.0 568.9h1.4v1.4h-1.4zM697.9 532.8h1.3v1.3h-1.3zM693.7 554.2h1.1v1.1h-1.1zM636.3 564.1h1.1v1.1h-1.1zM680.7 593.4h1.4v1.4h-1.4zM676.2 538.2h1.4v1.4h-1.4zM657.7 542.7h1.1v1.1h-1.1zM710.7 579.7h1.3v1.3h-1.3z"/>
<path fill="#183a10" d="M742.5 580.4h1.6v1.6h-1.6zM684.3 562.7h1.5v1.5h-1.5zM724.8 541.7h1.0v1.0h-1.0zM693.9 588.8h1.8v1.8h-1.8zM646.4 586.6h1.6v1.6h-1.6zM636.2 566.3h1.6v1.6h-1.6zM607.4 567.0h1.4v1.4h-1.4zM736.7 572.4h1.7v1.7h-1.7zM731.9 571.7h1.4v1.4h-1.4zM749.6 556.0h1.1v1.1h-1.1zM634.8 568.4h1.1v1.1h-1.1zM680.0 589.9h1.6v1.6h-1.6zM597.1 590.0h1.6v1.6h-1.6zM732.9 582.9h1.3v1.3h-1.3zM754.1 560.8h1.6v1.6h-1.6zM777.6 573.4h1.3v1.3h-1.3zM658.7 570.0h1.8v1.8h-1.8zM657.9 586.4h1.6v1.6h-1.6zM675.6 536.8h1.2v1.2h-1.2zM724.8 574.5h1.0v1.0h-1.0zM695.0 544.0h1.4v1.4h-1.4zM656.5 561.7h1.7v1.7h-1.7zM656.4 555.5h1.1v1.1h-1.1zM628.2 572.6h1.5v1.5h-1.5zM690.6 589.6h1.4v1.4h-1.4zM608.5 562.5h1.1v1.1h-1.1zM641.2 582.4h1.2v1.2h-1.2zM659.7 582.1h1.4v1.4h-1.4zM645.7 580.8h1.8v1.8h-1.8zM739.9 597.6h1.7v1.7h-1.7zM745.4 564.2h1.4v1.4h-1.4zM673.8 549.8h1.7v1.7h-1.7zM625.3 583.1h1.2v1.2h-1.2zM593.5 588.7h1.1v1.1h-1.1zM768.9 570.5h1.7v1.7h-1.7zM760.9 582.8h1.0v1.0h-1.0zM712.6 560.3h1.3v1.3h-1.3zM626.2 564.8h1.4v1.4h-1.4zM639.8 566.4h1.2v1.2h-1.2zM731.5 592.7h1.2v1.2h-1.2zM719.3 553.6h1.1v1.1h-1.1zM753.6 566.9h1.2v1.2h-1.2zM705.1 536.0h1.3v1.3h-1.3zM628.3 575.5h1.2v1.2h-1.2zM602.4 596.9h1.6v1.6h-1.6z"/>
<rect x="567" y="528.6" width="233.8" height="140" filter="url(#cn)" style="mix-blend-mode:multiply"/>
</g>
<text x="573.8" y="540.9" font-size="8.4" font-weight="bold" fill="#fff" text-anchor="start" textLength="24.7" lengthAdjust="spacingAndGlyphs" >1 mm</text>
<rect x="571.8" y="543.5" width="28.4" height="1.4" fill="#fff"/>
</svg>
</body></html>
